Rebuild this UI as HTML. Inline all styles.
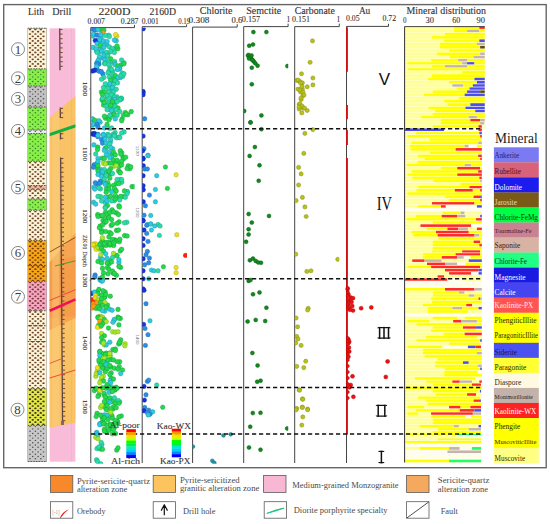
<!DOCTYPE html>
<html><head><meta charset="utf-8"><style>
html,body{margin:0;padding:0;background:#fff;width:550px;height:524px;overflow:hidden}
svg{display:block}
</style></head><body>
<svg width="550" height="524" viewBox="0 0 550 524">
<rect width="550" height="524" fill="#fff"/>
<rect x="3.7" y="4.6" width="542.5" height="463.1" fill="none" stroke="#666" stroke-width="1.4"/>
<text x="28" y="15.3" font-size="10" fill="#333" stroke="#333" stroke-width="0.12" text-anchor="start" font-family="Liberation Serif" textLength="16" lengthAdjust="spacingAndGlyphs" >Lith</text>
<text x="52.3" y="15.3" font-size="10" fill="#333" stroke="#333" stroke-width="0.12" text-anchor="start" font-family="Liberation Serif" textLength="19" lengthAdjust="spacingAndGlyphs" >Drill</text>
<text x="98.5" y="14.6" font-size="10" fill="#333" stroke="#333" stroke-width="0.12" text-anchor="start" font-family="Liberation Serif" textLength="32" lengthAdjust="spacingAndGlyphs" >2200D</text>
<text x="149.4" y="14.6" font-size="10" fill="#333" stroke="#333" stroke-width="0.12" text-anchor="start" font-family="Liberation Serif" textLength="26.6" lengthAdjust="spacingAndGlyphs" >2160D</text>
<text x="199.8" y="14.1" font-size="10" fill="#333" stroke="#333" stroke-width="0.12" text-anchor="start" font-family="Liberation Serif" textLength="32.7" lengthAdjust="spacingAndGlyphs" >Chlorite</text>
<text x="246.3" y="14.1" font-size="10" fill="#333" stroke="#333" stroke-width="0.12" text-anchor="start" font-family="Liberation Serif" textLength="35" lengthAdjust="spacingAndGlyphs" >Semctite</text>
<text x="294.7" y="14.1" font-size="10" fill="#333" stroke="#333" stroke-width="0.12" text-anchor="start" font-family="Liberation Serif" textLength="40.2" lengthAdjust="spacingAndGlyphs" >Carbonate</text>
<text x="358.9" y="14.1" font-size="10" fill="#333" stroke="#333" stroke-width="0.12" text-anchor="start" font-family="Liberation Serif" textLength="11.4" lengthAdjust="spacingAndGlyphs" >Au</text>
<text x="406.5" y="14.1" font-size="10" fill="#333" stroke="#333" stroke-width="0.12" text-anchor="start" font-family="Liberation Serif" textLength="79.5" lengthAdjust="spacingAndGlyphs" >Mineral distribution</text>
<rect x="27.8" y="28.2" width="18.999999999999996" height="40.599999999999994" fill="#fdf4d8"/>
<ellipse cx="30.0" cy="29.4" rx="1.2" ry="0.85" fill="#6e4228"/>
<ellipse cx="35.4" cy="29.4" rx="1.2" ry="0.85" fill="#6e4228"/>
<ellipse cx="40.8" cy="29.4" rx="1.2" ry="0.85" fill="#6e4228"/>
<ellipse cx="32.7" cy="31.7" rx="1.2" ry="0.85" fill="#6e4228"/>
<ellipse cx="38.1" cy="31.7" rx="1.2" ry="0.85" fill="#6e4228"/>
<ellipse cx="43.5" cy="31.7" rx="1.2" ry="0.85" fill="#6e4228"/>
<ellipse cx="30.0" cy="34.0" rx="1.2" ry="0.85" fill="#6e4228"/>
<ellipse cx="35.4" cy="34.0" rx="1.2" ry="0.85" fill="#6e4228"/>
<ellipse cx="40.8" cy="34.0" rx="1.2" ry="0.85" fill="#6e4228"/>
<ellipse cx="32.7" cy="36.3" rx="1.2" ry="0.85" fill="#6e4228"/>
<ellipse cx="38.1" cy="36.3" rx="1.2" ry="0.85" fill="#6e4228"/>
<ellipse cx="43.5" cy="36.3" rx="1.2" ry="0.85" fill="#6e4228"/>
<ellipse cx="30.0" cy="38.6" rx="1.2" ry="0.85" fill="#6e4228"/>
<ellipse cx="35.4" cy="38.6" rx="1.2" ry="0.85" fill="#6e4228"/>
<ellipse cx="40.8" cy="38.6" rx="1.2" ry="0.85" fill="#6e4228"/>
<ellipse cx="32.7" cy="40.9" rx="1.2" ry="0.85" fill="#6e4228"/>
<ellipse cx="38.1" cy="40.9" rx="1.2" ry="0.85" fill="#6e4228"/>
<ellipse cx="43.5" cy="40.9" rx="1.2" ry="0.85" fill="#6e4228"/>
<ellipse cx="30.0" cy="43.2" rx="1.2" ry="0.85" fill="#6e4228"/>
<ellipse cx="35.4" cy="43.2" rx="1.2" ry="0.85" fill="#6e4228"/>
<ellipse cx="40.8" cy="43.2" rx="1.2" ry="0.85" fill="#6e4228"/>
<ellipse cx="32.7" cy="45.5" rx="1.2" ry="0.85" fill="#6e4228"/>
<ellipse cx="38.1" cy="45.5" rx="1.2" ry="0.85" fill="#6e4228"/>
<ellipse cx="43.5" cy="45.5" rx="1.2" ry="0.85" fill="#6e4228"/>
<ellipse cx="30.0" cy="47.8" rx="1.2" ry="0.85" fill="#6e4228"/>
<ellipse cx="35.4" cy="47.8" rx="1.2" ry="0.85" fill="#6e4228"/>
<ellipse cx="40.8" cy="47.8" rx="1.2" ry="0.85" fill="#6e4228"/>
<ellipse cx="32.7" cy="50.1" rx="1.2" ry="0.85" fill="#6e4228"/>
<ellipse cx="38.1" cy="50.1" rx="1.2" ry="0.85" fill="#6e4228"/>
<ellipse cx="43.5" cy="50.1" rx="1.2" ry="0.85" fill="#6e4228"/>
<ellipse cx="30.0" cy="52.4" rx="1.2" ry="0.85" fill="#6e4228"/>
<ellipse cx="35.4" cy="52.4" rx="1.2" ry="0.85" fill="#6e4228"/>
<ellipse cx="40.8" cy="52.4" rx="1.2" ry="0.85" fill="#6e4228"/>
<ellipse cx="32.7" cy="54.7" rx="1.2" ry="0.85" fill="#6e4228"/>
<ellipse cx="38.1" cy="54.7" rx="1.2" ry="0.85" fill="#6e4228"/>
<ellipse cx="43.5" cy="54.7" rx="1.2" ry="0.85" fill="#6e4228"/>
<ellipse cx="30.0" cy="57.0" rx="1.2" ry="0.85" fill="#6e4228"/>
<ellipse cx="35.4" cy="57.0" rx="1.2" ry="0.85" fill="#6e4228"/>
<ellipse cx="40.8" cy="57.0" rx="1.2" ry="0.85" fill="#6e4228"/>
<ellipse cx="32.7" cy="59.3" rx="1.2" ry="0.85" fill="#6e4228"/>
<ellipse cx="38.1" cy="59.3" rx="1.2" ry="0.85" fill="#6e4228"/>
<ellipse cx="43.5" cy="59.3" rx="1.2" ry="0.85" fill="#6e4228"/>
<ellipse cx="30.0" cy="61.6" rx="1.2" ry="0.85" fill="#6e4228"/>
<ellipse cx="35.4" cy="61.6" rx="1.2" ry="0.85" fill="#6e4228"/>
<ellipse cx="40.8" cy="61.6" rx="1.2" ry="0.85" fill="#6e4228"/>
<ellipse cx="32.7" cy="63.9" rx="1.2" ry="0.85" fill="#6e4228"/>
<ellipse cx="38.1" cy="63.9" rx="1.2" ry="0.85" fill="#6e4228"/>
<ellipse cx="43.5" cy="63.9" rx="1.2" ry="0.85" fill="#6e4228"/>
<ellipse cx="30.0" cy="66.2" rx="1.2" ry="0.85" fill="#6e4228"/>
<ellipse cx="35.4" cy="66.2" rx="1.2" ry="0.85" fill="#6e4228"/>
<ellipse cx="40.8" cy="66.2" rx="1.2" ry="0.85" fill="#6e4228"/>
<line x1="27.8" y1="28.2" x2="46.8" y2="28.2" stroke="#4a4a3a" stroke-width="0.9" stroke-dasharray="1.6 1.1"/>
<rect x="27.8" y="68.8" width="18.999999999999996" height="17.200000000000003" fill="#88ee4a"/>
<ellipse cx="30.0" cy="70.0" rx="0.8" ry="0.7" fill="#3a7a2a"/>
<ellipse cx="35.4" cy="70.0" rx="0.8" ry="0.7" fill="#3a7a2a"/>
<ellipse cx="40.8" cy="70.0" rx="0.8" ry="0.7" fill="#3a7a2a"/>
<ellipse cx="32.7" cy="72.3" rx="0.8" ry="0.7" fill="#3a7a2a"/>
<ellipse cx="38.1" cy="72.3" rx="0.8" ry="0.7" fill="#3a7a2a"/>
<ellipse cx="43.5" cy="72.3" rx="0.8" ry="0.7" fill="#3a7a2a"/>
<ellipse cx="30.0" cy="74.6" rx="0.8" ry="0.7" fill="#3a7a2a"/>
<ellipse cx="35.4" cy="74.6" rx="0.8" ry="0.7" fill="#3a7a2a"/>
<ellipse cx="40.8" cy="74.6" rx="0.8" ry="0.7" fill="#3a7a2a"/>
<ellipse cx="32.7" cy="76.9" rx="0.8" ry="0.7" fill="#3a7a2a"/>
<ellipse cx="38.1" cy="76.9" rx="0.8" ry="0.7" fill="#3a7a2a"/>
<ellipse cx="43.5" cy="76.9" rx="0.8" ry="0.7" fill="#3a7a2a"/>
<ellipse cx="30.0" cy="79.2" rx="0.8" ry="0.7" fill="#3a7a2a"/>
<ellipse cx="35.4" cy="79.2" rx="0.8" ry="0.7" fill="#3a7a2a"/>
<ellipse cx="40.8" cy="79.2" rx="0.8" ry="0.7" fill="#3a7a2a"/>
<ellipse cx="32.7" cy="81.5" rx="0.8" ry="0.7" fill="#3a7a2a"/>
<ellipse cx="38.1" cy="81.5" rx="0.8" ry="0.7" fill="#3a7a2a"/>
<ellipse cx="43.5" cy="81.5" rx="0.8" ry="0.7" fill="#3a7a2a"/>
<ellipse cx="30.0" cy="83.8" rx="0.8" ry="0.7" fill="#3a7a2a"/>
<ellipse cx="35.4" cy="83.8" rx="0.8" ry="0.7" fill="#3a7a2a"/>
<ellipse cx="40.8" cy="83.8" rx="0.8" ry="0.7" fill="#3a7a2a"/>
<line x1="27.8" y1="68.8" x2="46.8" y2="68.8" stroke="#4a4a3a" stroke-width="0.9" stroke-dasharray="1.6 1.1"/>
<rect x="27.8" y="86" width="18.999999999999996" height="21" fill="#c2c2c2"/>
<ellipse cx="30.0" cy="87.2" rx="0.8" ry="0.7" fill="#505050"/>
<ellipse cx="35.4" cy="87.2" rx="0.8" ry="0.7" fill="#505050"/>
<ellipse cx="40.8" cy="87.2" rx="0.8" ry="0.7" fill="#505050"/>
<ellipse cx="32.7" cy="89.5" rx="0.8" ry="0.7" fill="#505050"/>
<ellipse cx="38.1" cy="89.5" rx="0.8" ry="0.7" fill="#505050"/>
<ellipse cx="43.5" cy="89.5" rx="0.8" ry="0.7" fill="#505050"/>
<ellipse cx="30.0" cy="91.8" rx="0.8" ry="0.7" fill="#505050"/>
<ellipse cx="35.4" cy="91.8" rx="0.8" ry="0.7" fill="#505050"/>
<ellipse cx="40.8" cy="91.8" rx="0.8" ry="0.7" fill="#505050"/>
<ellipse cx="32.7" cy="94.1" rx="0.8" ry="0.7" fill="#505050"/>
<ellipse cx="38.1" cy="94.1" rx="0.8" ry="0.7" fill="#505050"/>
<ellipse cx="43.5" cy="94.1" rx="0.8" ry="0.7" fill="#505050"/>
<ellipse cx="30.0" cy="96.4" rx="0.8" ry="0.7" fill="#505050"/>
<ellipse cx="35.4" cy="96.4" rx="0.8" ry="0.7" fill="#505050"/>
<ellipse cx="40.8" cy="96.4" rx="0.8" ry="0.7" fill="#505050"/>
<ellipse cx="32.7" cy="98.7" rx="0.8" ry="0.7" fill="#505050"/>
<ellipse cx="38.1" cy="98.7" rx="0.8" ry="0.7" fill="#505050"/>
<ellipse cx="43.5" cy="98.7" rx="0.8" ry="0.7" fill="#505050"/>
<ellipse cx="30.0" cy="101.0" rx="0.8" ry="0.7" fill="#505050"/>
<ellipse cx="35.4" cy="101.0" rx="0.8" ry="0.7" fill="#505050"/>
<ellipse cx="40.8" cy="101.0" rx="0.8" ry="0.7" fill="#505050"/>
<ellipse cx="32.7" cy="103.3" rx="0.8" ry="0.7" fill="#505050"/>
<ellipse cx="38.1" cy="103.3" rx="0.8" ry="0.7" fill="#505050"/>
<ellipse cx="43.5" cy="103.3" rx="0.8" ry="0.7" fill="#505050"/>
<ellipse cx="30.0" cy="105.6" rx="0.8" ry="0.7" fill="#505050"/>
<ellipse cx="35.4" cy="105.6" rx="0.8" ry="0.7" fill="#505050"/>
<ellipse cx="40.8" cy="105.6" rx="0.8" ry="0.7" fill="#505050"/>
<line x1="27.8" y1="86" x2="46.8" y2="86" stroke="#4a4a3a" stroke-width="0.9" stroke-dasharray="1.6 1.1"/>
<rect x="27.8" y="107" width="18.999999999999996" height="23" fill="#88ee4a"/>
<ellipse cx="30.0" cy="108.2" rx="0.8" ry="0.7" fill="#3a7a2a"/>
<ellipse cx="35.4" cy="108.2" rx="0.8" ry="0.7" fill="#3a7a2a"/>
<ellipse cx="40.8" cy="108.2" rx="0.8" ry="0.7" fill="#3a7a2a"/>
<ellipse cx="32.7" cy="110.5" rx="0.8" ry="0.7" fill="#3a7a2a"/>
<ellipse cx="38.1" cy="110.5" rx="0.8" ry="0.7" fill="#3a7a2a"/>
<ellipse cx="43.5" cy="110.5" rx="0.8" ry="0.7" fill="#3a7a2a"/>
<ellipse cx="30.0" cy="112.8" rx="0.8" ry="0.7" fill="#3a7a2a"/>
<ellipse cx="35.4" cy="112.8" rx="0.8" ry="0.7" fill="#3a7a2a"/>
<ellipse cx="40.8" cy="112.8" rx="0.8" ry="0.7" fill="#3a7a2a"/>
<ellipse cx="32.7" cy="115.1" rx="0.8" ry="0.7" fill="#3a7a2a"/>
<ellipse cx="38.1" cy="115.1" rx="0.8" ry="0.7" fill="#3a7a2a"/>
<ellipse cx="43.5" cy="115.1" rx="0.8" ry="0.7" fill="#3a7a2a"/>
<ellipse cx="30.0" cy="117.4" rx="0.8" ry="0.7" fill="#3a7a2a"/>
<ellipse cx="35.4" cy="117.4" rx="0.8" ry="0.7" fill="#3a7a2a"/>
<ellipse cx="40.8" cy="117.4" rx="0.8" ry="0.7" fill="#3a7a2a"/>
<ellipse cx="32.7" cy="119.7" rx="0.8" ry="0.7" fill="#3a7a2a"/>
<ellipse cx="38.1" cy="119.7" rx="0.8" ry="0.7" fill="#3a7a2a"/>
<ellipse cx="43.5" cy="119.7" rx="0.8" ry="0.7" fill="#3a7a2a"/>
<ellipse cx="30.0" cy="122.0" rx="0.8" ry="0.7" fill="#3a7a2a"/>
<ellipse cx="35.4" cy="122.0" rx="0.8" ry="0.7" fill="#3a7a2a"/>
<ellipse cx="40.8" cy="122.0" rx="0.8" ry="0.7" fill="#3a7a2a"/>
<ellipse cx="32.7" cy="124.3" rx="0.8" ry="0.7" fill="#3a7a2a"/>
<ellipse cx="38.1" cy="124.3" rx="0.8" ry="0.7" fill="#3a7a2a"/>
<ellipse cx="43.5" cy="124.3" rx="0.8" ry="0.7" fill="#3a7a2a"/>
<ellipse cx="30.0" cy="126.6" rx="0.8" ry="0.7" fill="#3a7a2a"/>
<ellipse cx="35.4" cy="126.6" rx="0.8" ry="0.7" fill="#3a7a2a"/>
<ellipse cx="40.8" cy="126.6" rx="0.8" ry="0.7" fill="#3a7a2a"/>
<ellipse cx="32.7" cy="128.9" rx="0.8" ry="0.7" fill="#3a7a2a"/>
<ellipse cx="38.1" cy="128.9" rx="0.8" ry="0.7" fill="#3a7a2a"/>
<ellipse cx="43.5" cy="128.9" rx="0.8" ry="0.7" fill="#3a7a2a"/>
<line x1="27.8" y1="107" x2="46.8" y2="107" stroke="#4a4a3a" stroke-width="0.9" stroke-dasharray="1.6 1.1"/>
<rect x="27.8" y="130" width="18.999999999999996" height="3.5" fill="#e6eef0"/>
<ellipse cx="30.0" cy="131.2" rx="0.8" ry="0.7" fill="#444"/>
<ellipse cx="35.4" cy="131.2" rx="0.8" ry="0.7" fill="#444"/>
<ellipse cx="40.8" cy="131.2" rx="0.8" ry="0.7" fill="#444"/>
<line x1="27.8" y1="130" x2="46.8" y2="130" stroke="#4a4a3a" stroke-width="0.9" stroke-dasharray="1.6 1.1"/>
<rect x="27.8" y="133.5" width="18.999999999999996" height="27.900000000000006" fill="#88ee4a"/>
<ellipse cx="30.0" cy="134.7" rx="0.8" ry="0.7" fill="#3a7a2a"/>
<ellipse cx="35.4" cy="134.7" rx="0.8" ry="0.7" fill="#3a7a2a"/>
<ellipse cx="40.8" cy="134.7" rx="0.8" ry="0.7" fill="#3a7a2a"/>
<ellipse cx="32.7" cy="137.0" rx="0.8" ry="0.7" fill="#3a7a2a"/>
<ellipse cx="38.1" cy="137.0" rx="0.8" ry="0.7" fill="#3a7a2a"/>
<ellipse cx="43.5" cy="137.0" rx="0.8" ry="0.7" fill="#3a7a2a"/>
<ellipse cx="30.0" cy="139.3" rx="0.8" ry="0.7" fill="#3a7a2a"/>
<ellipse cx="35.4" cy="139.3" rx="0.8" ry="0.7" fill="#3a7a2a"/>
<ellipse cx="40.8" cy="139.3" rx="0.8" ry="0.7" fill="#3a7a2a"/>
<ellipse cx="32.7" cy="141.6" rx="0.8" ry="0.7" fill="#3a7a2a"/>
<ellipse cx="38.1" cy="141.6" rx="0.8" ry="0.7" fill="#3a7a2a"/>
<ellipse cx="43.5" cy="141.6" rx="0.8" ry="0.7" fill="#3a7a2a"/>
<ellipse cx="30.0" cy="143.9" rx="0.8" ry="0.7" fill="#3a7a2a"/>
<ellipse cx="35.4" cy="143.9" rx="0.8" ry="0.7" fill="#3a7a2a"/>
<ellipse cx="40.8" cy="143.9" rx="0.8" ry="0.7" fill="#3a7a2a"/>
<ellipse cx="32.7" cy="146.2" rx="0.8" ry="0.7" fill="#3a7a2a"/>
<ellipse cx="38.1" cy="146.2" rx="0.8" ry="0.7" fill="#3a7a2a"/>
<ellipse cx="43.5" cy="146.2" rx="0.8" ry="0.7" fill="#3a7a2a"/>
<ellipse cx="30.0" cy="148.5" rx="0.8" ry="0.7" fill="#3a7a2a"/>
<ellipse cx="35.4" cy="148.5" rx="0.8" ry="0.7" fill="#3a7a2a"/>
<ellipse cx="40.8" cy="148.5" rx="0.8" ry="0.7" fill="#3a7a2a"/>
<ellipse cx="32.7" cy="150.8" rx="0.8" ry="0.7" fill="#3a7a2a"/>
<ellipse cx="38.1" cy="150.8" rx="0.8" ry="0.7" fill="#3a7a2a"/>
<ellipse cx="43.5" cy="150.8" rx="0.8" ry="0.7" fill="#3a7a2a"/>
<ellipse cx="30.0" cy="153.1" rx="0.8" ry="0.7" fill="#3a7a2a"/>
<ellipse cx="35.4" cy="153.1" rx="0.8" ry="0.7" fill="#3a7a2a"/>
<ellipse cx="40.8" cy="153.1" rx="0.8" ry="0.7" fill="#3a7a2a"/>
<ellipse cx="32.7" cy="155.4" rx="0.8" ry="0.7" fill="#3a7a2a"/>
<ellipse cx="38.1" cy="155.4" rx="0.8" ry="0.7" fill="#3a7a2a"/>
<ellipse cx="43.5" cy="155.4" rx="0.8" ry="0.7" fill="#3a7a2a"/>
<ellipse cx="30.0" cy="157.7" rx="0.8" ry="0.7" fill="#3a7a2a"/>
<ellipse cx="35.4" cy="157.7" rx="0.8" ry="0.7" fill="#3a7a2a"/>
<ellipse cx="40.8" cy="157.7" rx="0.8" ry="0.7" fill="#3a7a2a"/>
<ellipse cx="32.7" cy="160.0" rx="0.8" ry="0.7" fill="#3a7a2a"/>
<ellipse cx="38.1" cy="160.0" rx="0.8" ry="0.7" fill="#3a7a2a"/>
<ellipse cx="43.5" cy="160.0" rx="0.8" ry="0.7" fill="#3a7a2a"/>
<line x1="27.8" y1="133.5" x2="46.8" y2="133.5" stroke="#4a4a3a" stroke-width="0.9" stroke-dasharray="1.6 1.1"/>
<rect x="27.8" y="161.4" width="18.999999999999996" height="24.099999999999994" fill="#fdf4d8"/>
<ellipse cx="30.0" cy="162.6" rx="1.2" ry="0.85" fill="#6e4228"/>
<ellipse cx="35.4" cy="162.6" rx="1.2" ry="0.85" fill="#6e4228"/>
<ellipse cx="40.8" cy="162.6" rx="1.2" ry="0.85" fill="#6e4228"/>
<ellipse cx="32.7" cy="164.9" rx="1.2" ry="0.85" fill="#6e4228"/>
<ellipse cx="38.1" cy="164.9" rx="1.2" ry="0.85" fill="#6e4228"/>
<ellipse cx="43.5" cy="164.9" rx="1.2" ry="0.85" fill="#6e4228"/>
<ellipse cx="30.0" cy="167.2" rx="1.2" ry="0.85" fill="#6e4228"/>
<ellipse cx="35.4" cy="167.2" rx="1.2" ry="0.85" fill="#6e4228"/>
<ellipse cx="40.8" cy="167.2" rx="1.2" ry="0.85" fill="#6e4228"/>
<ellipse cx="32.7" cy="169.5" rx="1.2" ry="0.85" fill="#6e4228"/>
<ellipse cx="38.1" cy="169.5" rx="1.2" ry="0.85" fill="#6e4228"/>
<ellipse cx="43.5" cy="169.5" rx="1.2" ry="0.85" fill="#6e4228"/>
<ellipse cx="30.0" cy="171.8" rx="1.2" ry="0.85" fill="#6e4228"/>
<ellipse cx="35.4" cy="171.8" rx="1.2" ry="0.85" fill="#6e4228"/>
<ellipse cx="40.8" cy="171.8" rx="1.2" ry="0.85" fill="#6e4228"/>
<ellipse cx="32.7" cy="174.1" rx="1.2" ry="0.85" fill="#6e4228"/>
<ellipse cx="38.1" cy="174.1" rx="1.2" ry="0.85" fill="#6e4228"/>
<ellipse cx="43.5" cy="174.1" rx="1.2" ry="0.85" fill="#6e4228"/>
<ellipse cx="30.0" cy="176.4" rx="1.2" ry="0.85" fill="#6e4228"/>
<ellipse cx="35.4" cy="176.4" rx="1.2" ry="0.85" fill="#6e4228"/>
<ellipse cx="40.8" cy="176.4" rx="1.2" ry="0.85" fill="#6e4228"/>
<ellipse cx="32.7" cy="178.7" rx="1.2" ry="0.85" fill="#6e4228"/>
<ellipse cx="38.1" cy="178.7" rx="1.2" ry="0.85" fill="#6e4228"/>
<ellipse cx="43.5" cy="178.7" rx="1.2" ry="0.85" fill="#6e4228"/>
<ellipse cx="30.0" cy="181.0" rx="1.2" ry="0.85" fill="#6e4228"/>
<ellipse cx="35.4" cy="181.0" rx="1.2" ry="0.85" fill="#6e4228"/>
<ellipse cx="40.8" cy="181.0" rx="1.2" ry="0.85" fill="#6e4228"/>
<ellipse cx="32.7" cy="183.3" rx="1.2" ry="0.85" fill="#6e4228"/>
<ellipse cx="38.1" cy="183.3" rx="1.2" ry="0.85" fill="#6e4228"/>
<ellipse cx="43.5" cy="183.3" rx="1.2" ry="0.85" fill="#6e4228"/>
<line x1="27.8" y1="161.4" x2="46.8" y2="161.4" stroke="#4a4a3a" stroke-width="0.9" stroke-dasharray="1.6 1.1"/>
<rect x="27.8" y="185.5" width="18.999999999999996" height="4.199999999999989" fill="#e8b8a0"/>
<ellipse cx="30.0" cy="186.7" rx="1.2" ry="0.85" fill="#7a4a2a"/>
<ellipse cx="35.4" cy="186.7" rx="1.2" ry="0.85" fill="#7a4a2a"/>
<ellipse cx="40.8" cy="186.7" rx="1.2" ry="0.85" fill="#7a4a2a"/>
<ellipse cx="32.7" cy="189.0" rx="1.2" ry="0.85" fill="#7a4a2a"/>
<ellipse cx="38.1" cy="189.0" rx="1.2" ry="0.85" fill="#7a4a2a"/>
<ellipse cx="43.5" cy="189.0" rx="1.2" ry="0.85" fill="#7a4a2a"/>
<line x1="27.8" y1="185.5" x2="46.8" y2="185.5" stroke="#4a4a3a" stroke-width="0.9" stroke-dasharray="1.6 1.1"/>
<rect x="27.8" y="189.7" width="18.999999999999996" height="9.300000000000011" fill="#fdf4d8"/>
<ellipse cx="30.0" cy="190.9" rx="1.2" ry="0.85" fill="#6e4228"/>
<ellipse cx="35.4" cy="190.9" rx="1.2" ry="0.85" fill="#6e4228"/>
<ellipse cx="40.8" cy="190.9" rx="1.2" ry="0.85" fill="#6e4228"/>
<ellipse cx="32.7" cy="193.2" rx="1.2" ry="0.85" fill="#6e4228"/>
<ellipse cx="38.1" cy="193.2" rx="1.2" ry="0.85" fill="#6e4228"/>
<ellipse cx="43.5" cy="193.2" rx="1.2" ry="0.85" fill="#6e4228"/>
<ellipse cx="30.0" cy="195.5" rx="1.2" ry="0.85" fill="#6e4228"/>
<ellipse cx="35.4" cy="195.5" rx="1.2" ry="0.85" fill="#6e4228"/>
<ellipse cx="40.8" cy="195.5" rx="1.2" ry="0.85" fill="#6e4228"/>
<ellipse cx="32.7" cy="197.8" rx="1.2" ry="0.85" fill="#6e4228"/>
<ellipse cx="38.1" cy="197.8" rx="1.2" ry="0.85" fill="#6e4228"/>
<ellipse cx="43.5" cy="197.8" rx="1.2" ry="0.85" fill="#6e4228"/>
<line x1="27.8" y1="189.7" x2="46.8" y2="189.7" stroke="#4a4a3a" stroke-width="0.9" stroke-dasharray="1.6 1.1"/>
<rect x="27.8" y="199" width="18.999999999999996" height="11.300000000000011" fill="#88ee4a"/>
<ellipse cx="30.0" cy="200.2" rx="0.8" ry="0.7" fill="#3a7a2a"/>
<ellipse cx="35.4" cy="200.2" rx="0.8" ry="0.7" fill="#3a7a2a"/>
<ellipse cx="40.8" cy="200.2" rx="0.8" ry="0.7" fill="#3a7a2a"/>
<ellipse cx="32.7" cy="202.5" rx="0.8" ry="0.7" fill="#3a7a2a"/>
<ellipse cx="38.1" cy="202.5" rx="0.8" ry="0.7" fill="#3a7a2a"/>
<ellipse cx="43.5" cy="202.5" rx="0.8" ry="0.7" fill="#3a7a2a"/>
<ellipse cx="30.0" cy="204.8" rx="0.8" ry="0.7" fill="#3a7a2a"/>
<ellipse cx="35.4" cy="204.8" rx="0.8" ry="0.7" fill="#3a7a2a"/>
<ellipse cx="40.8" cy="204.8" rx="0.8" ry="0.7" fill="#3a7a2a"/>
<ellipse cx="32.7" cy="207.1" rx="0.8" ry="0.7" fill="#3a7a2a"/>
<ellipse cx="38.1" cy="207.1" rx="0.8" ry="0.7" fill="#3a7a2a"/>
<ellipse cx="43.5" cy="207.1" rx="0.8" ry="0.7" fill="#3a7a2a"/>
<ellipse cx="30.0" cy="209.4" rx="0.8" ry="0.7" fill="#3a7a2a"/>
<ellipse cx="35.4" cy="209.4" rx="0.8" ry="0.7" fill="#3a7a2a"/>
<ellipse cx="40.8" cy="209.4" rx="0.8" ry="0.7" fill="#3a7a2a"/>
<line x1="27.8" y1="199" x2="46.8" y2="199" stroke="#4a4a3a" stroke-width="0.9" stroke-dasharray="1.6 1.1"/>
<rect x="27.8" y="210.3" width="18.999999999999996" height="30.099999999999994" fill="#fdf4d8"/>
<ellipse cx="30.0" cy="211.5" rx="1.2" ry="0.85" fill="#6e4228"/>
<ellipse cx="35.4" cy="211.5" rx="1.2" ry="0.85" fill="#6e4228"/>
<ellipse cx="40.8" cy="211.5" rx="1.2" ry="0.85" fill="#6e4228"/>
<ellipse cx="32.7" cy="213.8" rx="1.2" ry="0.85" fill="#6e4228"/>
<ellipse cx="38.1" cy="213.8" rx="1.2" ry="0.85" fill="#6e4228"/>
<ellipse cx="43.5" cy="213.8" rx="1.2" ry="0.85" fill="#6e4228"/>
<ellipse cx="30.0" cy="216.1" rx="1.2" ry="0.85" fill="#6e4228"/>
<ellipse cx="35.4" cy="216.1" rx="1.2" ry="0.85" fill="#6e4228"/>
<ellipse cx="40.8" cy="216.1" rx="1.2" ry="0.85" fill="#6e4228"/>
<ellipse cx="32.7" cy="218.4" rx="1.2" ry="0.85" fill="#6e4228"/>
<ellipse cx="38.1" cy="218.4" rx="1.2" ry="0.85" fill="#6e4228"/>
<ellipse cx="43.5" cy="218.4" rx="1.2" ry="0.85" fill="#6e4228"/>
<ellipse cx="30.0" cy="220.7" rx="1.2" ry="0.85" fill="#6e4228"/>
<ellipse cx="35.4" cy="220.7" rx="1.2" ry="0.85" fill="#6e4228"/>
<ellipse cx="40.8" cy="220.7" rx="1.2" ry="0.85" fill="#6e4228"/>
<ellipse cx="32.7" cy="223.0" rx="1.2" ry="0.85" fill="#6e4228"/>
<ellipse cx="38.1" cy="223.0" rx="1.2" ry="0.85" fill="#6e4228"/>
<ellipse cx="43.5" cy="223.0" rx="1.2" ry="0.85" fill="#6e4228"/>
<ellipse cx="30.0" cy="225.3" rx="1.2" ry="0.85" fill="#6e4228"/>
<ellipse cx="35.4" cy="225.3" rx="1.2" ry="0.85" fill="#6e4228"/>
<ellipse cx="40.8" cy="225.3" rx="1.2" ry="0.85" fill="#6e4228"/>
<ellipse cx="32.7" cy="227.6" rx="1.2" ry="0.85" fill="#6e4228"/>
<ellipse cx="38.1" cy="227.6" rx="1.2" ry="0.85" fill="#6e4228"/>
<ellipse cx="43.5" cy="227.6" rx="1.2" ry="0.85" fill="#6e4228"/>
<ellipse cx="30.0" cy="229.9" rx="1.2" ry="0.85" fill="#6e4228"/>
<ellipse cx="35.4" cy="229.9" rx="1.2" ry="0.85" fill="#6e4228"/>
<ellipse cx="40.8" cy="229.9" rx="1.2" ry="0.85" fill="#6e4228"/>
<ellipse cx="32.7" cy="232.2" rx="1.2" ry="0.85" fill="#6e4228"/>
<ellipse cx="38.1" cy="232.2" rx="1.2" ry="0.85" fill="#6e4228"/>
<ellipse cx="43.5" cy="232.2" rx="1.2" ry="0.85" fill="#6e4228"/>
<ellipse cx="30.0" cy="234.5" rx="1.2" ry="0.85" fill="#6e4228"/>
<ellipse cx="35.4" cy="234.5" rx="1.2" ry="0.85" fill="#6e4228"/>
<ellipse cx="40.8" cy="234.5" rx="1.2" ry="0.85" fill="#6e4228"/>
<ellipse cx="32.7" cy="236.8" rx="1.2" ry="0.85" fill="#6e4228"/>
<ellipse cx="38.1" cy="236.8" rx="1.2" ry="0.85" fill="#6e4228"/>
<ellipse cx="43.5" cy="236.8" rx="1.2" ry="0.85" fill="#6e4228"/>
<ellipse cx="30.0" cy="239.1" rx="1.2" ry="0.85" fill="#6e4228"/>
<ellipse cx="35.4" cy="239.1" rx="1.2" ry="0.85" fill="#6e4228"/>
<ellipse cx="40.8" cy="239.1" rx="1.2" ry="0.85" fill="#6e4228"/>
<line x1="27.8" y1="210.3" x2="46.8" y2="210.3" stroke="#4a4a3a" stroke-width="0.9" stroke-dasharray="1.6 1.1"/>
<rect x="27.8" y="240.4" width="18.999999999999996" height="40.900000000000006" fill="#f7a818"/>
<ellipse cx="30.0" cy="241.6" rx="1.2" ry="0.85" fill="#7a3a10"/>
<ellipse cx="35.4" cy="241.6" rx="1.2" ry="0.85" fill="#7a3a10"/>
<ellipse cx="40.8" cy="241.6" rx="1.2" ry="0.85" fill="#7a3a10"/>
<ellipse cx="32.7" cy="243.9" rx="1.2" ry="0.85" fill="#7a3a10"/>
<ellipse cx="38.1" cy="243.9" rx="1.2" ry="0.85" fill="#7a3a10"/>
<ellipse cx="43.5" cy="243.9" rx="1.2" ry="0.85" fill="#7a3a10"/>
<ellipse cx="30.0" cy="246.2" rx="1.2" ry="0.85" fill="#7a3a10"/>
<ellipse cx="35.4" cy="246.2" rx="1.2" ry="0.85" fill="#7a3a10"/>
<ellipse cx="40.8" cy="246.2" rx="1.2" ry="0.85" fill="#7a3a10"/>
<ellipse cx="32.7" cy="248.5" rx="1.2" ry="0.85" fill="#7a3a10"/>
<ellipse cx="38.1" cy="248.5" rx="1.2" ry="0.85" fill="#7a3a10"/>
<ellipse cx="43.5" cy="248.5" rx="1.2" ry="0.85" fill="#7a3a10"/>
<ellipse cx="30.0" cy="250.8" rx="1.2" ry="0.85" fill="#7a3a10"/>
<ellipse cx="35.4" cy="250.8" rx="1.2" ry="0.85" fill="#7a3a10"/>
<ellipse cx="40.8" cy="250.8" rx="1.2" ry="0.85" fill="#7a3a10"/>
<ellipse cx="32.7" cy="253.1" rx="1.2" ry="0.85" fill="#7a3a10"/>
<ellipse cx="38.1" cy="253.1" rx="1.2" ry="0.85" fill="#7a3a10"/>
<ellipse cx="43.5" cy="253.1" rx="1.2" ry="0.85" fill="#7a3a10"/>
<ellipse cx="30.0" cy="255.4" rx="1.2" ry="0.85" fill="#7a3a10"/>
<ellipse cx="35.4" cy="255.4" rx="1.2" ry="0.85" fill="#7a3a10"/>
<ellipse cx="40.8" cy="255.4" rx="1.2" ry="0.85" fill="#7a3a10"/>
<ellipse cx="32.7" cy="257.7" rx="1.2" ry="0.85" fill="#7a3a10"/>
<ellipse cx="38.1" cy="257.7" rx="1.2" ry="0.85" fill="#7a3a10"/>
<ellipse cx="43.5" cy="257.7" rx="1.2" ry="0.85" fill="#7a3a10"/>
<ellipse cx="30.0" cy="260.0" rx="1.2" ry="0.85" fill="#7a3a10"/>
<ellipse cx="35.4" cy="260.0" rx="1.2" ry="0.85" fill="#7a3a10"/>
<ellipse cx="40.8" cy="260.0" rx="1.2" ry="0.85" fill="#7a3a10"/>
<ellipse cx="32.7" cy="262.3" rx="1.2" ry="0.85" fill="#7a3a10"/>
<ellipse cx="38.1" cy="262.3" rx="1.2" ry="0.85" fill="#7a3a10"/>
<ellipse cx="43.5" cy="262.3" rx="1.2" ry="0.85" fill="#7a3a10"/>
<ellipse cx="30.0" cy="264.6" rx="1.2" ry="0.85" fill="#7a3a10"/>
<ellipse cx="35.4" cy="264.6" rx="1.2" ry="0.85" fill="#7a3a10"/>
<ellipse cx="40.8" cy="264.6" rx="1.2" ry="0.85" fill="#7a3a10"/>
<ellipse cx="32.7" cy="266.9" rx="1.2" ry="0.85" fill="#7a3a10"/>
<ellipse cx="38.1" cy="266.9" rx="1.2" ry="0.85" fill="#7a3a10"/>
<ellipse cx="43.5" cy="266.9" rx="1.2" ry="0.85" fill="#7a3a10"/>
<ellipse cx="30.0" cy="269.2" rx="1.2" ry="0.85" fill="#7a3a10"/>
<ellipse cx="35.4" cy="269.2" rx="1.2" ry="0.85" fill="#7a3a10"/>
<ellipse cx="40.8" cy="269.2" rx="1.2" ry="0.85" fill="#7a3a10"/>
<ellipse cx="32.7" cy="271.5" rx="1.2" ry="0.85" fill="#7a3a10"/>
<ellipse cx="38.1" cy="271.5" rx="1.2" ry="0.85" fill="#7a3a10"/>
<ellipse cx="43.5" cy="271.5" rx="1.2" ry="0.85" fill="#7a3a10"/>
<ellipse cx="30.0" cy="273.8" rx="1.2" ry="0.85" fill="#7a3a10"/>
<ellipse cx="35.4" cy="273.8" rx="1.2" ry="0.85" fill="#7a3a10"/>
<ellipse cx="40.8" cy="273.8" rx="1.2" ry="0.85" fill="#7a3a10"/>
<ellipse cx="32.7" cy="276.1" rx="1.2" ry="0.85" fill="#7a3a10"/>
<ellipse cx="38.1" cy="276.1" rx="1.2" ry="0.85" fill="#7a3a10"/>
<ellipse cx="43.5" cy="276.1" rx="1.2" ry="0.85" fill="#7a3a10"/>
<ellipse cx="30.0" cy="278.4" rx="1.2" ry="0.85" fill="#7a3a10"/>
<ellipse cx="35.4" cy="278.4" rx="1.2" ry="0.85" fill="#7a3a10"/>
<ellipse cx="40.8" cy="278.4" rx="1.2" ry="0.85" fill="#7a3a10"/>
<ellipse cx="32.7" cy="280.7" rx="1.2" ry="0.85" fill="#7a3a10"/>
<ellipse cx="38.1" cy="280.7" rx="1.2" ry="0.85" fill="#7a3a10"/>
<ellipse cx="43.5" cy="280.7" rx="1.2" ry="0.85" fill="#7a3a10"/>
<line x1="27.8" y1="240.4" x2="46.8" y2="240.4" stroke="#4a4a3a" stroke-width="0.9" stroke-dasharray="1.6 1.1"/>
<rect x="27.8" y="281.3" width="18.999999999999996" height="29.399999999999977" fill="#f6a6c0"/>
<ellipse cx="30.0" cy="282.5" rx="1.2" ry="0.85" fill="#7a3a3a"/>
<ellipse cx="35.4" cy="282.5" rx="1.2" ry="0.85" fill="#7a3a3a"/>
<ellipse cx="40.8" cy="282.5" rx="1.2" ry="0.85" fill="#7a3a3a"/>
<ellipse cx="32.7" cy="284.8" rx="1.2" ry="0.85" fill="#7a3a3a"/>
<ellipse cx="38.1" cy="284.8" rx="1.2" ry="0.85" fill="#7a3a3a"/>
<ellipse cx="43.5" cy="284.8" rx="1.2" ry="0.85" fill="#7a3a3a"/>
<ellipse cx="30.0" cy="287.1" rx="1.2" ry="0.85" fill="#7a3a3a"/>
<ellipse cx="35.4" cy="287.1" rx="1.2" ry="0.85" fill="#7a3a3a"/>
<ellipse cx="40.8" cy="287.1" rx="1.2" ry="0.85" fill="#7a3a3a"/>
<ellipse cx="32.7" cy="289.4" rx="1.2" ry="0.85" fill="#7a3a3a"/>
<ellipse cx="38.1" cy="289.4" rx="1.2" ry="0.85" fill="#7a3a3a"/>
<ellipse cx="43.5" cy="289.4" rx="1.2" ry="0.85" fill="#7a3a3a"/>
<ellipse cx="30.0" cy="291.7" rx="1.2" ry="0.85" fill="#7a3a3a"/>
<ellipse cx="35.4" cy="291.7" rx="1.2" ry="0.85" fill="#7a3a3a"/>
<ellipse cx="40.8" cy="291.7" rx="1.2" ry="0.85" fill="#7a3a3a"/>
<ellipse cx="32.7" cy="294.0" rx="1.2" ry="0.85" fill="#7a3a3a"/>
<ellipse cx="38.1" cy="294.0" rx="1.2" ry="0.85" fill="#7a3a3a"/>
<ellipse cx="43.5" cy="294.0" rx="1.2" ry="0.85" fill="#7a3a3a"/>
<ellipse cx="30.0" cy="296.3" rx="1.2" ry="0.85" fill="#7a3a3a"/>
<ellipse cx="35.4" cy="296.3" rx="1.2" ry="0.85" fill="#7a3a3a"/>
<ellipse cx="40.8" cy="296.3" rx="1.2" ry="0.85" fill="#7a3a3a"/>
<ellipse cx="32.7" cy="298.6" rx="1.2" ry="0.85" fill="#7a3a3a"/>
<ellipse cx="38.1" cy="298.6" rx="1.2" ry="0.85" fill="#7a3a3a"/>
<ellipse cx="43.5" cy="298.6" rx="1.2" ry="0.85" fill="#7a3a3a"/>
<ellipse cx="30.0" cy="300.9" rx="1.2" ry="0.85" fill="#7a3a3a"/>
<ellipse cx="35.4" cy="300.9" rx="1.2" ry="0.85" fill="#7a3a3a"/>
<ellipse cx="40.8" cy="300.9" rx="1.2" ry="0.85" fill="#7a3a3a"/>
<ellipse cx="32.7" cy="303.2" rx="1.2" ry="0.85" fill="#7a3a3a"/>
<ellipse cx="38.1" cy="303.2" rx="1.2" ry="0.85" fill="#7a3a3a"/>
<ellipse cx="43.5" cy="303.2" rx="1.2" ry="0.85" fill="#7a3a3a"/>
<ellipse cx="30.0" cy="305.5" rx="1.2" ry="0.85" fill="#7a3a3a"/>
<ellipse cx="35.4" cy="305.5" rx="1.2" ry="0.85" fill="#7a3a3a"/>
<ellipse cx="40.8" cy="305.5" rx="1.2" ry="0.85" fill="#7a3a3a"/>
<ellipse cx="32.7" cy="307.8" rx="1.2" ry="0.85" fill="#7a3a3a"/>
<ellipse cx="38.1" cy="307.8" rx="1.2" ry="0.85" fill="#7a3a3a"/>
<ellipse cx="43.5" cy="307.8" rx="1.2" ry="0.85" fill="#7a3a3a"/>
<ellipse cx="30.0" cy="310.1" rx="1.2" ry="0.85" fill="#7a3a3a"/>
<ellipse cx="35.4" cy="310.1" rx="1.2" ry="0.85" fill="#7a3a3a"/>
<ellipse cx="40.8" cy="310.1" rx="1.2" ry="0.85" fill="#7a3a3a"/>
<line x1="27.8" y1="281.3" x2="46.8" y2="281.3" stroke="#4a4a3a" stroke-width="0.9" stroke-dasharray="1.6 1.1"/>
<rect x="27.8" y="310.7" width="18.999999999999996" height="78.0" fill="#fdf4d8"/>
<ellipse cx="30.0" cy="311.9" rx="1.2" ry="0.85" fill="#6e4228"/>
<ellipse cx="35.4" cy="311.9" rx="1.2" ry="0.85" fill="#6e4228"/>
<ellipse cx="40.8" cy="311.9" rx="1.2" ry="0.85" fill="#6e4228"/>
<ellipse cx="32.7" cy="314.2" rx="1.2" ry="0.85" fill="#6e4228"/>
<ellipse cx="38.1" cy="314.2" rx="1.2" ry="0.85" fill="#6e4228"/>
<ellipse cx="43.5" cy="314.2" rx="1.2" ry="0.85" fill="#6e4228"/>
<ellipse cx="30.0" cy="316.5" rx="1.2" ry="0.85" fill="#6e4228"/>
<ellipse cx="35.4" cy="316.5" rx="1.2" ry="0.85" fill="#6e4228"/>
<ellipse cx="40.8" cy="316.5" rx="1.2" ry="0.85" fill="#6e4228"/>
<ellipse cx="32.7" cy="318.8" rx="1.2" ry="0.85" fill="#6e4228"/>
<ellipse cx="38.1" cy="318.8" rx="1.2" ry="0.85" fill="#6e4228"/>
<ellipse cx="43.5" cy="318.8" rx="1.2" ry="0.85" fill="#6e4228"/>
<ellipse cx="30.0" cy="321.1" rx="1.2" ry="0.85" fill="#6e4228"/>
<ellipse cx="35.4" cy="321.1" rx="1.2" ry="0.85" fill="#6e4228"/>
<ellipse cx="40.8" cy="321.1" rx="1.2" ry="0.85" fill="#6e4228"/>
<ellipse cx="32.7" cy="323.4" rx="1.2" ry="0.85" fill="#6e4228"/>
<ellipse cx="38.1" cy="323.4" rx="1.2" ry="0.85" fill="#6e4228"/>
<ellipse cx="43.5" cy="323.4" rx="1.2" ry="0.85" fill="#6e4228"/>
<ellipse cx="30.0" cy="325.7" rx="1.2" ry="0.85" fill="#6e4228"/>
<ellipse cx="35.4" cy="325.7" rx="1.2" ry="0.85" fill="#6e4228"/>
<ellipse cx="40.8" cy="325.7" rx="1.2" ry="0.85" fill="#6e4228"/>
<ellipse cx="32.7" cy="328.0" rx="1.2" ry="0.85" fill="#6e4228"/>
<ellipse cx="38.1" cy="328.0" rx="1.2" ry="0.85" fill="#6e4228"/>
<ellipse cx="43.5" cy="328.0" rx="1.2" ry="0.85" fill="#6e4228"/>
<ellipse cx="30.0" cy="330.3" rx="1.2" ry="0.85" fill="#6e4228"/>
<ellipse cx="35.4" cy="330.3" rx="1.2" ry="0.85" fill="#6e4228"/>
<ellipse cx="40.8" cy="330.3" rx="1.2" ry="0.85" fill="#6e4228"/>
<ellipse cx="32.7" cy="332.6" rx="1.2" ry="0.85" fill="#6e4228"/>
<ellipse cx="38.1" cy="332.6" rx="1.2" ry="0.85" fill="#6e4228"/>
<ellipse cx="43.5" cy="332.6" rx="1.2" ry="0.85" fill="#6e4228"/>
<ellipse cx="30.0" cy="334.9" rx="1.2" ry="0.85" fill="#6e4228"/>
<ellipse cx="35.4" cy="334.9" rx="1.2" ry="0.85" fill="#6e4228"/>
<ellipse cx="40.8" cy="334.9" rx="1.2" ry="0.85" fill="#6e4228"/>
<ellipse cx="32.7" cy="337.2" rx="1.2" ry="0.85" fill="#6e4228"/>
<ellipse cx="38.1" cy="337.2" rx="1.2" ry="0.85" fill="#6e4228"/>
<ellipse cx="43.5" cy="337.2" rx="1.2" ry="0.85" fill="#6e4228"/>
<ellipse cx="30.0" cy="339.5" rx="1.2" ry="0.85" fill="#6e4228"/>
<ellipse cx="35.4" cy="339.5" rx="1.2" ry="0.85" fill="#6e4228"/>
<ellipse cx="40.8" cy="339.5" rx="1.2" ry="0.85" fill="#6e4228"/>
<ellipse cx="32.7" cy="341.8" rx="1.2" ry="0.85" fill="#6e4228"/>
<ellipse cx="38.1" cy="341.8" rx="1.2" ry="0.85" fill="#6e4228"/>
<ellipse cx="43.5" cy="341.8" rx="1.2" ry="0.85" fill="#6e4228"/>
<ellipse cx="30.0" cy="344.1" rx="1.2" ry="0.85" fill="#6e4228"/>
<ellipse cx="35.4" cy="344.1" rx="1.2" ry="0.85" fill="#6e4228"/>
<ellipse cx="40.8" cy="344.1" rx="1.2" ry="0.85" fill="#6e4228"/>
<ellipse cx="32.7" cy="346.4" rx="1.2" ry="0.85" fill="#6e4228"/>
<ellipse cx="38.1" cy="346.4" rx="1.2" ry="0.85" fill="#6e4228"/>
<ellipse cx="43.5" cy="346.4" rx="1.2" ry="0.85" fill="#6e4228"/>
<ellipse cx="30.0" cy="348.7" rx="1.2" ry="0.85" fill="#6e4228"/>
<ellipse cx="35.4" cy="348.7" rx="1.2" ry="0.85" fill="#6e4228"/>
<ellipse cx="40.8" cy="348.7" rx="1.2" ry="0.85" fill="#6e4228"/>
<ellipse cx="32.7" cy="351.0" rx="1.2" ry="0.85" fill="#6e4228"/>
<ellipse cx="38.1" cy="351.0" rx="1.2" ry="0.85" fill="#6e4228"/>
<ellipse cx="43.5" cy="351.0" rx="1.2" ry="0.85" fill="#6e4228"/>
<ellipse cx="30.0" cy="353.3" rx="1.2" ry="0.85" fill="#6e4228"/>
<ellipse cx="35.4" cy="353.3" rx="1.2" ry="0.85" fill="#6e4228"/>
<ellipse cx="40.8" cy="353.3" rx="1.2" ry="0.85" fill="#6e4228"/>
<ellipse cx="32.7" cy="355.6" rx="1.2" ry="0.85" fill="#6e4228"/>
<ellipse cx="38.1" cy="355.6" rx="1.2" ry="0.85" fill="#6e4228"/>
<ellipse cx="43.5" cy="355.6" rx="1.2" ry="0.85" fill="#6e4228"/>
<ellipse cx="30.0" cy="357.9" rx="1.2" ry="0.85" fill="#6e4228"/>
<ellipse cx="35.4" cy="357.9" rx="1.2" ry="0.85" fill="#6e4228"/>
<ellipse cx="40.8" cy="357.9" rx="1.2" ry="0.85" fill="#6e4228"/>
<ellipse cx="32.7" cy="360.2" rx="1.2" ry="0.85" fill="#6e4228"/>
<ellipse cx="38.1" cy="360.2" rx="1.2" ry="0.85" fill="#6e4228"/>
<ellipse cx="43.5" cy="360.2" rx="1.2" ry="0.85" fill="#6e4228"/>
<ellipse cx="30.0" cy="362.5" rx="1.2" ry="0.85" fill="#6e4228"/>
<ellipse cx="35.4" cy="362.5" rx="1.2" ry="0.85" fill="#6e4228"/>
<ellipse cx="40.8" cy="362.5" rx="1.2" ry="0.85" fill="#6e4228"/>
<ellipse cx="32.7" cy="364.8" rx="1.2" ry="0.85" fill="#6e4228"/>
<ellipse cx="38.1" cy="364.8" rx="1.2" ry="0.85" fill="#6e4228"/>
<ellipse cx="43.5" cy="364.8" rx="1.2" ry="0.85" fill="#6e4228"/>
<ellipse cx="30.0" cy="367.1" rx="1.2" ry="0.85" fill="#6e4228"/>
<ellipse cx="35.4" cy="367.1" rx="1.2" ry="0.85" fill="#6e4228"/>
<ellipse cx="40.8" cy="367.1" rx="1.2" ry="0.85" fill="#6e4228"/>
<ellipse cx="32.7" cy="369.4" rx="1.2" ry="0.85" fill="#6e4228"/>
<ellipse cx="38.1" cy="369.4" rx="1.2" ry="0.85" fill="#6e4228"/>
<ellipse cx="43.5" cy="369.4" rx="1.2" ry="0.85" fill="#6e4228"/>
<ellipse cx="30.0" cy="371.7" rx="1.2" ry="0.85" fill="#6e4228"/>
<ellipse cx="35.4" cy="371.7" rx="1.2" ry="0.85" fill="#6e4228"/>
<ellipse cx="40.8" cy="371.7" rx="1.2" ry="0.85" fill="#6e4228"/>
<ellipse cx="32.7" cy="374.0" rx="1.2" ry="0.85" fill="#6e4228"/>
<ellipse cx="38.1" cy="374.0" rx="1.2" ry="0.85" fill="#6e4228"/>
<ellipse cx="43.5" cy="374.0" rx="1.2" ry="0.85" fill="#6e4228"/>
<ellipse cx="30.0" cy="376.3" rx="1.2" ry="0.85" fill="#6e4228"/>
<ellipse cx="35.4" cy="376.3" rx="1.2" ry="0.85" fill="#6e4228"/>
<ellipse cx="40.8" cy="376.3" rx="1.2" ry="0.85" fill="#6e4228"/>
<ellipse cx="32.7" cy="378.6" rx="1.2" ry="0.85" fill="#6e4228"/>
<ellipse cx="38.1" cy="378.6" rx="1.2" ry="0.85" fill="#6e4228"/>
<ellipse cx="43.5" cy="378.6" rx="1.2" ry="0.85" fill="#6e4228"/>
<ellipse cx="30.0" cy="380.9" rx="1.2" ry="0.85" fill="#6e4228"/>
<ellipse cx="35.4" cy="380.9" rx="1.2" ry="0.85" fill="#6e4228"/>
<ellipse cx="40.8" cy="380.9" rx="1.2" ry="0.85" fill="#6e4228"/>
<ellipse cx="32.7" cy="383.2" rx="1.2" ry="0.85" fill="#6e4228"/>
<ellipse cx="38.1" cy="383.2" rx="1.2" ry="0.85" fill="#6e4228"/>
<ellipse cx="43.5" cy="383.2" rx="1.2" ry="0.85" fill="#6e4228"/>
<ellipse cx="30.0" cy="385.5" rx="1.2" ry="0.85" fill="#6e4228"/>
<ellipse cx="35.4" cy="385.5" rx="1.2" ry="0.85" fill="#6e4228"/>
<ellipse cx="40.8" cy="385.5" rx="1.2" ry="0.85" fill="#6e4228"/>
<ellipse cx="32.7" cy="387.8" rx="1.2" ry="0.85" fill="#6e4228"/>
<ellipse cx="38.1" cy="387.8" rx="1.2" ry="0.85" fill="#6e4228"/>
<ellipse cx="43.5" cy="387.8" rx="1.2" ry="0.85" fill="#6e4228"/>
<line x1="27.8" y1="310.7" x2="46.8" y2="310.7" stroke="#4a4a3a" stroke-width="0.9" stroke-dasharray="1.6 1.1"/>
<rect x="27.8" y="388.7" width="18.999999999999996" height="36.69999999999999" fill="#e2e84a"/>
<ellipse cx="30.0" cy="389.9" rx="1.2" ry="0.85" fill="#3a3010"/>
<ellipse cx="35.4" cy="389.9" rx="1.2" ry="0.85" fill="#3a3010"/>
<ellipse cx="40.8" cy="389.9" rx="1.2" ry="0.85" fill="#3a3010"/>
<ellipse cx="32.7" cy="392.2" rx="1.2" ry="0.85" fill="#3a3010"/>
<ellipse cx="38.1" cy="392.2" rx="1.2" ry="0.85" fill="#3a3010"/>
<ellipse cx="43.5" cy="392.2" rx="1.2" ry="0.85" fill="#3a3010"/>
<ellipse cx="30.0" cy="394.5" rx="1.2" ry="0.85" fill="#3a3010"/>
<ellipse cx="35.4" cy="394.5" rx="1.2" ry="0.85" fill="#3a3010"/>
<ellipse cx="40.8" cy="394.5" rx="1.2" ry="0.85" fill="#3a3010"/>
<ellipse cx="32.7" cy="396.8" rx="1.2" ry="0.85" fill="#3a3010"/>
<ellipse cx="38.1" cy="396.8" rx="1.2" ry="0.85" fill="#3a3010"/>
<ellipse cx="43.5" cy="396.8" rx="1.2" ry="0.85" fill="#3a3010"/>
<ellipse cx="30.0" cy="399.1" rx="1.2" ry="0.85" fill="#3a3010"/>
<ellipse cx="35.4" cy="399.1" rx="1.2" ry="0.85" fill="#3a3010"/>
<ellipse cx="40.8" cy="399.1" rx="1.2" ry="0.85" fill="#3a3010"/>
<ellipse cx="32.7" cy="401.4" rx="1.2" ry="0.85" fill="#3a3010"/>
<ellipse cx="38.1" cy="401.4" rx="1.2" ry="0.85" fill="#3a3010"/>
<ellipse cx="43.5" cy="401.4" rx="1.2" ry="0.85" fill="#3a3010"/>
<ellipse cx="30.0" cy="403.7" rx="1.2" ry="0.85" fill="#3a3010"/>
<ellipse cx="35.4" cy="403.7" rx="1.2" ry="0.85" fill="#3a3010"/>
<ellipse cx="40.8" cy="403.7" rx="1.2" ry="0.85" fill="#3a3010"/>
<ellipse cx="32.7" cy="406.0" rx="1.2" ry="0.85" fill="#3a3010"/>
<ellipse cx="38.1" cy="406.0" rx="1.2" ry="0.85" fill="#3a3010"/>
<ellipse cx="43.5" cy="406.0" rx="1.2" ry="0.85" fill="#3a3010"/>
<ellipse cx="30.0" cy="408.3" rx="1.2" ry="0.85" fill="#3a3010"/>
<ellipse cx="35.4" cy="408.3" rx="1.2" ry="0.85" fill="#3a3010"/>
<ellipse cx="40.8" cy="408.3" rx="1.2" ry="0.85" fill="#3a3010"/>
<ellipse cx="32.7" cy="410.6" rx="1.2" ry="0.85" fill="#3a3010"/>
<ellipse cx="38.1" cy="410.6" rx="1.2" ry="0.85" fill="#3a3010"/>
<ellipse cx="43.5" cy="410.6" rx="1.2" ry="0.85" fill="#3a3010"/>
<ellipse cx="30.0" cy="412.9" rx="1.2" ry="0.85" fill="#3a3010"/>
<ellipse cx="35.4" cy="412.9" rx="1.2" ry="0.85" fill="#3a3010"/>
<ellipse cx="40.8" cy="412.9" rx="1.2" ry="0.85" fill="#3a3010"/>
<ellipse cx="32.7" cy="415.2" rx="1.2" ry="0.85" fill="#3a3010"/>
<ellipse cx="38.1" cy="415.2" rx="1.2" ry="0.85" fill="#3a3010"/>
<ellipse cx="43.5" cy="415.2" rx="1.2" ry="0.85" fill="#3a3010"/>
<ellipse cx="30.0" cy="417.5" rx="1.2" ry="0.85" fill="#3a3010"/>
<ellipse cx="35.4" cy="417.5" rx="1.2" ry="0.85" fill="#3a3010"/>
<ellipse cx="40.8" cy="417.5" rx="1.2" ry="0.85" fill="#3a3010"/>
<ellipse cx="32.7" cy="419.8" rx="1.2" ry="0.85" fill="#3a3010"/>
<ellipse cx="38.1" cy="419.8" rx="1.2" ry="0.85" fill="#3a3010"/>
<ellipse cx="43.5" cy="419.8" rx="1.2" ry="0.85" fill="#3a3010"/>
<ellipse cx="30.0" cy="422.1" rx="1.2" ry="0.85" fill="#3a3010"/>
<ellipse cx="35.4" cy="422.1" rx="1.2" ry="0.85" fill="#3a3010"/>
<ellipse cx="40.8" cy="422.1" rx="1.2" ry="0.85" fill="#3a3010"/>
<ellipse cx="32.7" cy="424.4" rx="1.2" ry="0.85" fill="#3a3010"/>
<ellipse cx="38.1" cy="424.4" rx="1.2" ry="0.85" fill="#3a3010"/>
<ellipse cx="43.5" cy="424.4" rx="1.2" ry="0.85" fill="#3a3010"/>
<line x1="27.8" y1="388.7" x2="46.8" y2="388.7" stroke="#4a4a3a" stroke-width="0.9" stroke-dasharray="1.6 1.1"/>
<rect x="27.8" y="425.4" width="18.999999999999996" height="36.10000000000002" fill="#c8c8c8"/>
<ellipse cx="30.0" cy="426.6" rx="0.8" ry="0.7" fill="#505050"/>
<ellipse cx="35.4" cy="426.6" rx="0.8" ry="0.7" fill="#505050"/>
<ellipse cx="40.8" cy="426.6" rx="0.8" ry="0.7" fill="#505050"/>
<ellipse cx="32.7" cy="428.9" rx="0.8" ry="0.7" fill="#505050"/>
<ellipse cx="38.1" cy="428.9" rx="0.8" ry="0.7" fill="#505050"/>
<ellipse cx="43.5" cy="428.9" rx="0.8" ry="0.7" fill="#505050"/>
<ellipse cx="30.0" cy="431.2" rx="0.8" ry="0.7" fill="#505050"/>
<ellipse cx="35.4" cy="431.2" rx="0.8" ry="0.7" fill="#505050"/>
<ellipse cx="40.8" cy="431.2" rx="0.8" ry="0.7" fill="#505050"/>
<ellipse cx="32.7" cy="433.5" rx="0.8" ry="0.7" fill="#505050"/>
<ellipse cx="38.1" cy="433.5" rx="0.8" ry="0.7" fill="#505050"/>
<ellipse cx="43.5" cy="433.5" rx="0.8" ry="0.7" fill="#505050"/>
<ellipse cx="30.0" cy="435.8" rx="0.8" ry="0.7" fill="#505050"/>
<ellipse cx="35.4" cy="435.8" rx="0.8" ry="0.7" fill="#505050"/>
<ellipse cx="40.8" cy="435.8" rx="0.8" ry="0.7" fill="#505050"/>
<ellipse cx="32.7" cy="438.1" rx="0.8" ry="0.7" fill="#505050"/>
<ellipse cx="38.1" cy="438.1" rx="0.8" ry="0.7" fill="#505050"/>
<ellipse cx="43.5" cy="438.1" rx="0.8" ry="0.7" fill="#505050"/>
<ellipse cx="30.0" cy="440.4" rx="0.8" ry="0.7" fill="#505050"/>
<ellipse cx="35.4" cy="440.4" rx="0.8" ry="0.7" fill="#505050"/>
<ellipse cx="40.8" cy="440.4" rx="0.8" ry="0.7" fill="#505050"/>
<ellipse cx="32.7" cy="442.7" rx="0.8" ry="0.7" fill="#505050"/>
<ellipse cx="38.1" cy="442.7" rx="0.8" ry="0.7" fill="#505050"/>
<ellipse cx="43.5" cy="442.7" rx="0.8" ry="0.7" fill="#505050"/>
<ellipse cx="30.0" cy="445.0" rx="0.8" ry="0.7" fill="#505050"/>
<ellipse cx="35.4" cy="445.0" rx="0.8" ry="0.7" fill="#505050"/>
<ellipse cx="40.8" cy="445.0" rx="0.8" ry="0.7" fill="#505050"/>
<ellipse cx="32.7" cy="447.3" rx="0.8" ry="0.7" fill="#505050"/>
<ellipse cx="38.1" cy="447.3" rx="0.8" ry="0.7" fill="#505050"/>
<ellipse cx="43.5" cy="447.3" rx="0.8" ry="0.7" fill="#505050"/>
<ellipse cx="30.0" cy="449.6" rx="0.8" ry="0.7" fill="#505050"/>
<ellipse cx="35.4" cy="449.6" rx="0.8" ry="0.7" fill="#505050"/>
<ellipse cx="40.8" cy="449.6" rx="0.8" ry="0.7" fill="#505050"/>
<ellipse cx="32.7" cy="451.9" rx="0.8" ry="0.7" fill="#505050"/>
<ellipse cx="38.1" cy="451.9" rx="0.8" ry="0.7" fill="#505050"/>
<ellipse cx="43.5" cy="451.9" rx="0.8" ry="0.7" fill="#505050"/>
<ellipse cx="30.0" cy="454.2" rx="0.8" ry="0.7" fill="#505050"/>
<ellipse cx="35.4" cy="454.2" rx="0.8" ry="0.7" fill="#505050"/>
<ellipse cx="40.8" cy="454.2" rx="0.8" ry="0.7" fill="#505050"/>
<ellipse cx="32.7" cy="456.5" rx="0.8" ry="0.7" fill="#505050"/>
<ellipse cx="38.1" cy="456.5" rx="0.8" ry="0.7" fill="#505050"/>
<ellipse cx="43.5" cy="456.5" rx="0.8" ry="0.7" fill="#505050"/>
<ellipse cx="30.0" cy="458.8" rx="0.8" ry="0.7" fill="#505050"/>
<ellipse cx="35.4" cy="458.8" rx="0.8" ry="0.7" fill="#505050"/>
<ellipse cx="40.8" cy="458.8" rx="0.8" ry="0.7" fill="#505050"/>
<line x1="27.8" y1="425.4" x2="46.8" y2="425.4" stroke="#4a4a3a" stroke-width="0.9" stroke-dasharray="1.6 1.1"/>
<line x1="27.8" y1="265.6" x2="46.8" y2="265.6" stroke="#4a3a2a" stroke-width="0.9" stroke-dasharray="1.6 1.1"/>
<line x1="27.8" y1="325.7" x2="46.8" y2="325.7" stroke="#4a3a2a" stroke-width="0.9" stroke-dasharray="1.6 1.1"/>
<line x1="27.8" y1="341.5" x2="46.8" y2="341.5" stroke="#4a3a2a" stroke-width="0.9" stroke-dasharray="1.6 1.1"/>
<line x1="27.8" y1="461.5" x2="46.8" y2="461.5" stroke="#333" stroke-width="0.9" stroke-dasharray="1.6 1.1"/>
<rect x="27.8" y="28.2" width="18.999999999999996" height="433.3" fill="none" stroke="#777" stroke-width="0.4"/>
<rect x="49.7" y="28.3" width="25.700000000000003" height="433.4" fill="#f9bcd8"/>
<polygon points="49.7,117.4 75.4,96 75.4,422.7 49.7,427.4" fill="#f9c264"/>
<polygon points="49.7,262 75.4,233 75.4,318 49.7,330" fill="#f6a652"/>
<polygon points="49.7,262 75.4,256 75.4,316 49.7,318" fill="#f59a46" opacity="0.7"/>
<polygon points="52.3,115.2 59.3,109.4 59.3,425.8 52.3,426.5" fill="#fbd080" opacity="0.45"/>
<line x1="71.5" y1="28.3" x2="71.5" y2="461.7" stroke="#e89aa0" stroke-width="0.5" opacity="0.45"/>
<polygon points="49.7,133.0 75.4,124.2 75.4,127.4 49.7,136.3" fill="#14b040"/>
<line x1="59.70" y1="28.5" x2="60.00" y2="70.3" stroke="#5e4446" stroke-width="1.3"/>
<line x1="59.71" y1="29.5" x2="62.51" y2="29.5" stroke="#7a5038" stroke-width="1.1"/>
<line x1="59.74" y1="34.1" x2="62.54" y2="34.1" stroke="#7a5038" stroke-width="1.1"/>
<line x1="59.78" y1="38.7" x2="62.58" y2="38.7" stroke="#7a5038" stroke-width="1.1"/>
<line x1="59.81" y1="43.3" x2="62.61" y2="43.3" stroke="#7a5038" stroke-width="1.1"/>
<line x1="59.84" y1="47.9" x2="62.64" y2="47.9" stroke="#7a5038" stroke-width="1.1"/>
<line x1="59.88" y1="52.5" x2="62.68" y2="52.5" stroke="#7a5038" stroke-width="1.1"/>
<line x1="59.91" y1="57.1" x2="62.71" y2="57.1" stroke="#7a5038" stroke-width="1.1"/>
<line x1="59.94" y1="61.7" x2="62.74" y2="61.7" stroke="#7a5038" stroke-width="1.1"/>
<line x1="59.98" y1="66.3" x2="62.78" y2="66.3" stroke="#7a5038" stroke-width="1.1"/>
<line x1="60.27" y1="107.4" x2="60.35" y2="118" stroke="#5e4446" stroke-width="1.3"/>
<line x1="60.28" y1="108.4" x2="63.08" y2="108.4" stroke="#7a5038" stroke-width="1.1"/>
<line x1="60.31" y1="113.0" x2="63.11" y2="113.0" stroke="#7a5038" stroke-width="1.1"/>
<line x1="60.35" y1="117.6" x2="63.15" y2="117.6" stroke="#7a5038" stroke-width="1.1"/>
<line x1="60.45" y1="132.7" x2="60.50" y2="139.4" stroke="#5e4446" stroke-width="1.3"/>
<line x1="60.46" y1="133.7" x2="63.26" y2="133.7" stroke="#7a5038" stroke-width="1.1"/>
<line x1="60.49" y1="138.3" x2="63.29" y2="138.3" stroke="#7a5038" stroke-width="1.1"/>
<line x1="60.63" y1="157.5" x2="62.53" y2="421" stroke="#5e4446" stroke-width="1.3"/>
<line x1="60.64" y1="158.5" x2="63.44" y2="158.5" stroke="#7a5038" stroke-width="1.1"/>
<line x1="60.67" y1="163.1" x2="63.47" y2="163.1" stroke="#7a5038" stroke-width="1.1"/>
<line x1="60.71" y1="167.7" x2="63.51" y2="167.7" stroke="#7a5038" stroke-width="1.1"/>
<line x1="60.74" y1="172.3" x2="63.54" y2="172.3" stroke="#7a5038" stroke-width="1.1"/>
<line x1="60.77" y1="176.9" x2="63.57" y2="176.9" stroke="#7a5038" stroke-width="1.1"/>
<line x1="60.81" y1="181.5" x2="63.61" y2="181.5" stroke="#7a5038" stroke-width="1.1"/>
<line x1="60.84" y1="186.1" x2="63.64" y2="186.1" stroke="#7a5038" stroke-width="1.1"/>
<line x1="60.87" y1="190.7" x2="63.67" y2="190.7" stroke="#7a5038" stroke-width="1.1"/>
<line x1="60.90" y1="195.3" x2="63.70" y2="195.3" stroke="#7a5038" stroke-width="1.1"/>
<line x1="60.94" y1="199.9" x2="63.74" y2="199.9" stroke="#7a5038" stroke-width="1.1"/>
<line x1="60.97" y1="204.5" x2="63.77" y2="204.5" stroke="#7a5038" stroke-width="1.1"/>
<line x1="61.00" y1="209.1" x2="63.80" y2="209.1" stroke="#7a5038" stroke-width="1.1"/>
<line x1="61.04" y1="213.7" x2="63.84" y2="213.7" stroke="#7a5038" stroke-width="1.1"/>
<line x1="61.07" y1="218.3" x2="63.87" y2="218.3" stroke="#7a5038" stroke-width="1.1"/>
<line x1="61.10" y1="222.9" x2="63.90" y2="222.9" stroke="#7a5038" stroke-width="1.1"/>
<line x1="61.14" y1="227.5" x2="63.94" y2="227.5" stroke="#7a5038" stroke-width="1.1"/>
<line x1="61.17" y1="232.1" x2="63.97" y2="232.1" stroke="#7a5038" stroke-width="1.1"/>
<line x1="61.20" y1="236.7" x2="64.00" y2="236.7" stroke="#7a5038" stroke-width="1.1"/>
<line x1="61.24" y1="241.3" x2="64.04" y2="241.3" stroke="#7a5038" stroke-width="1.1"/>
<line x1="61.27" y1="245.9" x2="64.07" y2="245.9" stroke="#7a5038" stroke-width="1.1"/>
<line x1="61.30" y1="250.5" x2="64.10" y2="250.5" stroke="#7a5038" stroke-width="1.1"/>
<line x1="61.34" y1="255.1" x2="64.14" y2="255.1" stroke="#7a5038" stroke-width="1.1"/>
<line x1="61.37" y1="259.7" x2="64.17" y2="259.7" stroke="#7a5038" stroke-width="1.1"/>
<line x1="61.40" y1="264.3" x2="64.20" y2="264.3" stroke="#7a5038" stroke-width="1.1"/>
<line x1="61.43" y1="268.9" x2="64.23" y2="268.9" stroke="#7a5038" stroke-width="1.1"/>
<line x1="61.47" y1="273.5" x2="64.27" y2="273.5" stroke="#7a5038" stroke-width="1.1"/>
<line x1="61.50" y1="278.1" x2="64.30" y2="278.1" stroke="#7a5038" stroke-width="1.1"/>
<line x1="61.53" y1="282.7" x2="64.33" y2="282.7" stroke="#7a5038" stroke-width="1.1"/>
<line x1="61.57" y1="287.3" x2="64.37" y2="287.3" stroke="#7a5038" stroke-width="1.1"/>
<line x1="61.60" y1="291.9" x2="64.40" y2="291.9" stroke="#7a5038" stroke-width="1.1"/>
<line x1="61.63" y1="296.5" x2="64.43" y2="296.5" stroke="#7a5038" stroke-width="1.1"/>
<line x1="61.67" y1="301.1" x2="64.47" y2="301.1" stroke="#7a5038" stroke-width="1.1"/>
<line x1="61.70" y1="305.7" x2="64.50" y2="305.7" stroke="#7a5038" stroke-width="1.1"/>
<line x1="61.73" y1="310.3" x2="64.53" y2="310.3" stroke="#7a5038" stroke-width="1.1"/>
<line x1="61.77" y1="314.9" x2="64.57" y2="314.9" stroke="#7a5038" stroke-width="1.1"/>
<line x1="61.80" y1="319.5" x2="64.60" y2="319.5" stroke="#7a5038" stroke-width="1.1"/>
<line x1="61.83" y1="324.1" x2="64.63" y2="324.1" stroke="#7a5038" stroke-width="1.1"/>
<line x1="61.87" y1="328.7" x2="64.67" y2="328.7" stroke="#7a5038" stroke-width="1.1"/>
<line x1="61.90" y1="333.3" x2="64.70" y2="333.3" stroke="#7a5038" stroke-width="1.1"/>
<line x1="61.93" y1="337.9" x2="64.73" y2="337.9" stroke="#7a5038" stroke-width="1.1"/>
<line x1="61.96" y1="342.5" x2="64.76" y2="342.5" stroke="#7a5038" stroke-width="1.1"/>
<line x1="62.00" y1="347.1" x2="64.80" y2="347.1" stroke="#7a5038" stroke-width="1.1"/>
<line x1="62.03" y1="351.7" x2="64.83" y2="351.7" stroke="#7a5038" stroke-width="1.1"/>
<line x1="62.06" y1="356.3" x2="64.86" y2="356.3" stroke="#7a5038" stroke-width="1.1"/>
<line x1="62.10" y1="360.9" x2="64.90" y2="360.9" stroke="#7a5038" stroke-width="1.1"/>
<line x1="62.13" y1="365.5" x2="64.93" y2="365.5" stroke="#7a5038" stroke-width="1.1"/>
<line x1="62.16" y1="370.1" x2="64.96" y2="370.1" stroke="#7a5038" stroke-width="1.1"/>
<line x1="62.20" y1="374.7" x2="65.00" y2="374.7" stroke="#7a5038" stroke-width="1.1"/>
<line x1="62.23" y1="379.3" x2="65.03" y2="379.3" stroke="#7a5038" stroke-width="1.1"/>
<line x1="62.26" y1="383.9" x2="65.06" y2="383.9" stroke="#7a5038" stroke-width="1.1"/>
<line x1="62.30" y1="388.5" x2="65.10" y2="388.5" stroke="#7a5038" stroke-width="1.1"/>
<line x1="62.33" y1="393.1" x2="65.13" y2="393.1" stroke="#7a5038" stroke-width="1.1"/>
<line x1="62.36" y1="397.7" x2="65.16" y2="397.7" stroke="#7a5038" stroke-width="1.1"/>
<line x1="62.39" y1="402.3" x2="65.19" y2="402.3" stroke="#7a5038" stroke-width="1.1"/>
<line x1="62.43" y1="406.9" x2="65.23" y2="406.9" stroke="#7a5038" stroke-width="1.1"/>
<line x1="62.46" y1="411.5" x2="65.26" y2="411.5" stroke="#7a5038" stroke-width="1.1"/>
<line x1="62.49" y1="416.1" x2="65.29" y2="416.1" stroke="#7a5038" stroke-width="1.1"/>
<line x1="62.53" y1="420.7" x2="65.33" y2="420.7" stroke="#7a5038" stroke-width="1.1"/>
<rect x="61" y="421" width="3" height="4" fill="#6a5070" opacity="0.8"/>
<line x1="49.7" y1="252" x2="75.4" y2="237.4" stroke="#8a4020" stroke-width="0.9"/>
<line x1="55" y1="266" x2="75.4" y2="260.8" stroke="#3a9a30" stroke-width="0.9"/>
<line x1="49.7" y1="300.4" x2="75.4" y2="289.7" stroke="#e83040" stroke-width="0.8"/>
<line x1="49.7" y1="310.8" x2="75.4" y2="299.4" stroke="#f0105a" stroke-width="2.6"/>
<line x1="49.7" y1="363.4" x2="61" y2="359" stroke="#e84030" stroke-width="0.8"/>
<line x1="49.7" y1="378" x2="75.4" y2="370" stroke="#e84030" stroke-width="0.9"/>
<circle cx="18" cy="49.2" r="6.5" fill="none" stroke="#555" stroke-width="0.7"/>
<text x="18" y="53.5" font-size="12.8" fill="#3a3a3a" text-anchor="middle" font-family="Liberation Serif">1</text>
<circle cx="18" cy="78.3" r="6.5" fill="none" stroke="#555" stroke-width="0.7"/>
<text x="18" y="82.6" font-size="12.8" fill="#3a3a3a" text-anchor="middle" font-family="Liberation Serif">2</text>
<circle cx="18" cy="98.9" r="6.5" fill="none" stroke="#555" stroke-width="0.7"/>
<text x="18" y="103.2" font-size="12.8" fill="#3a3a3a" text-anchor="middle" font-family="Liberation Serif">3</text>
<circle cx="18" cy="130.9" r="6.5" fill="none" stroke="#555" stroke-width="0.7"/>
<text x="18" y="135.20000000000002" font-size="12.8" fill="#3a3a3a" text-anchor="middle" font-family="Liberation Serif">4</text>
<circle cx="18" cy="187.4" r="6.5" fill="none" stroke="#555" stroke-width="0.7"/>
<text x="18" y="191.70000000000002" font-size="12.8" fill="#3a3a3a" text-anchor="middle" font-family="Liberation Serif">5</text>
<circle cx="18" cy="252.9" r="6.5" fill="none" stroke="#555" stroke-width="0.7"/>
<text x="18" y="257.2" font-size="12.8" fill="#3a3a3a" text-anchor="middle" font-family="Liberation Serif">6</text>
<circle cx="18" cy="296.7" r="6.5" fill="none" stroke="#555" stroke-width="0.7"/>
<text x="18" y="301.0" font-size="12.8" fill="#3a3a3a" text-anchor="middle" font-family="Liberation Serif">7</text>
<circle cx="17.5" cy="409.7" r="6.5" fill="none" stroke="#555" stroke-width="0.7"/>
<text x="17.5" y="414.0" font-size="12.8" fill="#3a3a3a" text-anchor="middle" font-family="Liberation Serif">8</text>
<text x="78.7" y="88.9" font-size="6.9" fill="#333" font-family="Liberation Serif" transform="rotate(90 85.8 88.9)" dominant-baseline="central" textLength="14.2" lengthAdjust="spacingAndGlyphs" stroke="#333" stroke-width="0.1">1000</text>
<text x="78.7" y="154" font-size="6.9" fill="#333" font-family="Liberation Serif" transform="rotate(90 85.8 154)" dominant-baseline="central" textLength="14.2" lengthAdjust="spacingAndGlyphs" stroke="#333" stroke-width="0.1">1100</text>
<text x="78.7" y="216.3" font-size="6.9" fill="#333" font-family="Liberation Serif" transform="rotate(90 85.8 216.3)" dominant-baseline="central" textLength="14.2" lengthAdjust="spacingAndGlyphs" stroke="#333" stroke-width="0.1">1200</text>
<text x="69.85" y="250.9" font-size="6.5" fill="#333" font-family="Liberation Serif" transform="rotate(90 85.8 250.9)" dominant-baseline="central" textLength="31.9" lengthAdjust="spacingAndGlyphs" stroke="#333" stroke-width="0.1">ZK01 Depth</text>
<text x="78.7" y="280.2" font-size="6.9" fill="#333" font-family="Liberation Serif" transform="rotate(90 85.8 280.2)" dominant-baseline="central" textLength="14.2" lengthAdjust="spacingAndGlyphs" stroke="#333" stroke-width="0.1">1300</text>
<text x="78.7" y="342.9" font-size="6.9" fill="#333" font-family="Liberation Serif" transform="rotate(90 85.8 342.9)" dominant-baseline="central" textLength="14.2" lengthAdjust="spacingAndGlyphs" stroke="#333" stroke-width="0.1">1400</text>
<text x="78.7" y="406.8" font-size="6.9" fill="#333" font-family="Liberation Serif" transform="rotate(90 85.8 406.8)" dominant-baseline="central" textLength="14.2" lengthAdjust="spacingAndGlyphs" stroke="#333" stroke-width="0.1">1500</text>
<text x="137.4" y="150.8" font-size="4.3" fill="#666" text-anchor="middle" font-family="Liberation Sans" transform="rotate(90 137.4 150.8)" dominant-baseline="central" textLength="10" lengthAdjust="spacingAndGlyphs">1100</text>
<text x="137.4" y="212.5" font-size="4.3" fill="#666" text-anchor="middle" font-family="Liberation Sans" transform="rotate(90 137.4 212.5)" dominant-baseline="central" textLength="10" lengthAdjust="spacingAndGlyphs">1200</text>
<text x="137.4" y="339.5" font-size="4.3" fill="#666" text-anchor="middle" font-family="Liberation Sans" transform="rotate(90 137.4 339.5)" dominant-baseline="central" textLength="10" lengthAdjust="spacingAndGlyphs">1400</text>
<line x1="89.2" y1="88.9" x2="90.8" y2="88.9" stroke="#555" stroke-width="0.6"/>
<line x1="89.2" y1="154" x2="90.8" y2="154" stroke="#555" stroke-width="0.6"/>
<line x1="89.2" y1="216.3" x2="90.8" y2="216.3" stroke="#555" stroke-width="0.6"/>
<line x1="89.2" y1="280.2" x2="90.8" y2="280.2" stroke="#555" stroke-width="0.6"/>
<line x1="89.2" y1="342.9" x2="90.8" y2="342.9" stroke="#555" stroke-width="0.6"/>
<line x1="89.2" y1="406.8" x2="90.8" y2="406.8" stroke="#555" stroke-width="0.6"/>
<polyline points="90.8,463 90.8,27.6 134.5,27.6 134.5,24.9" fill="none" stroke="#444" stroke-width="1"/>
<polyline points="142.2,463 142.2,26.7 186.6,26.7 186.6,24.4" fill="none" stroke="#444" stroke-width="1"/>
<polyline points="192.6,463 192.6,27.1 237.2,27.1 237.2,24.2" fill="none" stroke="#444" stroke-width="1"/>
<polyline points="243.7,463 243.7,26.6 288.1,26.6 288.1,23.6" fill="none" stroke="#444" stroke-width="1"/>
<polyline points="294.7,463 294.7,26.6 339.3,26.6 339.3,23.6" fill="none" stroke="#444" stroke-width="1"/>
<polyline points="346.5,463 346.5,26.4 388.5,26.4 388.5,23.8" fill="none" stroke="#444" stroke-width="1"/>
<text x="87.6" y="24.2" font-size="7.3" fill="#333" stroke="#333" stroke-width="0.09" text-anchor="start" font-family="Liberation Serif" textLength="17.4" lengthAdjust="spacingAndGlyphs" >0.007</text>
<text x="120.8" y="24.2" font-size="7.3" fill="#333" stroke="#333" stroke-width="0.09" text-anchor="start" font-family="Liberation Serif" textLength="17.7" lengthAdjust="spacingAndGlyphs" >0.287</text>
<text x="141.8" y="23.8" font-size="7.3" fill="#333" stroke="#333" stroke-width="0.09" text-anchor="start" font-family="Liberation Serif" textLength="16.9" lengthAdjust="spacingAndGlyphs" >0.001</text>
<text x="178.3" y="23.8" font-size="7.3" fill="#333" stroke="#333" stroke-width="0.09" text-anchor="start" font-family="Liberation Serif" textLength="11.8" lengthAdjust="spacingAndGlyphs" >0.19</text>
<text x="188.6" y="22.9" font-size="7.3" fill="#333" stroke="#333" stroke-width="0.09" text-anchor="start" font-family="Liberation Serif" textLength="20.8" lengthAdjust="spacingAndGlyphs" >0.308</text>
<text x="231.6" y="22.9" font-size="7.3" fill="#333" stroke="#333" stroke-width="0.09" text-anchor="start" font-family="Liberation Serif" textLength="10.8" lengthAdjust="spacingAndGlyphs" >0.6</text>
<text x="241.8" y="21.5" font-size="7.3" fill="#333" stroke="#333" stroke-width="0.09" text-anchor="start" font-family="Liberation Serif" textLength="18.4" lengthAdjust="spacingAndGlyphs" >0.157</text>
<text x="286.4" y="21.8" font-size="7.6" fill="#333" stroke="#333" stroke-width="0.09" text-anchor="start" font-family="Liberation Serif" >1</text>
<text x="292" y="21.7" font-size="7.3" fill="#333" stroke="#333" stroke-width="0.09" text-anchor="start" font-family="Liberation Serif" textLength="18" lengthAdjust="spacingAndGlyphs" >0.151</text>
<text x="336.4" y="21.8" font-size="7.6" fill="#333" stroke="#333" stroke-width="0.09" text-anchor="start" font-family="Liberation Serif" >1</text>
<text x="346" y="21.3" font-size="7.3" fill="#333" stroke="#333" stroke-width="0.09" text-anchor="start" font-family="Liberation Serif" textLength="13.6" lengthAdjust="spacingAndGlyphs" >0.05</text>
<text x="382.5" y="21.3" font-size="7.3" fill="#333" stroke="#333" stroke-width="0.09" text-anchor="start" font-family="Liberation Serif" textLength="13.7" lengthAdjust="spacingAndGlyphs" >0.72</text>
<text x="403" y="22.8" font-size="7.3" fill="#333" stroke="#333" stroke-width="0.09" text-anchor="start" font-family="Liberation Serif" textLength="3.5" lengthAdjust="spacingAndGlyphs" >0</text>
<text x="425.6" y="22.8" font-size="7.3" fill="#333" stroke="#333" stroke-width="0.09" text-anchor="start" font-family="Liberation Serif" textLength="8.4" lengthAdjust="spacingAndGlyphs" >30</text>
<text x="452.3" y="22.8" font-size="7.3" fill="#333" stroke="#333" stroke-width="0.09" text-anchor="start" font-family="Liberation Serif" textLength="8" lengthAdjust="spacingAndGlyphs" >60</text>
<text x="476.6" y="22.8" font-size="7.3" fill="#333" stroke="#333" stroke-width="0.09" text-anchor="start" font-family="Liberation Serif" textLength="8.4" lengthAdjust="spacingAndGlyphs" >90</text>
<rect x="404.8" y="26.6" width="80" height="103" fill="#ffffd0"/>
<rect x="404.8" y="129.6" width="77.1" height="333" fill="#ffffd8"/>
<rect x="404.90" y="26.60" width="49.10" height="2.29" fill="#ffff99"/>
<rect x="454.00" y="26.60" width="25.36" height="2.29" fill="#ffff00"/>
<rect x="479.37" y="26.60" width="5.40" height="2.29" fill="#ff2a2a"/>
<rect x="404.90" y="29.59" width="49.10" height="2.57" fill="#ffff99"/>
<rect x="454.00" y="29.59" width="13.09" height="2.57" fill="#ffff00"/>
<rect x="467.09" y="29.59" width="12.27" height="2.57" fill="#c4b4b0"/>
<rect x="479.37" y="29.59" width="5.40" height="2.57" fill="#ffff00"/>
<rect x="404.90" y="32.86" width="40.10" height="2.57" fill="#ffff99"/>
<rect x="445.00" y="32.86" width="39.76" height="2.57" fill="#ffff00"/>
<rect x="404.90" y="36.13" width="27.01" height="2.57" fill="#ffff99"/>
<rect x="431.91" y="36.13" width="52.86" height="2.57" fill="#ffff00"/>
<rect x="404.90" y="39.40" width="39.28" height="2.57" fill="#ffff99"/>
<rect x="444.18" y="39.40" width="35.18" height="2.57" fill="#ffff00"/>
<rect x="479.37" y="39.40" width="5.40" height="2.57" fill="#4e4ef0"/>
<rect x="404.90" y="42.68" width="35.19" height="2.57" fill="#ffff99"/>
<rect x="440.09" y="42.68" width="36.82" height="2.57" fill="#ffff00"/>
<rect x="476.91" y="42.68" width="7.85" height="2.57" fill="#c4b4b0"/>
<rect x="404.90" y="45.95" width="35.19" height="2.57" fill="#ffff99"/>
<rect x="440.09" y="45.95" width="40.09" height="2.57" fill="#ffff00"/>
<rect x="480.18" y="45.95" width="4.58" height="2.57" fill="#5a4a12"/>
<rect x="404.90" y="49.22" width="44.19" height="2.57" fill="#ffff99"/>
<rect x="449.09" y="49.22" width="35.67" height="2.57" fill="#ffff00"/>
<rect x="404.90" y="52.50" width="31.92" height="2.57" fill="#ffff99"/>
<rect x="436.82" y="52.50" width="43.36" height="2.57" fill="#ffff00"/>
<rect x="480.18" y="52.50" width="4.58" height="2.57" fill="#c4b4b0"/>
<rect x="404.90" y="55.77" width="45.01" height="2.57" fill="#ffff99"/>
<rect x="449.91" y="55.77" width="23.73" height="2.57" fill="#ffff00"/>
<rect x="473.64" y="55.77" width="11.13" height="2.57" fill="#c4b4b0"/>
<rect x="404.90" y="59.04" width="26.19" height="2.41" fill="#ffff99"/>
<rect x="431.09" y="59.04" width="27.00" height="2.41" fill="#ffff00"/>
<rect x="458.09" y="59.04" width="9.00" height="2.41" fill="#c4b4b0"/>
<rect x="467.09" y="59.04" width="17.67" height="2.41" fill="#ffff00"/>
<rect x="404.90" y="62.15" width="2.46" height="2.25" fill="#ffff99"/>
<rect x="407.36" y="62.15" width="54.82" height="2.25" fill="#ffff00"/>
<rect x="462.18" y="62.15" width="4.91" height="2.25" fill="#c4b4b0"/>
<rect x="467.09" y="62.15" width="7.36" height="2.25" fill="#4e4ef0"/>
<rect x="474.46" y="62.15" width="10.31" height="2.25" fill="#ffff00"/>
<rect x="404.90" y="65.10" width="27.01" height="2.41" fill="#ffff99"/>
<rect x="431.91" y="65.10" width="13.09" height="2.41" fill="#ffff00"/>
<rect x="445.00" y="65.10" width="22.09" height="2.41" fill="#c4b4b0"/>
<rect x="467.09" y="65.10" width="17.67" height="2.41" fill="#ffff00"/>
<rect x="404.90" y="68.21" width="2.46" height="2.17" fill="#ffff99"/>
<rect x="407.36" y="68.21" width="77.40" height="2.17" fill="#ffff00"/>
<rect x="404.90" y="71.08" width="57.28" height="2.42" fill="#ffff99"/>
<rect x="462.18" y="71.08" width="22.58" height="2.42" fill="#ffff00"/>
<rect x="404.90" y="74.20" width="27.01" height="2.82" fill="#ffff99"/>
<rect x="431.91" y="74.20" width="52.86" height="2.82" fill="#ffff00"/>
<rect x="404.90" y="77.71" width="22.92" height="2.57" fill="#ffff99"/>
<rect x="427.82" y="77.71" width="46.64" height="2.57" fill="#ffff00"/>
<rect x="474.46" y="77.71" width="10.31" height="2.57" fill="#4e4ef0"/>
<rect x="404.90" y="80.99" width="44.19" height="2.57" fill="#ffff99"/>
<rect x="449.09" y="80.99" width="27.82" height="2.57" fill="#ffff00"/>
<rect x="476.91" y="80.99" width="7.85" height="2.57" fill="#4e4ef0"/>
<rect x="404.90" y="84.26" width="47.46" height="2.41" fill="#ffff99"/>
<rect x="452.36" y="84.26" width="10.64" height="2.41" fill="#c4b4b0"/>
<rect x="463.00" y="84.26" width="9.82" height="2.41" fill="#ffff00"/>
<rect x="472.82" y="84.26" width="11.95" height="2.41" fill="#4e4ef0"/>
<rect x="404.90" y="87.37" width="51.56" height="2.33" fill="#ffff99"/>
<rect x="456.46" y="87.37" width="13.09" height="2.33" fill="#ffff00"/>
<rect x="469.55" y="87.37" width="15.22" height="2.33" fill="#4e4ef0"/>
<rect x="404.90" y="90.40" width="27.83" height="2.49" fill="#ffff99"/>
<rect x="432.73" y="90.40" width="34.36" height="2.49" fill="#ffff00"/>
<rect x="467.09" y="90.40" width="13.09" height="2.49" fill="#4e4ef0"/>
<rect x="480.18" y="90.40" width="4.58" height="2.49" fill="#5a4a12"/>
<rect x="404.90" y="93.59" width="18.83" height="2.57" fill="#ffff99"/>
<rect x="423.73" y="93.59" width="40.91" height="2.57" fill="#ffff00"/>
<rect x="464.64" y="93.59" width="20.13" height="2.57" fill="#4e4ef0"/>
<rect x="404.90" y="96.86" width="54.01" height="2.41" fill="#ffff99"/>
<rect x="458.91" y="96.86" width="25.86" height="2.41" fill="#ffff00"/>
<rect x="404.90" y="99.97" width="39.28" height="2.57" fill="#ffff99"/>
<rect x="444.18" y="99.97" width="40.58" height="2.57" fill="#ffff00"/>
<rect x="404.90" y="103.24" width="42.56" height="2.74" fill="#ffff99"/>
<rect x="447.46" y="103.24" width="22.91" height="2.74" fill="#ffff00"/>
<rect x="470.36" y="103.24" width="14.40" height="2.74" fill="#4e4ef0"/>
<rect x="404.90" y="106.68" width="23.74" height="2.41" fill="#ffff99"/>
<rect x="428.64" y="106.68" width="36.82" height="2.41" fill="#ffff00"/>
<rect x="465.46" y="106.68" width="19.31" height="2.41" fill="#4e4ef0"/>
<rect x="404.90" y="109.79" width="30.28" height="2.41" fill="#ffff99"/>
<rect x="435.18" y="109.79" width="40.09" height="2.41" fill="#ffff00"/>
<rect x="475.27" y="109.79" width="9.49" height="2.41" fill="#4e4ef0"/>
<rect x="404.90" y="112.90" width="27.83" height="2.33" fill="#ffff99"/>
<rect x="432.73" y="112.90" width="52.04" height="2.33" fill="#ffff00"/>
<rect x="404.90" y="115.92" width="16.37" height="2.33" fill="#ffff99"/>
<rect x="421.27" y="115.92" width="47.46" height="2.33" fill="#ffff00"/>
<rect x="468.73" y="115.92" width="8.18" height="2.33" fill="#c4b4b0"/>
<rect x="476.91" y="115.92" width="7.85" height="2.33" fill="#ffff00"/>
<rect x="404.90" y="118.95" width="36.01" height="2.41" fill="#ffff99"/>
<rect x="440.91" y="118.95" width="29.46" height="2.41" fill="#ffff00"/>
<rect x="470.36" y="118.95" width="9.82" height="2.41" fill="#ff2a2a"/>
<rect x="480.18" y="118.95" width="4.58" height="2.41" fill="#c4b4b0"/>
<rect x="404.90" y="122.06" width="36.01" height="2.41" fill="#ffff99"/>
<rect x="440.91" y="122.06" width="39.27" height="2.41" fill="#ffff00"/>
<rect x="480.18" y="122.06" width="4.09" height="2.41" fill="#c4b4b0"/>
<rect x="404.90" y="125.17" width="27.83" height="2.57" fill="#ffff99"/>
<rect x="432.73" y="125.17" width="45.82" height="2.57" fill="#ffff00"/>
<rect x="478.55" y="125.17" width="3.27" height="2.57" fill="#ff2a2a"/>
<rect x="404.90" y="128.44" width="39.28" height="2.57" fill="#4e4ef0"/>
<rect x="444.18" y="128.44" width="34.36" height="2.57" fill="#fffdf2"/>
<rect x="478.55" y="128.44" width="3.27" height="2.57" fill="#ff2a2a"/>
<rect x="404.90" y="131.71" width="10.65" height="2.57" fill="#ffff99"/>
<rect x="415.55" y="131.71" width="63.82" height="2.57" fill="#ffff00"/>
<rect x="479.37" y="131.71" width="2.45" height="2.57" fill="#4e4ef0"/>
<rect x="404.90" y="134.99" width="2.46" height="2.57" fill="#ffff99"/>
<rect x="407.36" y="134.99" width="72.82" height="2.57" fill="#ffff00"/>
<rect x="480.18" y="134.99" width="1.64" height="2.57" fill="#ff2a2a"/>
<rect x="404.90" y="138.26" width="24.56" height="2.57" fill="#ffff99"/>
<rect x="429.46" y="138.26" width="52.36" height="2.57" fill="#ffff00"/>
<rect x="404.90" y="141.53" width="6.55" height="2.57" fill="#ffff99"/>
<rect x="411.45" y="141.53" width="66.76" height="2.57" fill="#ffff00"/>
<rect x="478.22" y="141.53" width="3.60" height="2.57" fill="#c4b4b0"/>
<rect x="404.90" y="144.81" width="4.92" height="2.57" fill="#ffff99"/>
<rect x="409.82" y="144.81" width="54.82" height="2.57" fill="#ffff00"/>
<rect x="464.64" y="144.81" width="4.09" height="2.57" fill="#c4b4b0"/>
<rect x="468.73" y="144.81" width="8.18" height="2.57" fill="#fffdf2"/>
<rect x="476.91" y="144.81" width="4.91" height="2.57" fill="#ffff00"/>
<rect x="404.90" y="148.08" width="5.74" height="2.57" fill="#ffff99"/>
<rect x="410.64" y="148.08" width="45.00" height="2.57" fill="#ffff00"/>
<rect x="455.64" y="148.08" width="26.18" height="2.57" fill="#ff2a2a"/>
<rect x="404.90" y="151.35" width="25.37" height="2.57" fill="#ffff99"/>
<rect x="430.27" y="151.35" width="51.55" height="2.57" fill="#ffff00"/>
<rect x="404.90" y="154.62" width="13.10" height="2.41" fill="#ffff99"/>
<rect x="418.00" y="154.62" width="60.22" height="2.41" fill="#ffff00"/>
<rect x="478.22" y="154.62" width="3.60" height="2.41" fill="#ff2a2a"/>
<rect x="404.90" y="157.73" width="19.65" height="2.33" fill="#ffff99"/>
<rect x="424.55" y="157.73" width="55.64" height="2.33" fill="#ffff00"/>
<rect x="480.18" y="157.73" width="1.64" height="2.33" fill="#ff2a2a"/>
<rect x="404.90" y="160.76" width="13.10" height="2.33" fill="#ffff99"/>
<rect x="418.00" y="160.76" width="63.82" height="2.33" fill="#ffff00"/>
<rect x="404.90" y="163.79" width="1.65" height="2.41" fill="#ffff99"/>
<rect x="406.55" y="163.79" width="58.09" height="2.41" fill="#ffff00"/>
<rect x="464.64" y="163.79" width="6.55" height="2.41" fill="#c4b4b0"/>
<rect x="471.18" y="163.79" width="10.64" height="2.41" fill="#ffff00"/>
<rect x="404.90" y="166.90" width="36.01" height="2.57" fill="#ffff99"/>
<rect x="440.91" y="166.90" width="16.36" height="2.57" fill="#ffff00"/>
<rect x="457.27" y="166.90" width="22.91" height="2.57" fill="#ff2a2a"/>
<rect x="480.18" y="166.90" width="1.64" height="2.57" fill="#ffff00"/>
<rect x="404.90" y="170.17" width="6.55" height="2.57" fill="#ffff99"/>
<rect x="411.45" y="170.17" width="66.76" height="2.57" fill="#ffff00"/>
<rect x="478.22" y="170.17" width="3.60" height="2.57" fill="#ff2a2a"/>
<rect x="404.90" y="173.44" width="2.46" height="2.41" fill="#ffff99"/>
<rect x="407.36" y="173.44" width="49.91" height="2.41" fill="#ffff00"/>
<rect x="457.27" y="173.44" width="24.55" height="2.41" fill="#ff2a2a"/>
<rect x="404.90" y="176.55" width="7.37" height="2.41" fill="#ffff99"/>
<rect x="412.27" y="176.55" width="67.09" height="2.41" fill="#ffff00"/>
<rect x="479.37" y="176.55" width="2.45" height="2.41" fill="#ff2a2a"/>
<rect x="404.90" y="179.66" width="28.65" height="2.57" fill="#ffff99"/>
<rect x="433.55" y="179.66" width="46.64" height="2.57" fill="#ffff00"/>
<rect x="480.18" y="179.66" width="1.64" height="2.57" fill="#c4b4b0"/>
<rect x="404.90" y="182.93" width="55.65" height="2.33" fill="#ffff99"/>
<rect x="460.55" y="182.93" width="21.27" height="2.33" fill="#ffff00"/>
<rect x="404.90" y="185.96" width="13.10" height="2.33" fill="#ffff99"/>
<rect x="418.00" y="185.96" width="51.55" height="2.33" fill="#ffff00"/>
<rect x="469.55" y="185.96" width="12.27" height="2.33" fill="#ff2a2a"/>
<rect x="404.90" y="188.99" width="11.46" height="2.57" fill="#ffff99"/>
<rect x="416.36" y="188.99" width="38.46" height="2.57" fill="#ffff00"/>
<rect x="454.82" y="188.99" width="18.00" height="2.57" fill="#ff2a2a"/>
<rect x="472.82" y="188.99" width="7.36" height="2.57" fill="#ffff00"/>
<rect x="480.18" y="188.99" width="1.64" height="2.57" fill="#ff2a2a"/>
<rect x="404.90" y="192.26" width="2.46" height="2.57" fill="#ffff99"/>
<rect x="407.36" y="192.26" width="74.46" height="2.57" fill="#ffff00"/>
<rect x="404.90" y="195.53" width="40.92" height="2.57" fill="#ffff99"/>
<rect x="445.82" y="195.53" width="27.82" height="2.57" fill="#ffff00"/>
<rect x="473.64" y="195.53" width="6.55" height="2.57" fill="#ff2a2a"/>
<rect x="480.18" y="195.53" width="1.64" height="2.57" fill="#4e4ef0"/>
<rect x="404.90" y="198.81" width="44.19" height="2.57" fill="#ffff99"/>
<rect x="449.09" y="198.81" width="31.09" height="2.57" fill="#ffff00"/>
<rect x="480.18" y="198.81" width="1.64" height="2.57" fill="#ff2a2a"/>
<rect x="404.90" y="202.08" width="27.01" height="2.41" fill="#ffff99"/>
<rect x="431.91" y="202.08" width="42.55" height="2.41" fill="#ff2a2a"/>
<rect x="474.46" y="202.08" width="7.36" height="2.41" fill="#ffff00"/>
<rect x="404.90" y="205.19" width="13.10" height="2.41" fill="#ffff99"/>
<rect x="418.00" y="205.19" width="22.91" height="2.41" fill="#ffff00"/>
<rect x="440.91" y="205.19" width="4.91" height="2.41" fill="#ff2a2a"/>
<rect x="445.82" y="205.19" width="31.09" height="2.41" fill="#fffdf2"/>
<rect x="476.91" y="205.19" width="4.91" height="2.41" fill="#4e4ef0"/>
<rect x="404.90" y="208.30" width="76.92" height="2.57" fill="#fffdf2"/>
<rect x="404.90" y="211.57" width="37.65" height="2.57" fill="#ffff99"/>
<rect x="442.55" y="211.57" width="18.00" height="2.57" fill="#ffff00"/>
<rect x="460.55" y="211.57" width="4.09" height="2.57" fill="#c4b4b0"/>
<rect x="464.64" y="211.57" width="17.18" height="2.57" fill="#ffff99"/>
<rect x="404.90" y="214.84" width="10.65" height="2.57" fill="#ffff99"/>
<rect x="415.55" y="214.84" width="26.18" height="2.57" fill="#ffff00"/>
<rect x="441.73" y="214.84" width="15.55" height="2.57" fill="#ff2a2a"/>
<rect x="457.27" y="214.84" width="8.18" height="2.57" fill="#c4b4b0"/>
<rect x="465.46" y="214.84" width="14.73" height="2.57" fill="#ffff99"/>
<rect x="480.18" y="214.84" width="1.64" height="2.57" fill="#4e4ef0"/>
<rect x="404.90" y="218.11" width="1.65" height="2.41" fill="#ffff99"/>
<rect x="406.55" y="218.11" width="69.55" height="2.41" fill="#ffff00"/>
<rect x="476.09" y="218.11" width="5.73" height="2.41" fill="#ff2a2a"/>
<rect x="404.90" y="221.22" width="27.83" height="2.41" fill="#ffff99"/>
<rect x="432.73" y="221.22" width="49.09" height="2.41" fill="#ffff00"/>
<rect x="404.90" y="224.33" width="15.55" height="2.57" fill="#ffff99"/>
<rect x="420.45" y="224.33" width="50.73" height="2.57" fill="#ff2a2a"/>
<rect x="471.18" y="224.33" width="10.64" height="2.57" fill="#fffdf2"/>
<rect x="404.90" y="227.60" width="22.10" height="2.49" fill="#ffff99"/>
<rect x="427.00" y="227.60" width="20.45" height="2.49" fill="#ffff00"/>
<rect x="447.46" y="227.60" width="10.64" height="2.49" fill="#ff2a2a"/>
<rect x="458.09" y="227.60" width="9.82" height="2.49" fill="#c4b4b0"/>
<rect x="467.91" y="227.60" width="9.00" height="2.49" fill="#ffff99"/>
<rect x="476.91" y="227.60" width="4.91" height="2.49" fill="#ff2a2a"/>
<rect x="404.90" y="230.80" width="6.55" height="2.49" fill="#ffff99"/>
<rect x="411.45" y="230.80" width="24.55" height="2.49" fill="#ffff00"/>
<rect x="436.00" y="230.80" width="32.73" height="2.49" fill="#ff2a2a"/>
<rect x="468.73" y="230.80" width="13.09" height="2.49" fill="#ffff00"/>
<rect x="404.90" y="233.99" width="8.19" height="2.57" fill="#ffff99"/>
<rect x="413.09" y="233.99" width="24.55" height="2.57" fill="#ffff00"/>
<rect x="437.64" y="233.99" width="36.82" height="2.57" fill="#ff2a2a"/>
<rect x="474.46" y="233.99" width="4.91" height="2.57" fill="#c4b4b0"/>
<rect x="479.37" y="233.99" width="2.45" height="2.57" fill="#ffff00"/>
<rect x="404.90" y="237.26" width="33.56" height="2.57" fill="#ffff99"/>
<rect x="438.46" y="237.26" width="43.36" height="2.57" fill="#ffff00"/>
<rect x="404.90" y="240.53" width="27.83" height="2.57" fill="#ffff99"/>
<rect x="432.73" y="240.53" width="40.91" height="2.57" fill="#ffff00"/>
<rect x="473.64" y="240.53" width="6.55" height="2.57" fill="#ff2a2a"/>
<rect x="480.18" y="240.53" width="1.64" height="2.57" fill="#ffff00"/>
<rect x="404.90" y="243.81" width="27.83" height="2.57" fill="#ffff99"/>
<rect x="432.73" y="243.81" width="46.64" height="2.57" fill="#ffff00"/>
<rect x="479.37" y="243.81" width="2.45" height="2.57" fill="#ff2a2a"/>
<rect x="404.90" y="247.08" width="27.83" height="2.57" fill="#ffff99"/>
<rect x="432.73" y="247.08" width="49.09" height="2.57" fill="#ffff00"/>
<rect x="404.90" y="250.35" width="27.01" height="2.16" fill="#ffff99"/>
<rect x="431.91" y="250.35" width="30.27" height="2.16" fill="#ffff00"/>
<rect x="462.18" y="250.35" width="18.00" height="2.16" fill="#ff2a2a"/>
<rect x="480.18" y="250.35" width="1.64" height="2.16" fill="#ffff00"/>
<rect x="404.90" y="253.21" width="18.01" height="2.16" fill="#ffff99"/>
<rect x="422.91" y="253.21" width="32.73" height="2.16" fill="#ffff00"/>
<rect x="455.64" y="253.21" width="24.55" height="2.16" fill="#ff2a2a"/>
<rect x="480.18" y="253.21" width="1.64" height="2.16" fill="#ffff00"/>
<rect x="404.90" y="256.08" width="18.01" height="2.57" fill="#ffff99"/>
<rect x="422.91" y="256.08" width="18.82" height="2.57" fill="#ffff00"/>
<rect x="441.73" y="256.08" width="15.55" height="2.57" fill="#ff2a2a"/>
<rect x="457.27" y="256.08" width="6.55" height="2.57" fill="#c4b4b0"/>
<rect x="463.82" y="256.08" width="6.55" height="2.57" fill="#fffdf2"/>
<rect x="470.36" y="256.08" width="11.45" height="2.57" fill="#ffff00"/>
<rect x="404.90" y="259.35" width="7.37" height="2.57" fill="#ffff99"/>
<rect x="412.27" y="259.35" width="12.27" height="2.57" fill="#ff2a2a"/>
<rect x="424.55" y="259.35" width="17.18" height="2.57" fill="#c4b4b0"/>
<rect x="441.73" y="259.35" width="27.00" height="2.57" fill="#ffff99"/>
<rect x="468.73" y="259.35" width="13.09" height="2.57" fill="#4e4ef0"/>
<rect x="404.90" y="262.62" width="22.10" height="2.41" fill="#ffff99"/>
<rect x="427.00" y="262.62" width="18.00" height="2.41" fill="#ff2a2a"/>
<rect x="445.00" y="262.62" width="12.27" height="2.41" fill="#c4b4b0"/>
<rect x="457.27" y="262.62" width="8.18" height="2.41" fill="#fffdf2"/>
<rect x="465.46" y="262.62" width="16.36" height="2.41" fill="#ffff00"/>
<rect x="404.90" y="265.73" width="2.46" height="2.41" fill="#ffff99"/>
<rect x="407.36" y="265.73" width="23.73" height="2.41" fill="#ffff00"/>
<rect x="431.09" y="265.73" width="49.09" height="2.41" fill="#ff2a2a"/>
<rect x="480.18" y="265.73" width="1.64" height="2.41" fill="#ffff00"/>
<rect x="404.90" y="268.84" width="40.10" height="2.57" fill="#ffff99"/>
<rect x="445.00" y="268.84" width="33.55" height="2.57" fill="#ff2a2a"/>
<rect x="478.55" y="268.84" width="3.27" height="2.57" fill="#4e4ef0"/>
<rect x="404.90" y="272.11" width="44.19" height="2.49" fill="#ffff99"/>
<rect x="449.09" y="272.11" width="22.09" height="2.49" fill="#ff2a2a"/>
<rect x="471.18" y="272.11" width="7.36" height="2.49" fill="#fffdf2"/>
<rect x="478.55" y="272.11" width="3.27" height="2.49" fill="#4e4ef0"/>
<rect x="404.90" y="275.30" width="32.74" height="2.33" fill="#ffff99"/>
<rect x="437.64" y="275.30" width="6.55" height="2.33" fill="#ff2a2a"/>
<rect x="444.18" y="275.30" width="37.64" height="2.33" fill="#ffff99"/>
<rect x="404.90" y="278.33" width="42.56" height="2.41" fill="#ff2a2a"/>
<rect x="447.46" y="278.33" width="14.73" height="2.41" fill="#fffdf2"/>
<rect x="462.18" y="278.33" width="19.64" height="2.41" fill="#ffff99"/>
<rect x="404.90" y="281.44" width="76.92" height="2.57" fill="#fffdf2"/>
<rect x="404.90" y="284.71" width="76.92" height="2.57" fill="#fffdf2"/>
<rect x="404.90" y="287.99" width="40.10" height="2.57" fill="#ffff00"/>
<rect x="445.00" y="287.99" width="29.46" height="2.57" fill="#ff2a2a"/>
<rect x="474.46" y="287.99" width="7.36" height="2.57" fill="#c4b4b0"/>
<rect x="404.90" y="291.26" width="27.83" height="2.41" fill="#ffff99"/>
<rect x="432.73" y="291.26" width="26.18" height="2.41" fill="#ffff00"/>
<rect x="458.91" y="291.26" width="5.73" height="2.41" fill="#c4b4b0"/>
<rect x="464.64" y="291.26" width="17.18" height="2.41" fill="#ffff99"/>
<rect x="404.90" y="294.37" width="27.83" height="2.33" fill="#ffff99"/>
<rect x="432.73" y="294.37" width="36.00" height="2.33" fill="#ffff00"/>
<rect x="468.73" y="294.37" width="5.73" height="2.33" fill="#c4b4b0"/>
<rect x="474.46" y="294.37" width="7.36" height="2.33" fill="#ffff00"/>
<rect x="404.90" y="297.40" width="26.19" height="2.49" fill="#ffff99"/>
<rect x="431.09" y="297.40" width="47.46" height="2.49" fill="#ffff00"/>
<rect x="478.55" y="297.40" width="1.64" height="2.49" fill="#ff2a2a"/>
<rect x="480.18" y="297.40" width="1.64" height="2.49" fill="#c4b4b0"/>
<rect x="404.90" y="300.59" width="27.01" height="2.57" fill="#ffff99"/>
<rect x="431.91" y="300.59" width="49.91" height="2.57" fill="#ffff00"/>
<rect x="404.90" y="303.86" width="18.01" height="2.41" fill="#ffff99"/>
<rect x="422.91" y="303.86" width="43.36" height="2.41" fill="#ffff00"/>
<rect x="466.27" y="303.86" width="5.73" height="2.41" fill="#ff2a2a"/>
<rect x="472.00" y="303.86" width="9.82" height="2.41" fill="#ffff99"/>
<rect x="404.90" y="306.97" width="22.92" height="2.41" fill="#ffff99"/>
<rect x="427.82" y="306.97" width="24.55" height="2.41" fill="#ffff00"/>
<rect x="452.36" y="306.97" width="9.82" height="2.41" fill="#c4b4b0"/>
<rect x="462.18" y="306.97" width="16.36" height="2.41" fill="#ffff00"/>
<rect x="478.55" y="306.97" width="3.27" height="2.41" fill="#4e4ef0"/>
<rect x="404.90" y="310.08" width="22.92" height="2.74" fill="#ffff99"/>
<rect x="427.82" y="310.08" width="40.09" height="2.74" fill="#ffff00"/>
<rect x="467.91" y="310.08" width="13.91" height="2.74" fill="#ffff99"/>
<rect x="404.90" y="313.51" width="76.92" height="2.57" fill="#fffdf2"/>
<rect x="404.90" y="316.79" width="27.83" height="2.41" fill="#ffff99"/>
<rect x="432.73" y="316.79" width="24.55" height="2.41" fill="#ffff00"/>
<rect x="457.27" y="316.79" width="7.36" height="2.41" fill="#ffff99"/>
<rect x="464.64" y="316.79" width="17.18" height="2.41" fill="#ffff00"/>
<rect x="404.90" y="319.90" width="2.46" height="2.57" fill="#ffff99"/>
<rect x="407.36" y="319.90" width="22.09" height="2.57" fill="#ffff00"/>
<rect x="429.46" y="319.90" width="23.73" height="2.57" fill="#ffff99"/>
<rect x="453.18" y="319.90" width="8.18" height="2.57" fill="#ff2a2a"/>
<rect x="461.36" y="319.90" width="15.55" height="2.57" fill="#c4b4b0"/>
<rect x="476.91" y="319.90" width="4.91" height="2.57" fill="#ffff00"/>
<rect x="404.90" y="323.17" width="11.46" height="2.41" fill="#ffff99"/>
<rect x="416.36" y="323.17" width="65.46" height="2.41" fill="#ffff00"/>
<rect x="404.90" y="326.28" width="27.83" height="2.41" fill="#ffff99"/>
<rect x="432.73" y="326.28" width="30.27" height="2.41" fill="#ffff00"/>
<rect x="463.00" y="326.28" width="13.09" height="2.41" fill="#ff2a2a"/>
<rect x="476.09" y="326.28" width="5.73" height="2.41" fill="#4e4ef0"/>
<rect x="404.90" y="329.39" width="26.19" height="2.57" fill="#ffff99"/>
<rect x="431.09" y="329.39" width="50.73" height="2.57" fill="#ffff00"/>
<rect x="404.90" y="332.66" width="38.46" height="2.57" fill="#ffff99"/>
<rect x="443.36" y="332.66" width="21.27" height="2.57" fill="#ffff00"/>
<rect x="464.64" y="332.66" width="17.18" height="2.57" fill="#ff2a2a"/>
<rect x="404.90" y="335.93" width="21.28" height="2.57" fill="#ffff99"/>
<rect x="426.18" y="335.93" width="50.73" height="2.57" fill="#ffff00"/>
<rect x="476.91" y="335.93" width="4.91" height="2.57" fill="#ffff99"/>
<rect x="404.90" y="339.21" width="11.46" height="2.49" fill="#ffff99"/>
<rect x="416.36" y="339.21" width="63.82" height="2.49" fill="#ffff00"/>
<rect x="480.18" y="339.21" width="1.64" height="2.49" fill="#4e4ef0"/>
<rect x="404.90" y="342.40" width="44.19" height="2.49" fill="#ffff99"/>
<rect x="449.09" y="342.40" width="31.09" height="2.49" fill="#ffff00"/>
<rect x="480.18" y="342.40" width="1.64" height="2.49" fill="#ffff99"/>
<rect x="404.90" y="345.59" width="2.46" height="2.57" fill="#ffff99"/>
<rect x="407.36" y="345.59" width="35.18" height="2.57" fill="#ffff00"/>
<rect x="442.55" y="345.59" width="25.36" height="2.57" fill="#fffdf2"/>
<rect x="467.91" y="345.59" width="7.36" height="2.57" fill="#4e4ef0"/>
<rect x="475.27" y="345.59" width="5.73" height="2.57" fill="#ff2a2a"/>
<rect x="481.00" y="345.59" width="0.82" height="2.57" fill="#ffff99"/>
<rect x="404.90" y="348.86" width="18.01" height="2.41" fill="#ffff99"/>
<rect x="422.91" y="348.86" width="58.91" height="2.41" fill="#ffff00"/>
<rect x="404.90" y="351.97" width="18.01" height="2.41" fill="#ffff99"/>
<rect x="422.91" y="351.97" width="54.00" height="2.41" fill="#ffff00"/>
<rect x="476.91" y="351.97" width="4.91" height="2.41" fill="#c4b4b0"/>
<rect x="404.90" y="355.08" width="19.65" height="2.41" fill="#ffff99"/>
<rect x="424.55" y="355.08" width="57.27" height="2.41" fill="#ffff00"/>
<rect x="404.90" y="358.19" width="32.74" height="2.41" fill="#ffff99"/>
<rect x="437.64" y="358.19" width="44.18" height="2.41" fill="#ffff00"/>
<rect x="404.90" y="361.30" width="30.28" height="2.57" fill="#ffff99"/>
<rect x="435.18" y="361.30" width="27.82" height="2.57" fill="#ffff00"/>
<rect x="463.00" y="361.30" width="5.73" height="2.57" fill="#4e4ef0"/>
<rect x="468.73" y="361.30" width="13.09" height="2.57" fill="#ffff00"/>
<rect x="404.90" y="364.57" width="30.28" height="2.33" fill="#ffff99"/>
<rect x="435.18" y="364.57" width="42.55" height="2.33" fill="#ffff00"/>
<rect x="477.73" y="364.57" width="4.09" height="2.33" fill="#c4b4b0"/>
<rect x="404.90" y="367.60" width="40.10" height="2.33" fill="#ffff99"/>
<rect x="445.00" y="367.60" width="35.18" height="2.33" fill="#ffff00"/>
<rect x="480.18" y="367.60" width="1.64" height="2.33" fill="#4e4ef0"/>
<rect x="404.90" y="370.62" width="39.28" height="2.57" fill="#ffff99"/>
<rect x="444.18" y="370.62" width="33.55" height="2.57" fill="#ffff00"/>
<rect x="477.73" y="370.62" width="4.09" height="2.57" fill="#fffdf2"/>
<rect x="404.90" y="373.90" width="39.28" height="2.57" fill="#ffff99"/>
<rect x="444.18" y="373.90" width="37.64" height="2.57" fill="#ffff00"/>
<rect x="404.90" y="377.17" width="9.83" height="2.57" fill="#ffff99"/>
<rect x="414.73" y="377.17" width="60.55" height="2.57" fill="#ffff00"/>
<rect x="475.27" y="377.17" width="6.55" height="2.57" fill="#fffdf2"/>
<rect x="404.90" y="380.44" width="21.28" height="2.33" fill="#ffff99"/>
<rect x="426.18" y="380.44" width="26.18" height="2.33" fill="#ffff00"/>
<rect x="452.36" y="380.44" width="7.36" height="2.33" fill="#ff2a2a"/>
<rect x="459.73" y="380.44" width="12.27" height="2.33" fill="#c4b4b0"/>
<rect x="472.00" y="380.44" width="7.36" height="2.33" fill="#ffff99"/>
<rect x="479.37" y="380.44" width="2.45" height="2.33" fill="#ff2a2a"/>
<rect x="404.90" y="383.47" width="27.83" height="2.33" fill="#ffff99"/>
<rect x="432.73" y="383.47" width="39.27" height="2.33" fill="#ffff00"/>
<rect x="472.00" y="383.47" width="9.00" height="2.33" fill="#ff2a2a"/>
<rect x="404.90" y="386.50" width="76.92" height="2.65" fill="#ffff00"/>
<rect x="404.90" y="389.85" width="27.83" height="2.65" fill="#ffff99"/>
<rect x="432.73" y="389.85" width="45.82" height="2.65" fill="#ffff00"/>
<rect x="478.55" y="389.85" width="1.31" height="2.65" fill="#ffff99"/>
<rect x="479.86" y="389.85" width="1.15" height="2.65" fill="#4e4ef0"/>
<rect x="404.90" y="393.20" width="31.10" height="2.57" fill="#ffff99"/>
<rect x="436.00" y="393.20" width="31.09" height="2.57" fill="#ffff00"/>
<rect x="467.09" y="393.20" width="9.00" height="2.57" fill="#ff2a2a"/>
<rect x="476.09" y="393.20" width="5.73" height="2.57" fill="#ffff99"/>
<rect x="404.90" y="396.48" width="13.10" height="2.33" fill="#ffff99"/>
<rect x="418.00" y="396.48" width="62.18" height="2.33" fill="#ffff00"/>
<rect x="404.90" y="399.50" width="21.28" height="2.33" fill="#ffff99"/>
<rect x="426.18" y="399.50" width="47.46" height="2.33" fill="#ffff00"/>
<rect x="473.64" y="399.50" width="6.55" height="2.33" fill="#ff2a2a"/>
<rect x="480.18" y="399.50" width="0.82" height="2.33" fill="#4e4ef0"/>
<rect x="404.90" y="402.53" width="22.92" height="2.57" fill="#ffff99"/>
<rect x="427.82" y="402.53" width="54.00" height="2.57" fill="#ffff00"/>
<rect x="404.90" y="405.80" width="2.46" height="2.57" fill="#ffff99"/>
<rect x="407.36" y="405.80" width="17.18" height="2.57" fill="#ffff00"/>
<rect x="424.55" y="405.80" width="24.55" height="2.57" fill="#ffff99"/>
<rect x="449.09" y="405.80" width="11.45" height="2.57" fill="#ff2a2a"/>
<rect x="460.55" y="405.80" width="9.82" height="2.57" fill="#ffff00"/>
<rect x="470.36" y="405.80" width="10.64" height="2.57" fill="#ff2a2a"/>
<rect x="404.90" y="409.08" width="10.65" height="2.57" fill="#ffff99"/>
<rect x="415.55" y="409.08" width="44.18" height="2.57" fill="#ffff00"/>
<rect x="459.73" y="409.08" width="14.73" height="2.57" fill="#ff2a2a"/>
<rect x="474.46" y="409.08" width="6.55" height="2.57" fill="#4e4ef0"/>
<rect x="404.90" y="412.35" width="2.46" height="2.41" fill="#ffff99"/>
<rect x="407.36" y="412.35" width="10.64" height="2.41" fill="#ffff00"/>
<rect x="418.00" y="412.35" width="13.09" height="2.41" fill="#ffff99"/>
<rect x="431.09" y="412.35" width="41.73" height="2.41" fill="#ff2a2a"/>
<rect x="472.82" y="412.35" width="8.18" height="2.41" fill="#c4b4b0"/>
<rect x="404.90" y="415.46" width="26.19" height="2.41" fill="#ffff99"/>
<rect x="431.09" y="415.46" width="34.36" height="2.41" fill="#ffff00"/>
<rect x="465.46" y="415.46" width="5.73" height="2.41" fill="#fffdf2"/>
<rect x="471.18" y="415.46" width="9.82" height="2.41" fill="#ffff00"/>
<rect x="404.90" y="418.57" width="27.83" height="2.49" fill="#ffff99"/>
<rect x="432.73" y="418.57" width="48.27" height="2.49" fill="#ffff00"/>
<rect x="404.90" y="421.76" width="27.83" height="2.49" fill="#ffff99"/>
<rect x="432.73" y="421.76" width="48.27" height="2.49" fill="#ffff00"/>
<rect x="404.90" y="424.95" width="14.74" height="2.41" fill="#ffff99"/>
<rect x="419.64" y="424.95" width="34.36" height="2.41" fill="#ffff00"/>
<rect x="454.00" y="424.95" width="4.91" height="2.41" fill="#c4b4b0"/>
<rect x="458.91" y="424.95" width="19.64" height="2.41" fill="#ffff99"/>
<rect x="478.55" y="424.95" width="2.45" height="2.41" fill="#4e4ef0"/>
<rect x="404.90" y="428.06" width="32.74" height="2.41" fill="#ffff99"/>
<rect x="437.64" y="428.06" width="31.09" height="2.41" fill="#ffff00"/>
<rect x="468.73" y="428.06" width="12.27" height="2.41" fill="#c4b4b0"/>
<rect x="404.90" y="431.17" width="27.83" height="1.95" fill="#ffff99"/>
<rect x="432.73" y="431.17" width="48.27" height="1.95" fill="#ffff00"/>
<rect x="404.90" y="433.82" width="52.37" height="1.46" fill="#ffff00"/>
<rect x="457.27" y="433.82" width="23.73" height="1.46" fill="#22ff66"/>
<rect x="404.90" y="435.99" width="52.37" height="1.75" fill="#ffff99"/>
<rect x="457.27" y="435.99" width="23.73" height="1.75" fill="#e6fff0"/>
<rect x="404.90" y="438.44" width="32.74" height="1.84" fill="#ffff99"/>
<rect x="437.64" y="438.44" width="43.36" height="1.84" fill="#ffff00"/>
<rect x="404.90" y="440.98" width="76.10" height="1.92" fill="#ffff00"/>
<rect x="404.90" y="443.60" width="76.10" height="2.74" fill="#fffdf2"/>
<rect x="404.90" y="447.03" width="14.74" height="2.74" fill="#ffff99"/>
<rect x="419.64" y="447.03" width="29.46" height="2.74" fill="#ffff00"/>
<rect x="449.09" y="447.03" width="10.64" height="2.74" fill="#c4b4b0"/>
<rect x="459.73" y="447.03" width="12.27" height="2.74" fill="#fffdf2"/>
<rect x="472.00" y="447.03" width="9.00" height="2.74" fill="#22ff66"/>
<rect x="404.90" y="450.47" width="42.56" height="2.57" fill="#fffdf2"/>
<rect x="447.46" y="450.47" width="33.55" height="2.57" fill="#c4b4b0"/>
<rect x="404.90" y="453.74" width="76.10" height="2.41" fill="#fffdf2"/>
<rect x="404.90" y="456.85" width="76.10" height="2.16" fill="#fffdf2"/>
<rect x="404.90" y="459.71" width="44.19" height="2.54" fill="#ffff00"/>
<rect x="449.09" y="459.71" width="31.91" height="2.54" fill="#22ff66"/>
<line x1="404.6" y1="26.6" x2="404.6" y2="462.5" stroke="#333" stroke-width="1"/>
<line x1="404.6" y1="26.6" x2="484.8" y2="26.6" stroke="#333" stroke-width="0.9"/>
<line x1="347" y1="27.2" x2="347" y2="71.7" stroke="#dd0a0a" stroke-width="1.8"/>
<line x1="347" y1="105" x2="347" y2="119.3" stroke="#dd0a0a" stroke-width="1.8"/>
<line x1="347" y1="130" x2="347" y2="145" stroke="#dd0a0a" stroke-width="1.8"/>
<line x1="347" y1="158" x2="347" y2="434.4" stroke="#dd0a0a" stroke-width="1.8"/>
<clipPath id="cp1"><rect x="90.8" y="27.7" width="43.7" height="436"/></clipPath><g clip-path="url(#cp1)">
<circle cx="92.5" cy="29.0" r="2.3" fill="#2a8ee8" stroke="#1e66a7" stroke-width="0.45"/>
<circle cx="95.5" cy="29.5" r="2.3" fill="#2ccce0" stroke="#1f92a1" stroke-width="0.45"/>
<circle cx="101.4" cy="29.9" r="2.3" fill="#22da4c" stroke="#189c36" stroke-width="0.45"/>
<circle cx="92.8" cy="36.0" r="2.3" fill="#2ccce0" stroke="#1f92a1" stroke-width="0.45"/>
<circle cx="108.7" cy="35.2" r="2.3" fill="#2adcaa" stroke="#1e9e7a" stroke-width="0.45"/>
<circle cx="116.7" cy="36.2" r="2.3" fill="#ece020" stroke="#a9a117" stroke-width="0.45"/>
<circle cx="116.3" cy="40.8" r="2.3" fill="#2ccce0" stroke="#1f92a1" stroke-width="0.45"/>
<circle cx="97.6" cy="41.0" r="2.3" fill="#1434dc" stroke="#0e259e" stroke-width="0.45"/>
<circle cx="101.1" cy="37.6" r="2.3" fill="#2ccce0" stroke="#1f92a1" stroke-width="0.45"/>
<circle cx="100.9" cy="41.0" r="2.3" fill="#2ccce0" stroke="#1f92a1" stroke-width="0.45"/>
<circle cx="106.6" cy="44.4" r="2.3" fill="#2ccce0" stroke="#1f92a1" stroke-width="0.45"/>
<circle cx="96.5" cy="50.9" r="2.3" fill="#2ccce0" stroke="#1f92a1" stroke-width="0.45"/>
<circle cx="104.1" cy="45.1" r="2.3" fill="#2ccce0" stroke="#1f92a1" stroke-width="0.45"/>
<circle cx="115.3" cy="48.0" r="2.3" fill="#2adcaa" stroke="#1e9e7a" stroke-width="0.45"/>
<circle cx="117.8" cy="48.8" r="2.3" fill="#22da4c" stroke="#189c36" stroke-width="0.45"/>
<circle cx="99.4" cy="52.1" r="2.3" fill="#2adcaa" stroke="#1e9e7a" stroke-width="0.45"/>
<circle cx="99.8" cy="49.0" r="2.3" fill="#2ccce0" stroke="#1f92a1" stroke-width="0.45"/>
<circle cx="108.1" cy="53.5" r="2.3" fill="#2adcaa" stroke="#1e9e7a" stroke-width="0.45"/>
<circle cx="99.4" cy="58.8" r="2.3" fill="#2ccce0" stroke="#1f92a1" stroke-width="0.45"/>
<circle cx="104.5" cy="53.2" r="2.3" fill="#2ccce0" stroke="#1f92a1" stroke-width="0.45"/>
<circle cx="105.6" cy="56.7" r="2.3" fill="#2adcaa" stroke="#1e9e7a" stroke-width="0.45"/>
<circle cx="103.6" cy="58.1" r="2.3" fill="#2ccce0" stroke="#1f92a1" stroke-width="0.45"/>
<circle cx="98.5" cy="62.6" r="2.3" fill="#2ccce0" stroke="#1f92a1" stroke-width="0.45"/>
<circle cx="98.2" cy="61.9" r="2.3" fill="#2ccce0" stroke="#1f92a1" stroke-width="0.45"/>
<circle cx="105.9" cy="61.2" r="2.3" fill="#2adcaa" stroke="#1e9e7a" stroke-width="0.45"/>
<circle cx="110.5" cy="62.2" r="2.3" fill="#2adcaa" stroke="#1e9e7a" stroke-width="0.45"/>
<circle cx="114.7" cy="61.6" r="2.3" fill="#2adcaa" stroke="#1e9e7a" stroke-width="0.45"/>
<circle cx="98.8" cy="64.2" r="2.3" fill="#2a8ee8" stroke="#1e66a7" stroke-width="0.45"/>
<circle cx="96.7" cy="69.1" r="2.3" fill="#2ccce0" stroke="#1f92a1" stroke-width="0.45"/>
<circle cx="92.5" cy="71.0" r="2.3" fill="#1434dc" stroke="#0e259e" stroke-width="0.45"/>
<circle cx="96.4" cy="69.8" r="2.3" fill="#2a8ee8" stroke="#1e66a7" stroke-width="0.45"/>
<circle cx="102.8" cy="73.9" r="2.3" fill="#2a8ee8" stroke="#1e66a7" stroke-width="0.45"/>
<circle cx="109.9" cy="67.2" r="2.3" fill="#2adcaa" stroke="#1e9e7a" stroke-width="0.45"/>
<circle cx="120.7" cy="65.2" r="2.3" fill="#22da4c" stroke="#189c36" stroke-width="0.45"/>
<circle cx="117.7" cy="69.3" r="2.3" fill="#2ccce0" stroke="#1f92a1" stroke-width="0.45"/>
<circle cx="119.6" cy="68.8" r="2.3" fill="#2ccce0" stroke="#1f92a1" stroke-width="0.45"/>
<circle cx="109.1" cy="70.7" r="2.3" fill="#2adcaa" stroke="#1e9e7a" stroke-width="0.45"/>
<circle cx="112.8" cy="71.6" r="2.3" fill="#2adcaa" stroke="#1e9e7a" stroke-width="0.45"/>
<circle cx="112.9" cy="77.2" r="2.3" fill="#2adcaa" stroke="#1e9e7a" stroke-width="0.45"/>
<circle cx="114.7" cy="78.5" r="2.3" fill="#22da4c" stroke="#189c36" stroke-width="0.45"/>
<circle cx="120.1" cy="77.7" r="2.3" fill="#2ccce0" stroke="#1f92a1" stroke-width="0.45"/>
<circle cx="122.6" cy="76.4" r="2.3" fill="#2adcaa" stroke="#1e9e7a" stroke-width="0.45"/>
<circle cx="122.1" cy="73.0" r="2.3" fill="#2adcaa" stroke="#1e9e7a" stroke-width="0.45"/>
<circle cx="103.9" cy="77.4" r="2.3" fill="#2adcaa" stroke="#1e9e7a" stroke-width="0.45"/>
<circle cx="106.4" cy="85.2" r="2.3" fill="#2adcaa" stroke="#1e9e7a" stroke-width="0.45"/>
<circle cx="112.0" cy="82.4" r="2.3" fill="#2ccce0" stroke="#1f92a1" stroke-width="0.45"/>
<circle cx="116.0" cy="81.1" r="2.3" fill="#2adcaa" stroke="#1e9e7a" stroke-width="0.45"/>
<circle cx="109.9" cy="88.4" r="2.3" fill="#2adcaa" stroke="#1e9e7a" stroke-width="0.45"/>
<circle cx="112.3" cy="84.6" r="2.3" fill="#2ccce0" stroke="#1f92a1" stroke-width="0.45"/>
<circle cx="101.4" cy="92.1" r="2.3" fill="#22da4c" stroke="#189c36" stroke-width="0.45"/>
<circle cx="112.4" cy="92.0" r="2.3" fill="#2adcaa" stroke="#1e9e7a" stroke-width="0.45"/>
<circle cx="112.8" cy="95.4" r="2.3" fill="#2adcaa" stroke="#1e9e7a" stroke-width="0.45"/>
<circle cx="102.0" cy="99.9" r="2.3" fill="#22da4c" stroke="#189c36" stroke-width="0.45"/>
<circle cx="111.8" cy="101.0" r="2.3" fill="#2adcaa" stroke="#1e9e7a" stroke-width="0.45"/>
<circle cx="116.9" cy="96.8" r="2.3" fill="#2adcaa" stroke="#1e9e7a" stroke-width="0.45"/>
<circle cx="121.3" cy="98.1" r="2.3" fill="#2adcaa" stroke="#1e9e7a" stroke-width="0.45"/>
<circle cx="107.0" cy="97.5" r="2.3" fill="#2adcaa" stroke="#1e9e7a" stroke-width="0.45"/>
<circle cx="113.6" cy="97.1" r="2.3" fill="#2ccce0" stroke="#1f92a1" stroke-width="0.45"/>
<circle cx="121.7" cy="98.8" r="2.3" fill="#2adcaa" stroke="#1e9e7a" stroke-width="0.45"/>
<circle cx="103.5" cy="105.0" r="2.3" fill="#22da4c" stroke="#189c36" stroke-width="0.45"/>
<circle cx="113.9" cy="104.2" r="2.3" fill="#22da4c" stroke="#189c36" stroke-width="0.45"/>
<circle cx="107.9" cy="104.8" r="2.3" fill="#2adcaa" stroke="#1e9e7a" stroke-width="0.45"/>
<circle cx="112.8" cy="107.3" r="2.3" fill="#2adcaa" stroke="#1e9e7a" stroke-width="0.45"/>
<circle cx="109.7" cy="109.6" r="2.3" fill="#2ccce0" stroke="#1f92a1" stroke-width="0.45"/>
<circle cx="113.4" cy="109.9" r="2.3" fill="#2adcaa" stroke="#1e9e7a" stroke-width="0.45"/>
<circle cx="105.5" cy="118.2" r="2.3" fill="#22da4c" stroke="#189c36" stroke-width="0.45"/>
<circle cx="110.3" cy="117.5" r="2.3" fill="#2adcaa" stroke="#1e9e7a" stroke-width="0.45"/>
<circle cx="112.2" cy="114.4" r="2.3" fill="#22da4c" stroke="#189c36" stroke-width="0.45"/>
<circle cx="127.8" cy="114.7" r="2.3" fill="#22da4c" stroke="#189c36" stroke-width="0.45"/>
<circle cx="108.3" cy="117.4" r="2.3" fill="#22da4c" stroke="#189c36" stroke-width="0.45"/>
<circle cx="122.1" cy="119.0" r="2.3" fill="#22da4c" stroke="#189c36" stroke-width="0.45"/>
<circle cx="92.5" cy="119.4" r="2.3" fill="#2ccce0" stroke="#1f92a1" stroke-width="0.45"/>
<circle cx="100.1" cy="122.2" r="2.3" fill="#2ccce0" stroke="#1f92a1" stroke-width="0.45"/>
<circle cx="92.5" cy="125.2" r="2.3" fill="#2ccce0" stroke="#1f92a1" stroke-width="0.45"/>
<circle cx="109.6" cy="128.3" r="2.3" fill="#2adcaa" stroke="#1e9e7a" stroke-width="0.45"/>
<circle cx="92.5" cy="133.9" r="2.3" fill="#1434dc" stroke="#0e259e" stroke-width="0.45"/>
<circle cx="97.7" cy="136.6" r="2.3" fill="#2a8ee8" stroke="#1e66a7" stroke-width="0.45"/>
<circle cx="107.8" cy="134.4" r="2.3" fill="#2adcaa" stroke="#1e9e7a" stroke-width="0.45"/>
<circle cx="115.1" cy="132.5" r="2.3" fill="#2adcaa" stroke="#1e9e7a" stroke-width="0.45"/>
<circle cx="124.1" cy="131.9" r="2.3" fill="#2adcaa" stroke="#1e9e7a" stroke-width="0.45"/>
<circle cx="116.5" cy="137.8" r="2.3" fill="#2adcaa" stroke="#1e9e7a" stroke-width="0.45"/>
<circle cx="95.4" cy="134.2" r="2.3" fill="#2ccce0" stroke="#1f92a1" stroke-width="0.45"/>
<circle cx="113.2" cy="134.2" r="2.3" fill="#2adcaa" stroke="#1e9e7a" stroke-width="0.45"/>
<circle cx="104.9" cy="137.0" r="2.3" fill="#2ccce0" stroke="#1f92a1" stroke-width="0.45"/>
<circle cx="110.4" cy="141.9" r="2.3" fill="#2adcaa" stroke="#1e9e7a" stroke-width="0.45"/>
<circle cx="112.7" cy="148.8" r="2.3" fill="#2ccce0" stroke="#1f92a1" stroke-width="0.45"/>
<circle cx="97.8" cy="147.1" r="2.3" fill="#22da4c" stroke="#189c36" stroke-width="0.45"/>
<circle cx="105.0" cy="148.6" r="2.3" fill="#2ccce0" stroke="#1f92a1" stroke-width="0.45"/>
<circle cx="112.1" cy="154.5" r="2.3" fill="#22da4c" stroke="#189c36" stroke-width="0.45"/>
<circle cx="121.7" cy="152.8" r="2.3" fill="#22da4c" stroke="#189c36" stroke-width="0.45"/>
<circle cx="111.6" cy="157.0" r="2.3" fill="#2ccce0" stroke="#1f92a1" stroke-width="0.45"/>
<circle cx="102.2" cy="158.2" r="2.3" fill="#22da4c" stroke="#189c36" stroke-width="0.45"/>
<circle cx="122.9" cy="156.8" r="2.3" fill="#22da4c" stroke="#189c36" stroke-width="0.45"/>
<circle cx="97.1" cy="163.4" r="2.3" fill="#2ccce0" stroke="#1f92a1" stroke-width="0.45"/>
<circle cx="123.4" cy="158.9" r="2.3" fill="#22da4c" stroke="#189c36" stroke-width="0.45"/>
<circle cx="103.4" cy="163.1" r="2.3" fill="#a8e828" stroke="#78a71c" stroke-width="0.45"/>
<circle cx="108.2" cy="163.0" r="2.3" fill="#22da4c" stroke="#189c36" stroke-width="0.45"/>
<circle cx="117.6" cy="163.5" r="2.3" fill="#22da4c" stroke="#189c36" stroke-width="0.45"/>
<circle cx="94.2" cy="164.8" r="2.3" fill="#2a8ee8" stroke="#1e66a7" stroke-width="0.45"/>
<circle cx="97.3" cy="164.1" r="2.3" fill="#22da4c" stroke="#189c36" stroke-width="0.45"/>
<circle cx="119.1" cy="166.4" r="2.3" fill="#22da4c" stroke="#189c36" stroke-width="0.45"/>
<circle cx="114.3" cy="166.1" r="2.3" fill="#a8e828" stroke="#78a71c" stroke-width="0.45"/>
<circle cx="128.2" cy="165.9" r="2.3" fill="#22da4c" stroke="#189c36" stroke-width="0.45"/>
<circle cx="129.9" cy="168.6" r="2.3" fill="#22da4c" stroke="#189c36" stroke-width="0.45"/>
<circle cx="100.7" cy="169.5" r="2.3" fill="#2ccce0" stroke="#1f92a1" stroke-width="0.45"/>
<circle cx="109.6" cy="174.1" r="2.3" fill="#22da4c" stroke="#189c36" stroke-width="0.45"/>
<circle cx="101.0" cy="175.1" r="2.3" fill="#2adcaa" stroke="#1e9e7a" stroke-width="0.45"/>
<circle cx="97.8" cy="169.0" r="2.3" fill="#22da4c" stroke="#189c36" stroke-width="0.45"/>
<circle cx="102.5" cy="173.9" r="2.3" fill="#2ccce0" stroke="#1f92a1" stroke-width="0.45"/>
<circle cx="106.8" cy="171.8" r="2.3" fill="#22da4c" stroke="#189c36" stroke-width="0.45"/>
<circle cx="110.6" cy="173.3" r="2.3" fill="#2adcaa" stroke="#1e9e7a" stroke-width="0.45"/>
<circle cx="118.5" cy="170.8" r="2.3" fill="#22da4c" stroke="#189c36" stroke-width="0.45"/>
<circle cx="99.5" cy="172.5" r="2.3" fill="#2ccce0" stroke="#1f92a1" stroke-width="0.45"/>
<circle cx="106.0" cy="172.7" r="2.3" fill="#2adcaa" stroke="#1e9e7a" stroke-width="0.45"/>
<circle cx="103.2" cy="181.8" r="2.3" fill="#2adcaa" stroke="#1e9e7a" stroke-width="0.45"/>
<circle cx="120.0" cy="179.5" r="2.3" fill="#2adcaa" stroke="#1e9e7a" stroke-width="0.45"/>
<circle cx="121.8" cy="182.2" r="2.3" fill="#2adcaa" stroke="#1e9e7a" stroke-width="0.45"/>
<circle cx="97.6" cy="184.3" r="2.3" fill="#2a8ee8" stroke="#1e66a7" stroke-width="0.45"/>
<circle cx="100.3" cy="181.3" r="2.3" fill="#2a8ee8" stroke="#1e66a7" stroke-width="0.45"/>
<circle cx="104.6" cy="182.9" r="2.3" fill="#2ccce0" stroke="#1f92a1" stroke-width="0.45"/>
<circle cx="107.7" cy="182.8" r="2.3" fill="#22da4c" stroke="#189c36" stroke-width="0.45"/>
<circle cx="116.2" cy="183.5" r="2.3" fill="#22da4c" stroke="#189c36" stroke-width="0.45"/>
<circle cx="94.0" cy="187.2" r="2.3" fill="#2ccce0" stroke="#1f92a1" stroke-width="0.45"/>
<circle cx="100.4" cy="188.9" r="2.3" fill="#2adcaa" stroke="#1e9e7a" stroke-width="0.45"/>
<circle cx="106.4" cy="188.9" r="2.3" fill="#22da4c" stroke="#189c36" stroke-width="0.45"/>
<circle cx="115.2" cy="190.1" r="2.3" fill="#22da4c" stroke="#189c36" stroke-width="0.45"/>
<circle cx="127.1" cy="192.0" r="2.3" fill="#22da4c" stroke="#189c36" stroke-width="0.45"/>
<circle cx="127.3" cy="191.5" r="2.3" fill="#2adcaa" stroke="#1e9e7a" stroke-width="0.45"/>
<circle cx="132.1" cy="186.6" r="2.3" fill="#22da4c" stroke="#189c36" stroke-width="0.45"/>
<circle cx="100.6" cy="196.6" r="2.3" fill="#2adcaa" stroke="#1e9e7a" stroke-width="0.45"/>
<circle cx="108.2" cy="197.1" r="2.3" fill="#22da4c" stroke="#189c36" stroke-width="0.45"/>
<circle cx="115.9" cy="197.3" r="2.3" fill="#22da4c" stroke="#189c36" stroke-width="0.45"/>
<circle cx="123.6" cy="196.6" r="2.3" fill="#22da4c" stroke="#189c36" stroke-width="0.45"/>
<circle cx="105.0" cy="202.3" r="2.3" fill="#2ccce0" stroke="#1f92a1" stroke-width="0.45"/>
<circle cx="114.4" cy="200.6" r="2.3" fill="#2adcaa" stroke="#1e9e7a" stroke-width="0.45"/>
<circle cx="117.6" cy="197.7" r="2.3" fill="#22da4c" stroke="#189c36" stroke-width="0.45"/>
<circle cx="107.5" cy="205.5" r="2.3" fill="#22da4c" stroke="#189c36" stroke-width="0.45"/>
<circle cx="97.7" cy="214.6" r="2.3" fill="#22da4c" stroke="#189c36" stroke-width="0.45"/>
<circle cx="100.8" cy="215.9" r="2.3" fill="#22da4c" stroke="#189c36" stroke-width="0.45"/>
<circle cx="105.5" cy="212.2" r="2.3" fill="#22da4c" stroke="#189c36" stroke-width="0.45"/>
<circle cx="112.3" cy="211.5" r="2.3" fill="#22da4c" stroke="#189c36" stroke-width="0.45"/>
<circle cx="112.1" cy="209.8" r="2.3" fill="#22da4c" stroke="#189c36" stroke-width="0.45"/>
<circle cx="103.0" cy="220.6" r="2.3" fill="#22da4c" stroke="#189c36" stroke-width="0.45"/>
<circle cx="108.1" cy="215.2" r="2.3" fill="#22da4c" stroke="#189c36" stroke-width="0.45"/>
<circle cx="116.4" cy="212.9" r="2.3" fill="#22da4c" stroke="#189c36" stroke-width="0.45"/>
<circle cx="104.7" cy="222.5" r="2.3" fill="#22da4c" stroke="#189c36" stroke-width="0.45"/>
<circle cx="111.2" cy="225.5" r="2.3" fill="#22da4c" stroke="#189c36" stroke-width="0.45"/>
<circle cx="119.1" cy="221.9" r="2.3" fill="#22da4c" stroke="#189c36" stroke-width="0.45"/>
<circle cx="126.8" cy="222.3" r="2.3" fill="#2adcaa" stroke="#1e9e7a" stroke-width="0.45"/>
<circle cx="100.1" cy="226.1" r="2.3" fill="#22da4c" stroke="#189c36" stroke-width="0.45"/>
<circle cx="101.7" cy="230.5" r="2.3" fill="#22da4c" stroke="#189c36" stroke-width="0.45"/>
<circle cx="116.5" cy="230.4" r="2.3" fill="#22da4c" stroke="#189c36" stroke-width="0.45"/>
<circle cx="109.7" cy="232.5" r="2.3" fill="#22da4c" stroke="#189c36" stroke-width="0.45"/>
<circle cx="124.6" cy="235.6" r="2.3" fill="#22da4c" stroke="#189c36" stroke-width="0.45"/>
<circle cx="102.0" cy="240.3" r="2.3" fill="#a8e828" stroke="#78a71c" stroke-width="0.45"/>
<circle cx="119.3" cy="241.8" r="2.3" fill="#22da4c" stroke="#189c36" stroke-width="0.45"/>
<circle cx="114.6" cy="239.8" r="2.3" fill="#22da4c" stroke="#189c36" stroke-width="0.45"/>
<circle cx="95.0" cy="246.4" r="2.3" fill="#ece020" stroke="#a9a117" stroke-width="0.45"/>
<circle cx="102.9" cy="241.7" r="2.3" fill="#22da4c" stroke="#189c36" stroke-width="0.45"/>
<circle cx="109.1" cy="242.2" r="2.3" fill="#22da4c" stroke="#189c36" stroke-width="0.45"/>
<circle cx="116.3" cy="240.6" r="2.3" fill="#22da4c" stroke="#189c36" stroke-width="0.45"/>
<circle cx="111.9" cy="244.7" r="2.3" fill="#22da4c" stroke="#189c36" stroke-width="0.45"/>
<circle cx="95.5" cy="243.7" r="2.3" fill="#ece020" stroke="#a9a117" stroke-width="0.45"/>
<circle cx="98.9" cy="248.9" r="2.3" fill="#ece020" stroke="#a9a117" stroke-width="0.45"/>
<circle cx="99.9" cy="249.1" r="2.3" fill="#a8e828" stroke="#78a71c" stroke-width="0.45"/>
<circle cx="100.4" cy="246.5" r="2.3" fill="#22da4c" stroke="#189c36" stroke-width="0.45"/>
<circle cx="106.0" cy="245.5" r="2.3" fill="#22da4c" stroke="#189c36" stroke-width="0.45"/>
<circle cx="113.7" cy="245.4" r="2.3" fill="#22da4c" stroke="#189c36" stroke-width="0.45"/>
<circle cx="102.1" cy="246.0" r="2.3" fill="#22da4c" stroke="#189c36" stroke-width="0.45"/>
<circle cx="115.6" cy="255.2" r="2.3" fill="#a8e828" stroke="#78a71c" stroke-width="0.45"/>
<circle cx="120.3" cy="250.9" r="2.3" fill="#22da4c" stroke="#189c36" stroke-width="0.45"/>
<circle cx="100.4" cy="257.9" r="2.3" fill="#2ccce0" stroke="#1f92a1" stroke-width="0.45"/>
<circle cx="118.9" cy="262.7" r="2.3" fill="#2ccce0" stroke="#1f92a1" stroke-width="0.45"/>
<circle cx="109.1" cy="263.7" r="2.3" fill="#22da4c" stroke="#189c36" stroke-width="0.45"/>
<circle cx="110.3" cy="260.7" r="2.3" fill="#22da4c" stroke="#189c36" stroke-width="0.45"/>
<circle cx="120.6" cy="267.4" r="2.3" fill="#22da4c" stroke="#189c36" stroke-width="0.45"/>
<circle cx="107.4" cy="267.6" r="2.3" fill="#22da4c" stroke="#189c36" stroke-width="0.45"/>
<circle cx="113.1" cy="273.2" r="2.3" fill="#22da4c" stroke="#189c36" stroke-width="0.45"/>
<circle cx="116.4" cy="275.3" r="2.3" fill="#22da4c" stroke="#189c36" stroke-width="0.45"/>
<circle cx="95.1" cy="275.0" r="2.3" fill="#2a8ee8" stroke="#1e66a7" stroke-width="0.45"/>
<circle cx="102.4" cy="279.8" r="2.3" fill="#22da4c" stroke="#189c36" stroke-width="0.45"/>
<circle cx="99.9" cy="278.6" r="2.3" fill="#2ccce0" stroke="#1f92a1" stroke-width="0.45"/>
<circle cx="100.0" cy="279.9" r="2.3" fill="#2ccce0" stroke="#1f92a1" stroke-width="0.45"/>
<circle cx="93.1" cy="293.5" r="2.3" fill="#2ccce0" stroke="#1f92a1" stroke-width="0.45"/>
<circle cx="105.1" cy="292.0" r="2.3" fill="#22da4c" stroke="#189c36" stroke-width="0.45"/>
<circle cx="97.1" cy="291.9" r="2.3" fill="#22da4c" stroke="#189c36" stroke-width="0.45"/>
<circle cx="102.2" cy="297.8" r="2.3" fill="#22da4c" stroke="#189c36" stroke-width="0.45"/>
<circle cx="104.8" cy="296.9" r="2.3" fill="#22da4c" stroke="#189c36" stroke-width="0.45"/>
<circle cx="93.5" cy="301.6" r="2.3" fill="#ff2010" stroke="#b7170b" stroke-width="0.45"/>
<circle cx="100.0" cy="301.6" r="2.3" fill="#a8e828" stroke="#78a71c" stroke-width="0.45"/>
<circle cx="104.2" cy="297.5" r="2.3" fill="#22da4c" stroke="#189c36" stroke-width="0.45"/>
<circle cx="97.8" cy="300.5" r="2.3" fill="#ff9a10" stroke="#b76e0b" stroke-width="0.45"/>
<circle cx="98.4" cy="304.3" r="2.3" fill="#22da4c" stroke="#189c36" stroke-width="0.45"/>
<circle cx="92.5" cy="307.9" r="2.3" fill="#ff9a10" stroke="#b76e0b" stroke-width="0.45"/>
<circle cx="96.2" cy="308.5" r="2.3" fill="#22da4c" stroke="#189c36" stroke-width="0.45"/>
<circle cx="100.0" cy="304.2" r="2.3" fill="#22da4c" stroke="#189c36" stroke-width="0.45"/>
<circle cx="107.5" cy="305.0" r="2.3" fill="#22da4c" stroke="#189c36" stroke-width="0.45"/>
<circle cx="100.0" cy="306.1" r="2.3" fill="#22da4c" stroke="#189c36" stroke-width="0.45"/>
<circle cx="104.9" cy="311.1" r="2.3" fill="#2ccce0" stroke="#1f92a1" stroke-width="0.45"/>
<circle cx="109.4" cy="309.1" r="2.3" fill="#2ccce0" stroke="#1f92a1" stroke-width="0.45"/>
<circle cx="99.9" cy="316.3" r="2.3" fill="#a8e828" stroke="#78a71c" stroke-width="0.45"/>
<circle cx="120.3" cy="318.4" r="2.3" fill="#22da4c" stroke="#189c36" stroke-width="0.45"/>
<circle cx="99.9" cy="317.1" r="2.3" fill="#a8e828" stroke="#78a71c" stroke-width="0.45"/>
<circle cx="104.4" cy="321.5" r="2.3" fill="#22da4c" stroke="#189c36" stroke-width="0.45"/>
<circle cx="102.8" cy="321.7" r="2.3" fill="#22da4c" stroke="#189c36" stroke-width="0.45"/>
<circle cx="100.1" cy="326.7" r="2.3" fill="#ece020" stroke="#a9a117" stroke-width="0.45"/>
<circle cx="98.6" cy="325.2" r="2.3" fill="#22da4c" stroke="#189c36" stroke-width="0.45"/>
<circle cx="114.2" cy="319.9" r="2.3" fill="#2ccce0" stroke="#1f92a1" stroke-width="0.45"/>
<circle cx="112.7" cy="331.8" r="2.3" fill="#a8e828" stroke="#78a71c" stroke-width="0.45"/>
<circle cx="101.7" cy="342.2" r="2.3" fill="#22da4c" stroke="#189c36" stroke-width="0.45"/>
<circle cx="104.5" cy="344.9" r="2.3" fill="#a8e828" stroke="#78a71c" stroke-width="0.45"/>
<circle cx="120.0" cy="342.8" r="2.3" fill="#22da4c" stroke="#189c36" stroke-width="0.45"/>
<circle cx="118.7" cy="344.0" r="2.3" fill="#22da4c" stroke="#189c36" stroke-width="0.45"/>
<circle cx="125.1" cy="343.8" r="2.3" fill="#a8e828" stroke="#78a71c" stroke-width="0.45"/>
<circle cx="112.9" cy="349.6" r="2.3" fill="#22da4c" stroke="#189c36" stroke-width="0.45"/>
<circle cx="107.8" cy="354.4" r="2.3" fill="#22da4c" stroke="#189c36" stroke-width="0.45"/>
<circle cx="110.1" cy="355.7" r="2.3" fill="#22da4c" stroke="#189c36" stroke-width="0.45"/>
<circle cx="100.1" cy="353.8" r="2.3" fill="#22da4c" stroke="#189c36" stroke-width="0.45"/>
<circle cx="101.1" cy="357.8" r="2.3" fill="#2ccce0" stroke="#1f92a1" stroke-width="0.45"/>
<circle cx="102.6" cy="353.7" r="2.3" fill="#22da4c" stroke="#189c36" stroke-width="0.45"/>
<circle cx="109.6" cy="356.5" r="2.3" fill="#a8e828" stroke="#78a71c" stroke-width="0.45"/>
<circle cx="101.5" cy="357.3" r="2.3" fill="#a8e828" stroke="#78a71c" stroke-width="0.45"/>
<circle cx="99.2" cy="361.8" r="2.3" fill="#22da4c" stroke="#189c36" stroke-width="0.45"/>
<circle cx="111.1" cy="359.6" r="2.3" fill="#22da4c" stroke="#189c36" stroke-width="0.45"/>
<circle cx="119.7" cy="361.7" r="2.3" fill="#22da4c" stroke="#189c36" stroke-width="0.45"/>
<circle cx="103.1" cy="365.6" r="2.3" fill="#22da4c" stroke="#189c36" stroke-width="0.45"/>
<circle cx="107.0" cy="362.0" r="2.3" fill="#2ccce0" stroke="#1f92a1" stroke-width="0.45"/>
<circle cx="110.9" cy="367.1" r="2.3" fill="#22da4c" stroke="#189c36" stroke-width="0.45"/>
<circle cx="97.4" cy="370.6" r="2.3" fill="#ece020" stroke="#a9a117" stroke-width="0.45"/>
<circle cx="100.6" cy="365.9" r="2.3" fill="#22da4c" stroke="#189c36" stroke-width="0.45"/>
<circle cx="105.2" cy="368.7" r="2.3" fill="#22da4c" stroke="#189c36" stroke-width="0.45"/>
<circle cx="119.2" cy="366.6" r="2.3" fill="#22da4c" stroke="#189c36" stroke-width="0.45"/>
<circle cx="95.8" cy="376.3" r="2.3" fill="#a8e828" stroke="#78a71c" stroke-width="0.45"/>
<circle cx="97.5" cy="373.0" r="2.3" fill="#2ccce0" stroke="#1f92a1" stroke-width="0.45"/>
<circle cx="111.2" cy="372.9" r="2.3" fill="#22da4c" stroke="#189c36" stroke-width="0.45"/>
<circle cx="103.3" cy="376.3" r="2.3" fill="#a8e828" stroke="#78a71c" stroke-width="0.45"/>
<circle cx="111.1" cy="378.4" r="2.3" fill="#22da4c" stroke="#189c36" stroke-width="0.45"/>
<circle cx="100.9" cy="380.8" r="2.3" fill="#a8e828" stroke="#78a71c" stroke-width="0.45"/>
<circle cx="109.0" cy="385.5" r="2.3" fill="#22da4c" stroke="#189c36" stroke-width="0.45"/>
<circle cx="110.2" cy="380.5" r="2.3" fill="#2ccce0" stroke="#1f92a1" stroke-width="0.45"/>
<circle cx="98.9" cy="390.5" r="2.3" fill="#ece020" stroke="#a9a117" stroke-width="0.45"/>
<circle cx="94.3" cy="390.6" r="2.3" fill="#22da4c" stroke="#189c36" stroke-width="0.45"/>
<circle cx="97.7" cy="389.2" r="2.3" fill="#ece020" stroke="#a9a117" stroke-width="0.45"/>
<circle cx="105.3" cy="387.7" r="2.3" fill="#22da4c" stroke="#189c36" stroke-width="0.45"/>
<circle cx="107.3" cy="386.4" r="2.3" fill="#22da4c" stroke="#189c36" stroke-width="0.45"/>
<circle cx="112.3" cy="389.1" r="2.3" fill="#22da4c" stroke="#189c36" stroke-width="0.45"/>
<circle cx="115.1" cy="389.9" r="2.3" fill="#22da4c" stroke="#189c36" stroke-width="0.45"/>
<circle cx="104.7" cy="395.8" r="2.3" fill="#22da4c" stroke="#189c36" stroke-width="0.45"/>
<circle cx="111.2" cy="391.5" r="2.3" fill="#2ccce0" stroke="#1f92a1" stroke-width="0.45"/>
<circle cx="98.9" cy="394.8" r="2.3" fill="#22da4c" stroke="#189c36" stroke-width="0.45"/>
<circle cx="107.4" cy="398.4" r="2.3" fill="#22da4c" stroke="#189c36" stroke-width="0.45"/>
<circle cx="112.1" cy="399.4" r="2.3" fill="#2adcaa" stroke="#1e9e7a" stroke-width="0.45"/>
<circle cx="119.7" cy="401.7" r="2.3" fill="#2adcaa" stroke="#1e9e7a" stroke-width="0.45"/>
<circle cx="106.0" cy="403.1" r="2.3" fill="#22da4c" stroke="#189c36" stroke-width="0.45"/>
<circle cx="111.8" cy="401.3" r="2.3" fill="#2ccce0" stroke="#1f92a1" stroke-width="0.45"/>
<circle cx="113.6" cy="401.1" r="2.3" fill="#22da4c" stroke="#189c36" stroke-width="0.45"/>
<circle cx="100.5" cy="407.5" r="2.3" fill="#a8e828" stroke="#78a71c" stroke-width="0.45"/>
<circle cx="104.9" cy="407.1" r="2.3" fill="#22da4c" stroke="#189c36" stroke-width="0.45"/>
<circle cx="112.9" cy="409.0" r="2.3" fill="#22da4c" stroke="#189c36" stroke-width="0.45"/>
<circle cx="109.6" cy="410.8" r="2.3" fill="#a8e828" stroke="#78a71c" stroke-width="0.45"/>
<circle cx="104.3" cy="414.9" r="2.3" fill="#2ccce0" stroke="#1f92a1" stroke-width="0.45"/>
<circle cx="102.2" cy="417.4" r="2.3" fill="#22da4c" stroke="#189c36" stroke-width="0.45"/>
<circle cx="102.9" cy="419.7" r="2.3" fill="#22da4c" stroke="#189c36" stroke-width="0.45"/>
<circle cx="107.3" cy="416.7" r="2.3" fill="#22da4c" stroke="#189c36" stroke-width="0.45"/>
<circle cx="111.9" cy="415.5" r="2.3" fill="#22da4c" stroke="#189c36" stroke-width="0.45"/>
<circle cx="121.3" cy="416.0" r="2.3" fill="#22da4c" stroke="#189c36" stroke-width="0.45"/>
<circle cx="117.1" cy="421.6" r="2.3" fill="#22da4c" stroke="#189c36" stroke-width="0.45"/>
<circle cx="117.3" cy="421.2" r="2.3" fill="#22da4c" stroke="#189c36" stroke-width="0.45"/>
<circle cx="102.5" cy="423.7" r="2.3" fill="#22da4c" stroke="#189c36" stroke-width="0.45"/>
<circle cx="101.8" cy="423.3" r="2.3" fill="#2ccce0" stroke="#1f92a1" stroke-width="0.45"/>
<circle cx="101.5" cy="423.0" r="2.3" fill="#22da4c" stroke="#189c36" stroke-width="0.45"/>
<circle cx="106.4" cy="431.2" r="2.3" fill="#22da4c" stroke="#189c36" stroke-width="0.45"/>
<circle cx="110.6" cy="428.9" r="2.3" fill="#22da4c" stroke="#189c36" stroke-width="0.45"/>
<circle cx="114.4" cy="427.5" r="2.3" fill="#22da4c" stroke="#189c36" stroke-width="0.45"/>
<circle cx="106.0" cy="431.9" r="2.3" fill="#22da4c" stroke="#189c36" stroke-width="0.45"/>
<circle cx="115.5" cy="433.6" r="2.3" fill="#22da4c" stroke="#189c36" stroke-width="0.45"/>
<circle cx="96.7" cy="432.4" r="2.3" fill="#2ccce0" stroke="#1f92a1" stroke-width="0.45"/>
<circle cx="95.7" cy="437.3" r="2.3" fill="#a8e828" stroke="#78a71c" stroke-width="0.45"/>
<circle cx="101.9" cy="444.7" r="2.3" fill="#2adcaa" stroke="#1e9e7a" stroke-width="0.45"/>
<circle cx="97.0" cy="448.6" r="2.3" fill="#2adcaa" stroke="#1e9e7a" stroke-width="0.45"/>
<circle cx="100.4" cy="449.0" r="2.3" fill="#22da4c" stroke="#189c36" stroke-width="0.45"/>
<circle cx="116.7" cy="450.1" r="2.3" fill="#22da4c" stroke="#189c36" stroke-width="0.45"/>
<circle cx="96.6" cy="459.8" r="2.3" fill="#2adcaa" stroke="#1e9e7a" stroke-width="0.45"/>
<circle cx="94.8" cy="30.1" r="2.3" fill="#2a8ee8" stroke="#1e66a7" stroke-width="0.45"/>
<circle cx="98.0" cy="29.6" r="2.3" fill="#2ccce0" stroke="#1f92a1" stroke-width="0.45"/>
<circle cx="103.9" cy="30.1" r="2.3" fill="#22da4c" stroke="#189c36" stroke-width="0.45"/>
<circle cx="103.0" cy="32.8" r="2.3" fill="#ff9a10" stroke="#b76e0b" stroke-width="0.45"/>
<circle cx="93.5" cy="34.2" r="2.3" fill="#2ccce0" stroke="#1f92a1" stroke-width="0.45"/>
<circle cx="97.1" cy="35.1" r="2.3" fill="#2a8ee8" stroke="#1e66a7" stroke-width="0.45"/>
<circle cx="100.7" cy="34.6" r="2.3" fill="#2ccce0" stroke="#1f92a1" stroke-width="0.45"/>
<circle cx="105.7" cy="35.5" r="2.3" fill="#2adcaa" stroke="#1e9e7a" stroke-width="0.45"/>
<circle cx="109.4" cy="36.5" r="2.3" fill="#2adcaa" stroke="#1e9e7a" stroke-width="0.45"/>
<circle cx="115.7" cy="34.6" r="2.3" fill="#ece020" stroke="#a9a117" stroke-width="0.45"/>
<circle cx="114.4" cy="40.1" r="2.3" fill="#2ccce0" stroke="#1f92a1" stroke-width="0.45"/>
<circle cx="95.3" cy="40.5" r="2.3" fill="#1434dc" stroke="#0e259e" stroke-width="0.45"/>
<circle cx="99.8" cy="39.6" r="2.3" fill="#2ccce0" stroke="#1f92a1" stroke-width="0.45"/>
<circle cx="103.5" cy="41.0" r="2.3" fill="#2ccce0" stroke="#1f92a1" stroke-width="0.45"/>
<circle cx="107.1" cy="41.5" r="2.3" fill="#2ccce0" stroke="#1f92a1" stroke-width="0.45"/>
<circle cx="97.1" cy="43.7" r="2.3" fill="#2ccce0" stroke="#1f92a1" stroke-width="0.45"/>
<circle cx="100.3" cy="45.5" r="2.3" fill="#22da4c" stroke="#189c36" stroke-width="0.45"/>
<circle cx="93.0" cy="47.4" r="2.3" fill="#2ccce0" stroke="#1f92a1" stroke-width="0.45"/>
<circle cx="96.2" cy="48.7" r="2.3" fill="#2ccce0" stroke="#1f92a1" stroke-width="0.45"/>
<circle cx="103.9" cy="47.4" r="2.3" fill="#2ccce0" stroke="#1f92a1" stroke-width="0.45"/>
<circle cx="109.4" cy="46.9" r="2.3" fill="#2adcaa" stroke="#1e9e7a" stroke-width="0.45"/>
<circle cx="112.5" cy="48.7" r="2.3" fill="#2adcaa" stroke="#1e9e7a" stroke-width="0.45"/>
<circle cx="117.1" cy="46.0" r="2.3" fill="#22da4c" stroke="#189c36" stroke-width="0.45"/>
<circle cx="97.1" cy="52.4" r="2.3" fill="#2adcaa" stroke="#1e9e7a" stroke-width="0.45"/>
<circle cx="101.6" cy="51.0" r="2.3" fill="#2ccce0" stroke="#1f92a1" stroke-width="0.45"/>
<circle cx="106.2" cy="52.4" r="2.3" fill="#2adcaa" stroke="#1e9e7a" stroke-width="0.45"/>
<circle cx="110.7" cy="51.5" r="2.3" fill="#2adcaa" stroke="#1e9e7a" stroke-width="0.45"/>
<circle cx="114.4" cy="52.4" r="2.3" fill="#2adcaa" stroke="#1e9e7a" stroke-width="0.45"/>
<circle cx="99.4" cy="56.9" r="2.3" fill="#2ccce0" stroke="#1f92a1" stroke-width="0.45"/>
<circle cx="103.9" cy="55.1" r="2.3" fill="#2ccce0" stroke="#1f92a1" stroke-width="0.45"/>
<circle cx="107.5" cy="56.0" r="2.3" fill="#2adcaa" stroke="#1e9e7a" stroke-width="0.45"/>
<circle cx="110.7" cy="58.7" r="2.3" fill="#22da4c" stroke="#189c36" stroke-width="0.45"/>
<circle cx="104.8" cy="59.6" r="2.3" fill="#2ccce0" stroke="#1f92a1" stroke-width="0.45"/>
<circle cx="98.0" cy="60.5" r="2.3" fill="#2ccce0" stroke="#1f92a1" stroke-width="0.45"/>
<circle cx="121.6" cy="60.1" r="2.3" fill="#2adcaa" stroke="#1e9e7a" stroke-width="0.45"/>
<circle cx="123.9" cy="62.8" r="2.3" fill="#2adcaa" stroke="#1e9e7a" stroke-width="0.45"/>
<circle cx="96.6" cy="63.3" r="2.3" fill="#2ccce0" stroke="#1f92a1" stroke-width="0.45"/>
<circle cx="104.4" cy="63.3" r="2.3" fill="#2adcaa" stroke="#1e9e7a" stroke-width="0.45"/>
<circle cx="108.5" cy="62.4" r="2.3" fill="#2adcaa" stroke="#1e9e7a" stroke-width="0.45"/>
<circle cx="114.4" cy="63.7" r="2.3" fill="#2adcaa" stroke="#1e9e7a" stroke-width="0.45"/>
<circle cx="97.1" cy="63.4" r="2.3" fill="#2a8ee8" stroke="#1e66a7" stroke-width="0.45"/>
<circle cx="96.6" cy="66.5" r="2.3" fill="#2ccce0" stroke="#1f92a1" stroke-width="0.45"/>
<circle cx="94.8" cy="70.2" r="2.3" fill="#1434dc" stroke="#0e259e" stroke-width="0.45"/>
<circle cx="98.9" cy="71.1" r="2.3" fill="#2a8ee8" stroke="#1e66a7" stroke-width="0.45"/>
<circle cx="101.2" cy="71.5" r="2.3" fill="#2a8ee8" stroke="#1e66a7" stroke-width="0.45"/>
<circle cx="105.3" cy="63.8" r="2.3" fill="#2adcaa" stroke="#1e9e7a" stroke-width="0.45"/>
<circle cx="108.9" cy="64.7" r="2.3" fill="#2adcaa" stroke="#1e9e7a" stroke-width="0.45"/>
<circle cx="115.3" cy="64.7" r="2.3" fill="#2ccce0" stroke="#1f92a1" stroke-width="0.45"/>
<circle cx="118.0" cy="66.1" r="2.3" fill="#22da4c" stroke="#189c36" stroke-width="0.45"/>
<circle cx="119.4" cy="68.4" r="2.3" fill="#2ccce0" stroke="#1f92a1" stroke-width="0.45"/>
<circle cx="117.5" cy="69.3" r="2.3" fill="#2ccce0" stroke="#1f92a1" stroke-width="0.45"/>
<circle cx="123.9" cy="63.8" r="2.3" fill="#22da4c" stroke="#189c36" stroke-width="0.45"/>
<circle cx="108.0" cy="72.9" r="2.3" fill="#2adcaa" stroke="#1e9e7a" stroke-width="0.45"/>
<circle cx="111.6" cy="69.3" r="2.3" fill="#2adcaa" stroke="#1e9e7a" stroke-width="0.45"/>
<circle cx="112.5" cy="74.7" r="2.3" fill="#2adcaa" stroke="#1e9e7a" stroke-width="0.45"/>
<circle cx="109.4" cy="77.0" r="2.3" fill="#2adcaa" stroke="#1e9e7a" stroke-width="0.45"/>
<circle cx="115.3" cy="75.6" r="2.3" fill="#22da4c" stroke="#189c36" stroke-width="0.45"/>
<circle cx="118.0" cy="77.5" r="2.3" fill="#2ccce0" stroke="#1f92a1" stroke-width="0.45"/>
<circle cx="120.7" cy="75.6" r="2.3" fill="#2adcaa" stroke="#1e9e7a" stroke-width="0.45"/>
<circle cx="123.9" cy="73.8" r="2.3" fill="#2adcaa" stroke="#1e9e7a" stroke-width="0.45"/>
<circle cx="101.6" cy="79.3" r="2.3" fill="#2adcaa" stroke="#1e9e7a" stroke-width="0.45"/>
<circle cx="110.7" cy="80.2" r="2.3" fill="#22da4c" stroke="#189c36" stroke-width="0.45"/>
<circle cx="115.3" cy="81.1" r="2.3" fill="#2adcaa" stroke="#1e9e7a" stroke-width="0.45"/>
<circle cx="105.3" cy="83.8" r="2.3" fill="#2adcaa" stroke="#1e9e7a" stroke-width="0.45"/>
<circle cx="109.8" cy="83.8" r="2.3" fill="#2ccce0" stroke="#1f92a1" stroke-width="0.45"/>
<circle cx="113.5" cy="84.7" r="2.3" fill="#2adcaa" stroke="#1e9e7a" stroke-width="0.45"/>
<circle cx="117.5" cy="82.9" r="2.3" fill="#2adcaa" stroke="#1e9e7a" stroke-width="0.45"/>
<circle cx="103.5" cy="87.5" r="2.3" fill="#2adcaa" stroke="#1e9e7a" stroke-width="0.45"/>
<circle cx="108.0" cy="88.4" r="2.3" fill="#2adcaa" stroke="#1e9e7a" stroke-width="0.45"/>
<circle cx="112.5" cy="87.5" r="2.3" fill="#2ccce0" stroke="#1f92a1" stroke-width="0.45"/>
<circle cx="116.2" cy="89.3" r="2.3" fill="#2adcaa" stroke="#1e9e7a" stroke-width="0.45"/>
<circle cx="104.4" cy="92.0" r="2.3" fill="#22da4c" stroke="#189c36" stroke-width="0.45"/>
<circle cx="108.9" cy="92.0" r="2.3" fill="#2adcaa" stroke="#1e9e7a" stroke-width="0.45"/>
<circle cx="113.5" cy="92.0" r="2.3" fill="#2adcaa" stroke="#1e9e7a" stroke-width="0.45"/>
<circle cx="102.5" cy="94.7" r="2.3" fill="#22da4c" stroke="#189c36" stroke-width="0.45"/>
<circle cx="107.1" cy="95.6" r="2.3" fill="#2adcaa" stroke="#1e9e7a" stroke-width="0.45"/>
<circle cx="111.6" cy="94.7" r="2.3" fill="#2adcaa" stroke="#1e9e7a" stroke-width="0.45"/>
<circle cx="114.4" cy="97.0" r="2.3" fill="#2adcaa" stroke="#1e9e7a" stroke-width="0.45"/>
<circle cx="103.5" cy="101.1" r="2.3" fill="#22da4c" stroke="#189c36" stroke-width="0.45"/>
<circle cx="108.9" cy="101.1" r="2.3" fill="#2adcaa" stroke="#1e9e7a" stroke-width="0.45"/>
<circle cx="112.5" cy="100.6" r="2.3" fill="#22da4c" stroke="#189c36" stroke-width="0.45"/>
<circle cx="117.1" cy="99.3" r="2.3" fill="#2adcaa" stroke="#1e9e7a" stroke-width="0.45"/>
<circle cx="120.3" cy="99.7" r="2.3" fill="#2adcaa" stroke="#1e9e7a" stroke-width="0.45"/>
<circle cx="102.5" cy="98.5" r="2.3" fill="#2adcaa" stroke="#1e9e7a" stroke-width="0.45"/>
<circle cx="108.9" cy="98.9" r="2.3" fill="#2adcaa" stroke="#1e9e7a" stroke-width="0.45"/>
<circle cx="114.4" cy="99.4" r="2.3" fill="#2ccce0" stroke="#1f92a1" stroke-width="0.45"/>
<circle cx="119.8" cy="99.8" r="2.3" fill="#2adcaa" stroke="#1e9e7a" stroke-width="0.45"/>
<circle cx="104.4" cy="102.5" r="2.3" fill="#22da4c" stroke="#189c36" stroke-width="0.45"/>
<circle cx="112.5" cy="101.6" r="2.3" fill="#22da4c" stroke="#189c36" stroke-width="0.45"/>
<circle cx="117.1" cy="101.6" r="2.3" fill="#2adcaa" stroke="#1e9e7a" stroke-width="0.45"/>
<circle cx="106.2" cy="106.2" r="2.3" fill="#2adcaa" stroke="#1e9e7a" stroke-width="0.45"/>
<circle cx="110.7" cy="105.3" r="2.3" fill="#22da4c" stroke="#189c36" stroke-width="0.45"/>
<circle cx="115.3" cy="106.2" r="2.3" fill="#2adcaa" stroke="#1e9e7a" stroke-width="0.45"/>
<circle cx="118.0" cy="108.0" r="2.3" fill="#22da4c" stroke="#189c36" stroke-width="0.45"/>
<circle cx="107.1" cy="109.8" r="2.3" fill="#2adcaa" stroke="#1e9e7a" stroke-width="0.45"/>
<circle cx="111.6" cy="110.7" r="2.3" fill="#2ccce0" stroke="#1f92a1" stroke-width="0.45"/>
<circle cx="116.2" cy="109.8" r="2.3" fill="#2adcaa" stroke="#1e9e7a" stroke-width="0.45"/>
<circle cx="119.8" cy="111.6" r="2.3" fill="#2adcaa" stroke="#1e9e7a" stroke-width="0.45"/>
<circle cx="125.3" cy="112.5" r="2.3" fill="#22da4c" stroke="#189c36" stroke-width="0.45"/>
<circle cx="131.2" cy="111.6" r="2.3" fill="#22da4c" stroke="#189c36" stroke-width="0.45"/>
<circle cx="104.4" cy="116.2" r="2.3" fill="#22da4c" stroke="#189c36" stroke-width="0.45"/>
<circle cx="109.8" cy="115.3" r="2.3" fill="#2adcaa" stroke="#1e9e7a" stroke-width="0.45"/>
<circle cx="114.4" cy="114.4" r="2.3" fill="#22da4c" stroke="#189c36" stroke-width="0.45"/>
<circle cx="117.1" cy="115.3" r="2.3" fill="#2adcaa" stroke="#1e9e7a" stroke-width="0.45"/>
<circle cx="123.5" cy="115.3" r="2.3" fill="#22da4c" stroke="#189c36" stroke-width="0.45"/>
<circle cx="126.2" cy="113.9" r="2.3" fill="#22da4c" stroke="#189c36" stroke-width="0.45"/>
<circle cx="115.3" cy="118.9" r="2.3" fill="#2ccce0" stroke="#1f92a1" stroke-width="0.45"/>
<circle cx="108.9" cy="119.8" r="2.3" fill="#22da4c" stroke="#189c36" stroke-width="0.45"/>
<circle cx="121.6" cy="120.7" r="2.3" fill="#22da4c" stroke="#189c36" stroke-width="0.45"/>
<circle cx="92.5" cy="118.9" r="2.3" fill="#2ccce0" stroke="#1f92a1" stroke-width="0.45"/>
<circle cx="94.8" cy="120.3" r="2.3" fill="#22da4c" stroke="#189c36" stroke-width="0.45"/>
<circle cx="98.9" cy="120.7" r="2.3" fill="#2ccce0" stroke="#1f92a1" stroke-width="0.45"/>
<circle cx="93.5" cy="124.4" r="2.3" fill="#2ccce0" stroke="#1f92a1" stroke-width="0.45"/>
<circle cx="97.1" cy="124.4" r="2.3" fill="#2a8ee8" stroke="#1e66a7" stroke-width="0.45"/>
<circle cx="107.1" cy="124.4" r="2.3" fill="#22da4c" stroke="#189c36" stroke-width="0.45"/>
<circle cx="98.0" cy="127.1" r="2.3" fill="#2a8ee8" stroke="#1e66a7" stroke-width="0.45"/>
<circle cx="104.4" cy="128.0" r="2.3" fill="#2ccce0" stroke="#1f92a1" stroke-width="0.45"/>
<circle cx="111.6" cy="128.0" r="2.3" fill="#2adcaa" stroke="#1e9e7a" stroke-width="0.45"/>
<circle cx="94.4" cy="133.5" r="2.3" fill="#1434dc" stroke="#0e259e" stroke-width="0.45"/>
<circle cx="98.0" cy="134.4" r="2.3" fill="#2a8ee8" stroke="#1e66a7" stroke-width="0.45"/>
<circle cx="103.5" cy="134.4" r="2.3" fill="#2ccce0" stroke="#1f92a1" stroke-width="0.45"/>
<circle cx="109.8" cy="136.2" r="2.3" fill="#2adcaa" stroke="#1e9e7a" stroke-width="0.45"/>
<circle cx="114.4" cy="135.3" r="2.3" fill="#2adcaa" stroke="#1e9e7a" stroke-width="0.45"/>
<circle cx="121.6" cy="133.0" r="2.3" fill="#2adcaa" stroke="#1e9e7a" stroke-width="0.45"/>
<circle cx="118.9" cy="137.1" r="2.3" fill="#2adcaa" stroke="#1e9e7a" stroke-width="0.45"/>
<circle cx="94.4" cy="134.5" r="2.3" fill="#1434dc" stroke="#0e259e" stroke-width="0.45"/>
<circle cx="98.0" cy="135.4" r="2.3" fill="#2ccce0" stroke="#1f92a1" stroke-width="0.45"/>
<circle cx="103.5" cy="134.9" r="2.3" fill="#2ccce0" stroke="#1f92a1" stroke-width="0.45"/>
<circle cx="108.9" cy="135.4" r="2.3" fill="#2adcaa" stroke="#1e9e7a" stroke-width="0.45"/>
<circle cx="114.4" cy="135.8" r="2.3" fill="#2adcaa" stroke="#1e9e7a" stroke-width="0.45"/>
<circle cx="119.8" cy="137.6" r="2.3" fill="#2adcaa" stroke="#1e9e7a" stroke-width="0.45"/>
<circle cx="101.6" cy="139.5" r="2.3" fill="#2a8ee8" stroke="#1e66a7" stroke-width="0.45"/>
<circle cx="105.3" cy="139.0" r="2.3" fill="#2ccce0" stroke="#1f92a1" stroke-width="0.45"/>
<circle cx="110.7" cy="139.5" r="2.3" fill="#2ccce0" stroke="#1f92a1" stroke-width="0.45"/>
<circle cx="102.5" cy="143.1" r="2.3" fill="#2a8ee8" stroke="#1e66a7" stroke-width="0.45"/>
<circle cx="106.2" cy="143.1" r="2.3" fill="#2ccce0" stroke="#1f92a1" stroke-width="0.45"/>
<circle cx="109.8" cy="144.0" r="2.3" fill="#2adcaa" stroke="#1e9e7a" stroke-width="0.45"/>
<circle cx="93.9" cy="144.9" r="2.3" fill="#2ccce0" stroke="#1f92a1" stroke-width="0.45"/>
<circle cx="106.2" cy="147.6" r="2.3" fill="#22da4c" stroke="#189c36" stroke-width="0.45"/>
<circle cx="110.7" cy="147.6" r="2.3" fill="#2ccce0" stroke="#1f92a1" stroke-width="0.45"/>
<circle cx="97.5" cy="149.5" r="2.3" fill="#22da4c" stroke="#189c36" stroke-width="0.45"/>
<circle cx="104.4" cy="150.4" r="2.3" fill="#2ccce0" stroke="#1f92a1" stroke-width="0.45"/>
<circle cx="108.9" cy="152.2" r="2.3" fill="#2ccce0" stroke="#1f92a1" stroke-width="0.45"/>
<circle cx="113.5" cy="152.2" r="2.3" fill="#22da4c" stroke="#189c36" stroke-width="0.45"/>
<circle cx="120.3" cy="150.8" r="2.3" fill="#22da4c" stroke="#189c36" stroke-width="0.45"/>
<circle cx="95.7" cy="154.0" r="2.3" fill="#2adcaa" stroke="#1e9e7a" stroke-width="0.45"/>
<circle cx="106.2" cy="154.9" r="2.3" fill="#2ccce0" stroke="#1f92a1" stroke-width="0.45"/>
<circle cx="115.3" cy="154.9" r="2.3" fill="#22da4c" stroke="#189c36" stroke-width="0.45"/>
<circle cx="120.7" cy="154.0" r="2.3" fill="#22da4c" stroke="#189c36" stroke-width="0.45"/>
<circle cx="109.8" cy="157.6" r="2.3" fill="#2ccce0" stroke="#1f92a1" stroke-width="0.45"/>
<circle cx="104.4" cy="158.5" r="2.3" fill="#22da4c" stroke="#189c36" stroke-width="0.45"/>
<circle cx="98.0" cy="158.5" r="2.3" fill="#2ccce0" stroke="#1f92a1" stroke-width="0.45"/>
<circle cx="125.7" cy="157.2" r="2.3" fill="#22da4c" stroke="#189c36" stroke-width="0.45"/>
<circle cx="98.0" cy="161.3" r="2.3" fill="#2ccce0" stroke="#1f92a1" stroke-width="0.45"/>
<circle cx="113.5" cy="160.4" r="2.3" fill="#22da4c" stroke="#189c36" stroke-width="0.45"/>
<circle cx="117.1" cy="160.4" r="2.3" fill="#22da4c" stroke="#189c36" stroke-width="0.45"/>
<circle cx="121.6" cy="161.3" r="2.3" fill="#22da4c" stroke="#189c36" stroke-width="0.45"/>
<circle cx="105.3" cy="164.0" r="2.3" fill="#a8e828" stroke="#78a71c" stroke-width="0.45"/>
<circle cx="110.7" cy="163.1" r="2.3" fill="#22da4c" stroke="#189c36" stroke-width="0.45"/>
<circle cx="115.3" cy="164.0" r="2.3" fill="#22da4c" stroke="#189c36" stroke-width="0.45"/>
<circle cx="93.5" cy="167.2" r="2.3" fill="#2a8ee8" stroke="#1e66a7" stroke-width="0.45"/>
<circle cx="98.0" cy="165.8" r="2.3" fill="#22da4c" stroke="#189c36" stroke-width="0.45"/>
<circle cx="121.6" cy="164.9" r="2.3" fill="#22da4c" stroke="#189c36" stroke-width="0.45"/>
<circle cx="110.7" cy="168.5" r="2.3" fill="#22da4c" stroke="#189c36" stroke-width="0.45"/>
<circle cx="116.2" cy="165.8" r="2.3" fill="#a8e828" stroke="#78a71c" stroke-width="0.45"/>
<circle cx="127.1" cy="168.5" r="2.3" fill="#22da4c" stroke="#189c36" stroke-width="0.45"/>
<circle cx="130.7" cy="166.7" r="2.3" fill="#22da4c" stroke="#189c36" stroke-width="0.45"/>
<circle cx="98.9" cy="170.4" r="2.3" fill="#2ccce0" stroke="#1f92a1" stroke-width="0.45"/>
<circle cx="104.4" cy="169.5" r="2.3" fill="#2adcaa" stroke="#1e9e7a" stroke-width="0.45"/>
<circle cx="108.9" cy="172.2" r="2.3" fill="#22da4c" stroke="#189c36" stroke-width="0.45"/>
<circle cx="119.8" cy="172.2" r="2.3" fill="#22da4c" stroke="#189c36" stroke-width="0.45"/>
<circle cx="102.5" cy="173.1" r="2.3" fill="#2adcaa" stroke="#1e9e7a" stroke-width="0.45"/>
<circle cx="98.0" cy="170.9" r="2.3" fill="#22da4c" stroke="#189c36" stroke-width="0.45"/>
<circle cx="102.5" cy="171.8" r="2.3" fill="#2ccce0" stroke="#1f92a1" stroke-width="0.45"/>
<circle cx="108.9" cy="170.9" r="2.3" fill="#22da4c" stroke="#189c36" stroke-width="0.45"/>
<circle cx="112.5" cy="173.6" r="2.3" fill="#2adcaa" stroke="#1e9e7a" stroke-width="0.45"/>
<circle cx="120.3" cy="172.7" r="2.3" fill="#22da4c" stroke="#189c36" stroke-width="0.45"/>
<circle cx="98.0" cy="174.5" r="2.3" fill="#2ccce0" stroke="#1f92a1" stroke-width="0.45"/>
<circle cx="101.6" cy="176.4" r="2.3" fill="#2ccce0" stroke="#1f92a1" stroke-width="0.45"/>
<circle cx="106.2" cy="175.5" r="2.3" fill="#2adcaa" stroke="#1e9e7a" stroke-width="0.45"/>
<circle cx="109.8" cy="178.2" r="2.3" fill="#22da4c" stroke="#189c36" stroke-width="0.45"/>
<circle cx="104.4" cy="179.1" r="2.3" fill="#2adcaa" stroke="#1e9e7a" stroke-width="0.45"/>
<circle cx="117.1" cy="179.5" r="2.3" fill="#2adcaa" stroke="#1e9e7a" stroke-width="0.45"/>
<circle cx="121.6" cy="179.5" r="2.3" fill="#2adcaa" stroke="#1e9e7a" stroke-width="0.45"/>
<circle cx="95.3" cy="182.7" r="2.3" fill="#2a8ee8" stroke="#1e66a7" stroke-width="0.45"/>
<circle cx="99.8" cy="183.2" r="2.3" fill="#2a8ee8" stroke="#1e66a7" stroke-width="0.45"/>
<circle cx="105.3" cy="184.5" r="2.3" fill="#2ccce0" stroke="#1f92a1" stroke-width="0.45"/>
<circle cx="108.9" cy="185.5" r="2.3" fill="#22da4c" stroke="#189c36" stroke-width="0.45"/>
<circle cx="113.5" cy="185.5" r="2.3" fill="#22da4c" stroke="#189c36" stroke-width="0.45"/>
<circle cx="118.9" cy="183.6" r="2.3" fill="#22da4c" stroke="#189c36" stroke-width="0.45"/>
<circle cx="94.8" cy="189.1" r="2.3" fill="#2ccce0" stroke="#1f92a1" stroke-width="0.45"/>
<circle cx="98.9" cy="187.7" r="2.3" fill="#2adcaa" stroke="#1e9e7a" stroke-width="0.45"/>
<circle cx="108.9" cy="189.1" r="2.3" fill="#22da4c" stroke="#189c36" stroke-width="0.45"/>
<circle cx="114.4" cy="188.2" r="2.3" fill="#22da4c" stroke="#189c36" stroke-width="0.45"/>
<circle cx="106.2" cy="192.3" r="2.3" fill="#22da4c" stroke="#189c36" stroke-width="0.45"/>
<circle cx="111.6" cy="191.8" r="2.3" fill="#2ccce0" stroke="#1f92a1" stroke-width="0.45"/>
<circle cx="116.2" cy="190.9" r="2.3" fill="#22da4c" stroke="#189c36" stroke-width="0.45"/>
<circle cx="124.4" cy="190.9" r="2.3" fill="#22da4c" stroke="#189c36" stroke-width="0.45"/>
<circle cx="127.1" cy="193.6" r="2.3" fill="#2adcaa" stroke="#1e9e7a" stroke-width="0.45"/>
<circle cx="134.4" cy="186.8" r="2.3" fill="#22da4c" stroke="#189c36" stroke-width="0.45"/>
<circle cx="98.0" cy="196.4" r="2.3" fill="#2adcaa" stroke="#1e9e7a" stroke-width="0.45"/>
<circle cx="105.3" cy="197.3" r="2.3" fill="#2ccce0" stroke="#1f92a1" stroke-width="0.45"/>
<circle cx="110.7" cy="196.4" r="2.3" fill="#22da4c" stroke="#189c36" stroke-width="0.45"/>
<circle cx="115.3" cy="195.5" r="2.3" fill="#22da4c" stroke="#189c36" stroke-width="0.45"/>
<circle cx="120.7" cy="196.4" r="2.3" fill="#22da4c" stroke="#189c36" stroke-width="0.45"/>
<circle cx="125.3" cy="197.3" r="2.3" fill="#2adcaa" stroke="#1e9e7a" stroke-width="0.45"/>
<circle cx="93.5" cy="202.3" r="2.3" fill="#2ccce0" stroke="#1f92a1" stroke-width="0.45"/>
<circle cx="101.6" cy="200.9" r="2.3" fill="#2adcaa" stroke="#1e9e7a" stroke-width="0.45"/>
<circle cx="107.1" cy="200.9" r="2.3" fill="#2ccce0" stroke="#1f92a1" stroke-width="0.45"/>
<circle cx="111.6" cy="200.9" r="2.3" fill="#2adcaa" stroke="#1e9e7a" stroke-width="0.45"/>
<circle cx="115.3" cy="199.1" r="2.3" fill="#22da4c" stroke="#189c36" stroke-width="0.45"/>
<circle cx="119.8" cy="200.0" r="2.3" fill="#2adcaa" stroke="#1e9e7a" stroke-width="0.45"/>
<circle cx="118.9" cy="205.9" r="2.3" fill="#22da4c" stroke="#189c36" stroke-width="0.45"/>
<circle cx="105.3" cy="207.3" r="2.3" fill="#22da4c" stroke="#189c36" stroke-width="0.45"/>
<circle cx="95.7" cy="204.1" r="2.3" fill="#2ccce0" stroke="#1f92a1" stroke-width="0.45"/>
<circle cx="105.3" cy="207.8" r="2.3" fill="#2adcaa" stroke="#1e9e7a" stroke-width="0.45"/>
<circle cx="119.4" cy="206.9" r="2.3" fill="#22da4c" stroke="#189c36" stroke-width="0.45"/>
<circle cx="98.0" cy="216.5" r="2.3" fill="#22da4c" stroke="#189c36" stroke-width="0.45"/>
<circle cx="102.5" cy="215.5" r="2.3" fill="#22da4c" stroke="#189c36" stroke-width="0.45"/>
<circle cx="107.1" cy="214.2" r="2.3" fill="#22da4c" stroke="#189c36" stroke-width="0.45"/>
<circle cx="109.8" cy="212.4" r="2.3" fill="#22da4c" stroke="#189c36" stroke-width="0.45"/>
<circle cx="113.5" cy="211.9" r="2.3" fill="#22da4c" stroke="#189c36" stroke-width="0.45"/>
<circle cx="105.3" cy="218.7" r="2.3" fill="#22da4c" stroke="#189c36" stroke-width="0.45"/>
<circle cx="108.9" cy="217.8" r="2.3" fill="#22da4c" stroke="#189c36" stroke-width="0.45"/>
<circle cx="111.6" cy="219.6" r="2.3" fill="#22da4c" stroke="#189c36" stroke-width="0.45"/>
<circle cx="118.5" cy="214.6" r="2.3" fill="#22da4c" stroke="#189c36" stroke-width="0.45"/>
<circle cx="106.2" cy="221.5" r="2.3" fill="#22da4c" stroke="#189c36" stroke-width="0.45"/>
<circle cx="112.5" cy="224.2" r="2.3" fill="#22da4c" stroke="#189c36" stroke-width="0.45"/>
<circle cx="117.1" cy="223.3" r="2.3" fill="#22da4c" stroke="#189c36" stroke-width="0.45"/>
<circle cx="124.4" cy="222.8" r="2.3" fill="#2adcaa" stroke="#1e9e7a" stroke-width="0.45"/>
<circle cx="102.5" cy="225.1" r="2.3" fill="#22da4c" stroke="#189c36" stroke-width="0.45"/>
<circle cx="99.4" cy="227.8" r="2.3" fill="#22da4c" stroke="#189c36" stroke-width="0.45"/>
<circle cx="101.6" cy="232.4" r="2.3" fill="#22da4c" stroke="#189c36" stroke-width="0.45"/>
<circle cx="105.7" cy="231.5" r="2.3" fill="#22da4c" stroke="#189c36" stroke-width="0.45"/>
<circle cx="118.5" cy="230.1" r="2.3" fill="#22da4c" stroke="#189c36" stroke-width="0.45"/>
<circle cx="111.2" cy="233.7" r="2.3" fill="#22da4c" stroke="#189c36" stroke-width="0.45"/>
<circle cx="108.9" cy="236.9" r="2.3" fill="#22da4c" stroke="#189c36" stroke-width="0.45"/>
<circle cx="127.1" cy="236.0" r="2.3" fill="#22da4c" stroke="#189c36" stroke-width="0.45"/>
<circle cx="102.5" cy="237.8" r="2.3" fill="#a8e828" stroke="#78a71c" stroke-width="0.45"/>
<circle cx="119.8" cy="239.2" r="2.3" fill="#22da4c" stroke="#189c36" stroke-width="0.45"/>
<circle cx="112.5" cy="239.6" r="2.3" fill="#22da4c" stroke="#189c36" stroke-width="0.45"/>
<circle cx="93.5" cy="244.2" r="2.3" fill="#ece020" stroke="#a9a117" stroke-width="0.45"/>
<circle cx="100.7" cy="243.3" r="2.3" fill="#22da4c" stroke="#189c36" stroke-width="0.45"/>
<circle cx="106.2" cy="242.4" r="2.3" fill="#22da4c" stroke="#189c36" stroke-width="0.45"/>
<circle cx="114.4" cy="241.9" r="2.3" fill="#22da4c" stroke="#189c36" stroke-width="0.45"/>
<circle cx="109.8" cy="245.1" r="2.3" fill="#22da4c" stroke="#189c36" stroke-width="0.45"/>
<circle cx="93.0" cy="244.7" r="2.3" fill="#ece020" stroke="#a9a117" stroke-width="0.45"/>
<circle cx="96.2" cy="249.3" r="2.3" fill="#ece020" stroke="#a9a117" stroke-width="0.45"/>
<circle cx="98.0" cy="247.5" r="2.3" fill="#a8e828" stroke="#78a71c" stroke-width="0.45"/>
<circle cx="99.8" cy="244.7" r="2.3" fill="#22da4c" stroke="#189c36" stroke-width="0.45"/>
<circle cx="104.4" cy="243.8" r="2.3" fill="#22da4c" stroke="#189c36" stroke-width="0.45"/>
<circle cx="109.8" cy="243.8" r="2.3" fill="#22da4c" stroke="#189c36" stroke-width="0.45"/>
<circle cx="113.9" cy="242.9" r="2.3" fill="#22da4c" stroke="#189c36" stroke-width="0.45"/>
<circle cx="101.6" cy="248.4" r="2.3" fill="#22da4c" stroke="#189c36" stroke-width="0.45"/>
<circle cx="103.5" cy="251.1" r="2.3" fill="#22da4c" stroke="#189c36" stroke-width="0.45"/>
<circle cx="100.7" cy="254.7" r="2.3" fill="#a8e828" stroke="#78a71c" stroke-width="0.45"/>
<circle cx="105.7" cy="253.8" r="2.3" fill="#2ccce0" stroke="#1f92a1" stroke-width="0.45"/>
<circle cx="113.5" cy="253.4" r="2.3" fill="#a8e828" stroke="#78a71c" stroke-width="0.45"/>
<circle cx="117.1" cy="255.6" r="2.3" fill="#22da4c" stroke="#189c36" stroke-width="0.45"/>
<circle cx="121.6" cy="249.3" r="2.3" fill="#22da4c" stroke="#189c36" stroke-width="0.45"/>
<circle cx="107.1" cy="258.4" r="2.3" fill="#2ccce0" stroke="#1f92a1" stroke-width="0.45"/>
<circle cx="102.5" cy="259.3" r="2.3" fill="#2ccce0" stroke="#1f92a1" stroke-width="0.45"/>
<circle cx="112.5" cy="257.5" r="2.3" fill="#2adcaa" stroke="#1e9e7a" stroke-width="0.45"/>
<circle cx="118.9" cy="259.7" r="2.3" fill="#2ccce0" stroke="#1f92a1" stroke-width="0.45"/>
<circle cx="98.0" cy="261.5" r="2.3" fill="#22da4c" stroke="#189c36" stroke-width="0.45"/>
<circle cx="101.6" cy="262.9" r="2.3" fill="#22da4c" stroke="#189c36" stroke-width="0.45"/>
<circle cx="107.1" cy="262.9" r="2.3" fill="#22da4c" stroke="#189c36" stroke-width="0.45"/>
<circle cx="111.6" cy="262.0" r="2.3" fill="#22da4c" stroke="#189c36" stroke-width="0.45"/>
<circle cx="118.9" cy="266.5" r="2.3" fill="#22da4c" stroke="#189c36" stroke-width="0.45"/>
<circle cx="102.5" cy="268.4" r="2.3" fill="#22da4c" stroke="#189c36" stroke-width="0.45"/>
<circle cx="108.9" cy="269.3" r="2.3" fill="#22da4c" stroke="#189c36" stroke-width="0.45"/>
<circle cx="112.5" cy="271.1" r="2.3" fill="#22da4c" stroke="#189c36" stroke-width="0.45"/>
<circle cx="103.5" cy="272.9" r="2.3" fill="#22da4c" stroke="#189c36" stroke-width="0.45"/>
<circle cx="108.0" cy="273.8" r="2.3" fill="#22da4c" stroke="#189c36" stroke-width="0.45"/>
<circle cx="114.4" cy="273.4" r="2.3" fill="#22da4c" stroke="#189c36" stroke-width="0.45"/>
<circle cx="94.8" cy="277.0" r="2.3" fill="#2a8ee8" stroke="#1e66a7" stroke-width="0.45"/>
<circle cx="102.5" cy="277.0" r="2.3" fill="#22da4c" stroke="#189c36" stroke-width="0.45"/>
<circle cx="101.6" cy="281.1" r="2.3" fill="#2ccce0" stroke="#1f92a1" stroke-width="0.45"/>
<circle cx="102.5" cy="280.7" r="2.3" fill="#2ccce0" stroke="#1f92a1" stroke-width="0.45"/>
<circle cx="91.2" cy="293.5" r="2.3" fill="#1434dc" stroke="#0e259e" stroke-width="0.45"/>
<circle cx="94.4" cy="292.1" r="2.3" fill="#2ccce0" stroke="#1f92a1" stroke-width="0.45"/>
<circle cx="98.9" cy="289.4" r="2.3" fill="#22da4c" stroke="#189c36" stroke-width="0.45"/>
<circle cx="103.0" cy="290.7" r="2.3" fill="#22da4c" stroke="#189c36" stroke-width="0.45"/>
<circle cx="98.0" cy="293.9" r="2.3" fill="#22da4c" stroke="#189c36" stroke-width="0.45"/>
<circle cx="95.3" cy="295.3" r="2.3" fill="#ece020" stroke="#a9a117" stroke-width="0.45"/>
<circle cx="101.6" cy="295.3" r="2.3" fill="#22da4c" stroke="#189c36" stroke-width="0.45"/>
<circle cx="105.7" cy="294.4" r="2.3" fill="#22da4c" stroke="#189c36" stroke-width="0.45"/>
<circle cx="110.3" cy="296.2" r="2.3" fill="#22da4c" stroke="#189c36" stroke-width="0.45"/>
<circle cx="92.1" cy="299.8" r="2.3" fill="#ff2010" stroke="#b7170b" stroke-width="0.45"/>
<circle cx="95.3" cy="298.0" r="2.3" fill="#ece020" stroke="#a9a117" stroke-width="0.45"/>
<circle cx="98.0" cy="299.8" r="2.3" fill="#a8e828" stroke="#78a71c" stroke-width="0.45"/>
<circle cx="101.6" cy="298.9" r="2.3" fill="#22da4c" stroke="#189c36" stroke-width="0.45"/>
<circle cx="93.5" cy="303.5" r="2.3" fill="#ff9a10" stroke="#b76e0b" stroke-width="0.45"/>
<circle cx="97.1" cy="302.5" r="2.3" fill="#ff9a10" stroke="#b76e0b" stroke-width="0.45"/>
<circle cx="100.7" cy="302.5" r="2.3" fill="#22da4c" stroke="#189c36" stroke-width="0.45"/>
<circle cx="104.8" cy="302.5" r="2.3" fill="#a8e828" stroke="#78a71c" stroke-width="0.45"/>
<circle cx="93.5" cy="306.2" r="2.3" fill="#ff9a10" stroke="#b76e0b" stroke-width="0.45"/>
<circle cx="98.0" cy="307.1" r="2.3" fill="#22da4c" stroke="#189c36" stroke-width="0.45"/>
<circle cx="102.5" cy="305.3" r="2.3" fill="#22da4c" stroke="#189c36" stroke-width="0.45"/>
<circle cx="106.2" cy="307.1" r="2.3" fill="#22da4c" stroke="#189c36" stroke-width="0.45"/>
<circle cx="99.8" cy="308.9" r="2.3" fill="#22da4c" stroke="#189c36" stroke-width="0.45"/>
<circle cx="102.5" cy="310.7" r="2.3" fill="#2ccce0" stroke="#1f92a1" stroke-width="0.45"/>
<circle cx="112.1" cy="310.3" r="2.3" fill="#2ccce0" stroke="#1f92a1" stroke-width="0.45"/>
<circle cx="118.0" cy="309.4" r="2.3" fill="#22da4c" stroke="#189c36" stroke-width="0.45"/>
<circle cx="98.0" cy="317.1" r="2.3" fill="#22da4c" stroke="#189c36" stroke-width="0.45"/>
<circle cx="102.5" cy="317.1" r="2.3" fill="#a8e828" stroke="#78a71c" stroke-width="0.45"/>
<circle cx="118.0" cy="317.1" r="2.3" fill="#22da4c" stroke="#189c36" stroke-width="0.45"/>
<circle cx="98.0" cy="317.6" r="2.3" fill="#22da4c" stroke="#189c36" stroke-width="0.45"/>
<circle cx="101.2" cy="318.5" r="2.3" fill="#a8e828" stroke="#78a71c" stroke-width="0.45"/>
<circle cx="99.8" cy="321.3" r="2.3" fill="#ff9a10" stroke="#b76e0b" stroke-width="0.45"/>
<circle cx="104.4" cy="319.5" r="2.3" fill="#22da4c" stroke="#189c36" stroke-width="0.45"/>
<circle cx="106.2" cy="321.7" r="2.3" fill="#a8e828" stroke="#78a71c" stroke-width="0.45"/>
<circle cx="102.5" cy="324.0" r="2.3" fill="#22da4c" stroke="#189c36" stroke-width="0.45"/>
<circle cx="97.5" cy="327.2" r="2.3" fill="#ece020" stroke="#a9a117" stroke-width="0.45"/>
<circle cx="101.2" cy="325.8" r="2.3" fill="#22da4c" stroke="#189c36" stroke-width="0.45"/>
<circle cx="108.5" cy="328.1" r="2.3" fill="#22da4c" stroke="#189c36" stroke-width="0.45"/>
<circle cx="114.4" cy="319.5" r="2.3" fill="#2ccce0" stroke="#1f92a1" stroke-width="0.45"/>
<circle cx="113.0" cy="322.2" r="2.3" fill="#2ccce0" stroke="#1f92a1" stroke-width="0.45"/>
<circle cx="118.5" cy="318.1" r="2.3" fill="#22da4c" stroke="#189c36" stroke-width="0.45"/>
<circle cx="118.9" cy="324.9" r="2.3" fill="#22da4c" stroke="#189c36" stroke-width="0.45"/>
<circle cx="101.6" cy="333.5" r="2.3" fill="#a8e828" stroke="#78a71c" stroke-width="0.45"/>
<circle cx="104.4" cy="335.8" r="2.3" fill="#22da4c" stroke="#189c36" stroke-width="0.45"/>
<circle cx="101.6" cy="337.6" r="2.3" fill="#22da4c" stroke="#189c36" stroke-width="0.45"/>
<circle cx="115.3" cy="332.2" r="2.3" fill="#a8e828" stroke="#78a71c" stroke-width="0.45"/>
<circle cx="118.0" cy="331.7" r="2.3" fill="#a8e828" stroke="#78a71c" stroke-width="0.45"/>
<circle cx="103.5" cy="341.3" r="2.3" fill="#22da4c" stroke="#189c36" stroke-width="0.45"/>
<circle cx="106.2" cy="344.9" r="2.3" fill="#2ccce0" stroke="#1f92a1" stroke-width="0.45"/>
<circle cx="109.8" cy="342.2" r="2.3" fill="#2ccce0" stroke="#1f92a1" stroke-width="0.45"/>
<circle cx="103.5" cy="343.1" r="2.3" fill="#a8e828" stroke="#78a71c" stroke-width="0.45"/>
<circle cx="120.7" cy="339.9" r="2.3" fill="#22da4c" stroke="#189c36" stroke-width="0.45"/>
<circle cx="119.4" cy="342.2" r="2.3" fill="#22da4c" stroke="#189c36" stroke-width="0.45"/>
<circle cx="124.8" cy="345.8" r="2.3" fill="#a8e828" stroke="#78a71c" stroke-width="0.45"/>
<circle cx="115.3" cy="349.0" r="2.3" fill="#22da4c" stroke="#189c36" stroke-width="0.45"/>
<circle cx="99.8" cy="351.3" r="2.3" fill="#22da4c" stroke="#189c36" stroke-width="0.45"/>
<circle cx="106.2" cy="353.1" r="2.3" fill="#22da4c" stroke="#189c36" stroke-width="0.45"/>
<circle cx="109.8" cy="353.1" r="2.3" fill="#22da4c" stroke="#189c36" stroke-width="0.45"/>
<circle cx="99.8" cy="351.8" r="2.3" fill="#22da4c" stroke="#189c36" stroke-width="0.45"/>
<circle cx="99.8" cy="355.5" r="2.3" fill="#2ccce0" stroke="#1f92a1" stroke-width="0.45"/>
<circle cx="105.3" cy="354.5" r="2.3" fill="#22da4c" stroke="#189c36" stroke-width="0.45"/>
<circle cx="109.8" cy="353.6" r="2.3" fill="#a8e828" stroke="#78a71c" stroke-width="0.45"/>
<circle cx="115.3" cy="350.5" r="2.3" fill="#22da4c" stroke="#189c36" stroke-width="0.45"/>
<circle cx="104.4" cy="358.2" r="2.3" fill="#a8e828" stroke="#78a71c" stroke-width="0.45"/>
<circle cx="98.9" cy="360.0" r="2.3" fill="#22da4c" stroke="#189c36" stroke-width="0.45"/>
<circle cx="103.5" cy="361.8" r="2.3" fill="#22da4c" stroke="#189c36" stroke-width="0.45"/>
<circle cx="108.0" cy="360.0" r="2.3" fill="#22da4c" stroke="#189c36" stroke-width="0.45"/>
<circle cx="113.5" cy="360.0" r="2.3" fill="#22da4c" stroke="#189c36" stroke-width="0.45"/>
<circle cx="117.1" cy="361.8" r="2.3" fill="#22da4c" stroke="#189c36" stroke-width="0.45"/>
<circle cx="100.7" cy="365.5" r="2.3" fill="#22da4c" stroke="#189c36" stroke-width="0.45"/>
<circle cx="106.2" cy="364.5" r="2.3" fill="#2ccce0" stroke="#1f92a1" stroke-width="0.45"/>
<circle cx="109.8" cy="365.5" r="2.3" fill="#22da4c" stroke="#189c36" stroke-width="0.45"/>
<circle cx="97.5" cy="367.7" r="2.3" fill="#ece020" stroke="#a9a117" stroke-width="0.45"/>
<circle cx="102.5" cy="368.2" r="2.3" fill="#22da4c" stroke="#189c36" stroke-width="0.45"/>
<circle cx="107.1" cy="369.1" r="2.3" fill="#22da4c" stroke="#189c36" stroke-width="0.45"/>
<circle cx="114.4" cy="368.2" r="2.3" fill="#22da4c" stroke="#189c36" stroke-width="0.45"/>
<circle cx="118.0" cy="369.1" r="2.3" fill="#22da4c" stroke="#189c36" stroke-width="0.45"/>
<circle cx="122.5" cy="370.0" r="2.3" fill="#22da4c" stroke="#189c36" stroke-width="0.45"/>
<circle cx="96.2" cy="373.6" r="2.3" fill="#a8e828" stroke="#78a71c" stroke-width="0.45"/>
<circle cx="99.8" cy="372.7" r="2.3" fill="#2ccce0" stroke="#1f92a1" stroke-width="0.45"/>
<circle cx="105.3" cy="371.8" r="2.3" fill="#22da4c" stroke="#189c36" stroke-width="0.45"/>
<circle cx="109.8" cy="374.5" r="2.3" fill="#22da4c" stroke="#189c36" stroke-width="0.45"/>
<circle cx="120.7" cy="373.6" r="2.3" fill="#2ccce0" stroke="#1f92a1" stroke-width="0.45"/>
<circle cx="101.6" cy="377.3" r="2.3" fill="#a8e828" stroke="#78a71c" stroke-width="0.45"/>
<circle cx="103.5" cy="380.9" r="2.3" fill="#22da4c" stroke="#189c36" stroke-width="0.45"/>
<circle cx="113.5" cy="379.1" r="2.3" fill="#22da4c" stroke="#189c36" stroke-width="0.45"/>
<circle cx="99.8" cy="382.7" r="2.3" fill="#a8e828" stroke="#78a71c" stroke-width="0.45"/>
<circle cx="107.1" cy="384.5" r="2.3" fill="#22da4c" stroke="#189c36" stroke-width="0.45"/>
<circle cx="110.7" cy="382.7" r="2.3" fill="#2ccce0" stroke="#1f92a1" stroke-width="0.45"/>
<circle cx="96.2" cy="388.2" r="2.3" fill="#22da4c" stroke="#189c36" stroke-width="0.45"/>
<circle cx="100.7" cy="389.1" r="2.3" fill="#ece020" stroke="#a9a117" stroke-width="0.45"/>
<circle cx="106.2" cy="388.2" r="2.3" fill="#22da4c" stroke="#189c36" stroke-width="0.45"/>
<circle cx="112.5" cy="387.7" r="2.3" fill="#22da4c" stroke="#189c36" stroke-width="0.45"/>
<circle cx="116.2" cy="387.3" r="2.3" fill="#22da4c" stroke="#189c36" stroke-width="0.45"/>
<circle cx="96.2" cy="388.7" r="2.3" fill="#22da4c" stroke="#189c36" stroke-width="0.45"/>
<circle cx="99.8" cy="390.1" r="2.3" fill="#ece020" stroke="#a9a117" stroke-width="0.45"/>
<circle cx="102.5" cy="387.8" r="2.3" fill="#22da4c" stroke="#189c36" stroke-width="0.45"/>
<circle cx="108.9" cy="387.8" r="2.3" fill="#22da4c" stroke="#189c36" stroke-width="0.45"/>
<circle cx="114.4" cy="389.6" r="2.3" fill="#22da4c" stroke="#189c36" stroke-width="0.45"/>
<circle cx="117.1" cy="388.3" r="2.3" fill="#22da4c" stroke="#189c36" stroke-width="0.45"/>
<circle cx="103.9" cy="393.3" r="2.3" fill="#22da4c" stroke="#189c36" stroke-width="0.45"/>
<circle cx="108.9" cy="392.4" r="2.3" fill="#2ccce0" stroke="#1f92a1" stroke-width="0.45"/>
<circle cx="112.5" cy="391.5" r="2.3" fill="#22da4c" stroke="#189c36" stroke-width="0.45"/>
<circle cx="98.0" cy="396.5" r="2.3" fill="#22da4c" stroke="#189c36" stroke-width="0.45"/>
<circle cx="105.3" cy="396.9" r="2.3" fill="#22da4c" stroke="#189c36" stroke-width="0.45"/>
<circle cx="109.8" cy="397.8" r="2.3" fill="#22da4c" stroke="#189c36" stroke-width="0.45"/>
<circle cx="114.4" cy="397.8" r="2.3" fill="#2adcaa" stroke="#1e9e7a" stroke-width="0.45"/>
<circle cx="118.0" cy="400.5" r="2.3" fill="#2adcaa" stroke="#1e9e7a" stroke-width="0.45"/>
<circle cx="104.4" cy="401.5" r="2.3" fill="#22da4c" stroke="#189c36" stroke-width="0.45"/>
<circle cx="109.8" cy="402.4" r="2.3" fill="#2ccce0" stroke="#1f92a1" stroke-width="0.45"/>
<circle cx="115.3" cy="403.3" r="2.3" fill="#22da4c" stroke="#189c36" stroke-width="0.45"/>
<circle cx="118.9" cy="403.3" r="2.3" fill="#22da4c" stroke="#189c36" stroke-width="0.45"/>
<circle cx="101.6" cy="405.5" r="2.3" fill="#a8e828" stroke="#78a71c" stroke-width="0.45"/>
<circle cx="107.1" cy="405.5" r="2.3" fill="#22da4c" stroke="#189c36" stroke-width="0.45"/>
<circle cx="113.5" cy="406.9" r="2.3" fill="#22da4c" stroke="#189c36" stroke-width="0.45"/>
<circle cx="116.2" cy="407.8" r="2.3" fill="#22da4c" stroke="#189c36" stroke-width="0.45"/>
<circle cx="106.2" cy="409.6" r="2.3" fill="#22da4c" stroke="#189c36" stroke-width="0.45"/>
<circle cx="110.7" cy="408.7" r="2.3" fill="#22da4c" stroke="#189c36" stroke-width="0.45"/>
<circle cx="110.7" cy="412.4" r="2.3" fill="#a8e828" stroke="#78a71c" stroke-width="0.45"/>
<circle cx="107.1" cy="415.1" r="2.3" fill="#2ccce0" stroke="#1f92a1" stroke-width="0.45"/>
<circle cx="97.1" cy="413.3" r="2.3" fill="#22da4c" stroke="#189c36" stroke-width="0.45"/>
<circle cx="100.7" cy="415.1" r="2.3" fill="#22da4c" stroke="#189c36" stroke-width="0.45"/>
<circle cx="96.2" cy="416.5" r="2.3" fill="#22da4c" stroke="#189c36" stroke-width="0.45"/>
<circle cx="104.4" cy="417.8" r="2.3" fill="#22da4c" stroke="#189c36" stroke-width="0.45"/>
<circle cx="108.0" cy="419.6" r="2.3" fill="#22da4c" stroke="#189c36" stroke-width="0.45"/>
<circle cx="112.5" cy="418.3" r="2.3" fill="#22da4c" stroke="#189c36" stroke-width="0.45"/>
<circle cx="118.9" cy="416.9" r="2.3" fill="#22da4c" stroke="#189c36" stroke-width="0.45"/>
<circle cx="115.3" cy="420.5" r="2.3" fill="#22da4c" stroke="#189c36" stroke-width="0.45"/>
<circle cx="118.0" cy="423.3" r="2.3" fill="#22da4c" stroke="#189c36" stroke-width="0.45"/>
<circle cx="99.8" cy="423.7" r="2.3" fill="#2ccce0" stroke="#1f92a1" stroke-width="0.45"/>
<circle cx="104.4" cy="423.3" r="2.3" fill="#22da4c" stroke="#189c36" stroke-width="0.45"/>
<circle cx="109.8" cy="424.2" r="2.3" fill="#22da4c" stroke="#189c36" stroke-width="0.45"/>
<circle cx="99.8" cy="424.7" r="2.3" fill="#2ccce0" stroke="#1f92a1" stroke-width="0.45"/>
<circle cx="103.5" cy="423.8" r="2.3" fill="#22da4c" stroke="#189c36" stroke-width="0.45"/>
<circle cx="107.1" cy="425.6" r="2.3" fill="#22da4c" stroke="#189c36" stroke-width="0.45"/>
<circle cx="110.7" cy="424.7" r="2.3" fill="#22da4c" stroke="#189c36" stroke-width="0.45"/>
<circle cx="114.4" cy="423.8" r="2.3" fill="#22da4c" stroke="#189c36" stroke-width="0.45"/>
<circle cx="104.4" cy="429.3" r="2.3" fill="#22da4c" stroke="#189c36" stroke-width="0.45"/>
<circle cx="108.9" cy="430.2" r="2.3" fill="#22da4c" stroke="#189c36" stroke-width="0.45"/>
<circle cx="113.5" cy="429.3" r="2.3" fill="#22da4c" stroke="#189c36" stroke-width="0.45"/>
<circle cx="104.4" cy="431.1" r="2.3" fill="#22da4c" stroke="#189c36" stroke-width="0.45"/>
<circle cx="112.5" cy="433.8" r="2.3" fill="#22da4c" stroke="#189c36" stroke-width="0.45"/>
<circle cx="96.2" cy="433.4" r="2.3" fill="#2ccce0" stroke="#1f92a1" stroke-width="0.45"/>
<circle cx="98.0" cy="434.7" r="2.3" fill="#2ccce0" stroke="#1f92a1" stroke-width="0.45"/>
<circle cx="98.0" cy="438.8" r="2.3" fill="#a8e828" stroke="#78a71c" stroke-width="0.45"/>
<circle cx="101.2" cy="442.5" r="2.3" fill="#2adcaa" stroke="#1e9e7a" stroke-width="0.45"/>
<circle cx="98.9" cy="447.0" r="2.3" fill="#2adcaa" stroke="#1e9e7a" stroke-width="0.45"/>
<circle cx="102.5" cy="449.3" r="2.3" fill="#22da4c" stroke="#189c36" stroke-width="0.45"/>
<circle cx="118.0" cy="447.9" r="2.3" fill="#22da4c" stroke="#189c36" stroke-width="0.45"/>
<circle cx="97.5" cy="461.5" r="2.3" fill="#2adcaa" stroke="#1e9e7a" stroke-width="0.45"/>
<circle cx="100.7" cy="463.8" r="2.3" fill="#2adcaa" stroke="#1e9e7a" stroke-width="0.45"/>
</g>
<clipPath id="cp2"><rect x="142.2" y="27.7" width="44.80000000000001" height="436"/></clipPath><g clip-path="url(#cp2)">
<circle cx="143.3" cy="28.7" r="2.2" fill="#1434dc" stroke="#0e259e" stroke-width="0.45"/>
<circle cx="143.1" cy="91.5" r="2.2" fill="#1434dc" stroke="#0e259e" stroke-width="0.45"/>
<circle cx="143.1" cy="92.7" r="2.2" fill="#1434dc" stroke="#0e259e" stroke-width="0.45"/>
<circle cx="143.1" cy="94.7" r="2.2" fill="#1434dc" stroke="#0e259e" stroke-width="0.45"/>
<circle cx="144.7" cy="118.7" r="2.2" fill="#2a8ee8" stroke="#1e66a7" stroke-width="0.45"/>
<circle cx="143.1" cy="136.1" r="2.2" fill="#1434dc" stroke="#0e259e" stroke-width="0.45"/>
<circle cx="144.0" cy="148.8" r="2.2" fill="#2a8ee8" stroke="#1e66a7" stroke-width="0.45"/>
<circle cx="142.7" cy="150.8" r="2.2" fill="#1434dc" stroke="#0e259e" stroke-width="0.45"/>
<circle cx="148.0" cy="155.2" r="2.2" fill="#2ccce0" stroke="#1f92a1" stroke-width="0.45"/>
<circle cx="143.1" cy="158.2" r="2.2" fill="#1434dc" stroke="#0e259e" stroke-width="0.45"/>
<circle cx="148.0" cy="155.7" r="2.2" fill="#2ccce0" stroke="#1f92a1" stroke-width="0.45"/>
<circle cx="143.1" cy="159.0" r="2.2" fill="#1434dc" stroke="#0e259e" stroke-width="0.45"/>
<circle cx="143.3" cy="165.7" r="2.2" fill="#1434dc" stroke="#0e259e" stroke-width="0.45"/>
<circle cx="144.7" cy="169.0" r="2.2" fill="#2a8ee8" stroke="#1e66a7" stroke-width="0.45"/>
<circle cx="147.4" cy="169.0" r="2.2" fill="#2a8ee8" stroke="#1e66a7" stroke-width="0.45"/>
<circle cx="143.1" cy="175.7" r="2.2" fill="#1434dc" stroke="#0e259e" stroke-width="0.45"/>
<circle cx="156.7" cy="175.7" r="2.2" fill="#2ccce0" stroke="#1f92a1" stroke-width="0.45"/>
<circle cx="165.4" cy="167.0" r="2.2" fill="#22da4c" stroke="#189c36" stroke-width="0.45"/>
<circle cx="176.1" cy="174.8" r="2.2" fill="#ece020" stroke="#a9a117" stroke-width="0.45"/>
<circle cx="143.1" cy="185.7" r="2.2" fill="#1434dc" stroke="#0e259e" stroke-width="0.45"/>
<circle cx="143.3" cy="189.8" r="2.2" fill="#1434dc" stroke="#0e259e" stroke-width="0.45"/>
<circle cx="155.4" cy="189.5" r="2.2" fill="#2ccce0" stroke="#1f92a1" stroke-width="0.45"/>
<circle cx="167.4" cy="188.4" r="2.2" fill="#22da4c" stroke="#189c36" stroke-width="0.45"/>
<circle cx="149.4" cy="195.1" r="2.2" fill="#2a8ee8" stroke="#1e66a7" stroke-width="0.45"/>
<circle cx="143.3" cy="201.8" r="2.2" fill="#1434dc" stroke="#0e259e" stroke-width="0.45"/>
<circle cx="145.4" cy="205.8" r="2.2" fill="#2a8ee8" stroke="#1e66a7" stroke-width="0.45"/>
<circle cx="155.4" cy="201.8" r="2.2" fill="#2ccce0" stroke="#1f92a1" stroke-width="0.45"/>
<circle cx="144.0" cy="215.2" r="2.2" fill="#2a8ee8" stroke="#1e66a7" stroke-width="0.45"/>
<circle cx="150.7" cy="215.4" r="2.2" fill="#2ccce0" stroke="#1f92a1" stroke-width="0.45"/>
<circle cx="143.1" cy="220.5" r="2.2" fill="#1434dc" stroke="#0e259e" stroke-width="0.45"/>
<circle cx="147.4" cy="224.5" r="2.2" fill="#2ccce0" stroke="#1f92a1" stroke-width="0.45"/>
<circle cx="150.7" cy="223.9" r="2.2" fill="#2ccce0" stroke="#1f92a1" stroke-width="0.45"/>
<circle cx="158.1" cy="224.5" r="2.2" fill="#2adcaa" stroke="#1e9e7a" stroke-width="0.45"/>
<circle cx="143.1" cy="220.7" r="2.2" fill="#1434dc" stroke="#0e259e" stroke-width="0.45"/>
<circle cx="146.7" cy="225.3" r="2.2" fill="#2a8ee8" stroke="#1e66a7" stroke-width="0.45"/>
<circle cx="150.7" cy="224.0" r="2.2" fill="#2ccce0" stroke="#1f92a1" stroke-width="0.45"/>
<circle cx="154.7" cy="226.0" r="2.2" fill="#2ccce0" stroke="#1f92a1" stroke-width="0.45"/>
<circle cx="160.1" cy="226.0" r="2.2" fill="#2adcaa" stroke="#1e9e7a" stroke-width="0.45"/>
<circle cx="144.0" cy="230.0" r="2.2" fill="#1434dc" stroke="#0e259e" stroke-width="0.45"/>
<circle cx="146.7" cy="233.4" r="2.2" fill="#2a8ee8" stroke="#1e66a7" stroke-width="0.45"/>
<circle cx="151.4" cy="230.0" r="2.2" fill="#2ccce0" stroke="#1f92a1" stroke-width="0.45"/>
<circle cx="159.4" cy="235.4" r="2.2" fill="#2adcaa" stroke="#1e9e7a" stroke-width="0.45"/>
<circle cx="176.8" cy="234.7" r="2.2" fill="#ece020" stroke="#a9a117" stroke-width="0.45"/>
<circle cx="143.1" cy="238.7" r="2.2" fill="#1434dc" stroke="#0e259e" stroke-width="0.45"/>
<circle cx="148.0" cy="241.4" r="2.2" fill="#2a8ee8" stroke="#1e66a7" stroke-width="0.45"/>
<circle cx="143.1" cy="245.4" r="2.2" fill="#1434dc" stroke="#0e259e" stroke-width="0.45"/>
<circle cx="147.4" cy="251.4" r="2.2" fill="#2a8ee8" stroke="#1e66a7" stroke-width="0.45"/>
<circle cx="146.0" cy="254.8" r="2.2" fill="#2a8ee8" stroke="#1e66a7" stroke-width="0.45"/>
<circle cx="143.1" cy="258.8" r="2.2" fill="#1434dc" stroke="#0e259e" stroke-width="0.45"/>
<circle cx="149.4" cy="258.1" r="2.2" fill="#2a8ee8" stroke="#1e66a7" stroke-width="0.45"/>
<circle cx="148.7" cy="262.8" r="2.2" fill="#2a8ee8" stroke="#1e66a7" stroke-width="0.45"/>
<circle cx="144.7" cy="264.8" r="2.2" fill="#2a8ee8" stroke="#1e66a7" stroke-width="0.45"/>
<circle cx="143.1" cy="270.8" r="2.2" fill="#1434dc" stroke="#0e259e" stroke-width="0.45"/>
<circle cx="151.4" cy="270.1" r="2.2" fill="#2ccce0" stroke="#1f92a1" stroke-width="0.45"/>
<circle cx="154.0" cy="270.8" r="2.2" fill="#2ccce0" stroke="#1f92a1" stroke-width="0.45"/>
<circle cx="158.1" cy="270.8" r="2.2" fill="#2adcaa" stroke="#1e9e7a" stroke-width="0.45"/>
<circle cx="163.4" cy="266.8" r="2.2" fill="#22da4c" stroke="#189c36" stroke-width="0.45"/>
<circle cx="176.1" cy="267.5" r="2.2" fill="#ece020" stroke="#a9a117" stroke-width="0.45"/>
<circle cx="176.1" cy="272.8" r="2.2" fill="#ece020" stroke="#a9a117" stroke-width="0.45"/>
<circle cx="185.5" cy="255.4" r="2.2" fill="#ff2010" stroke="#b7170b" stroke-width="0.45"/>
<circle cx="143.1" cy="278.8" r="2.2" fill="#1434dc" stroke="#0e259e" stroke-width="0.45"/>
<circle cx="148.7" cy="278.8" r="2.2" fill="#2ccce0" stroke="#1f92a1" stroke-width="0.45"/>
<circle cx="143.1" cy="288.9" r="2.2" fill="#1434dc" stroke="#0e259e" stroke-width="0.45"/>
<circle cx="144.0" cy="290.3" r="2.2" fill="#1434dc" stroke="#0e259e" stroke-width="0.45"/>
<circle cx="146.0" cy="303.7" r="2.2" fill="#2a8ee8" stroke="#1e66a7" stroke-width="0.45"/>
<circle cx="150.0" cy="320.8" r="2.2" fill="#2ccce0" stroke="#1f92a1" stroke-width="0.45"/>
<circle cx="143.6" cy="324.4" r="2.2" fill="#1434dc" stroke="#0e259e" stroke-width="0.45"/>
<circle cx="145.0" cy="328.4" r="2.2" fill="#2a8ee8" stroke="#1e66a7" stroke-width="0.45"/>
<circle cx="148.0" cy="334.7" r="2.2" fill="#2a8ee8" stroke="#1e66a7" stroke-width="0.45"/>
<circle cx="145.4" cy="345.4" r="2.2" fill="#2a8ee8" stroke="#1e66a7" stroke-width="0.45"/>
<circle cx="147.4" cy="381.4" r="2.2" fill="#2a8ee8" stroke="#1e66a7" stroke-width="0.45"/>
<circle cx="148.7" cy="380.1" r="2.2" fill="#2a8ee8" stroke="#1e66a7" stroke-width="0.45"/>
<circle cx="156.7" cy="385.0" r="2.2" fill="#2adcaa" stroke="#1e9e7a" stroke-width="0.45"/>
<circle cx="144.0" cy="386.4" r="2.2" fill="#1434dc" stroke="#0e259e" stroke-width="0.45"/>
<circle cx="146.0" cy="394.8" r="2.2" fill="#2a8ee8" stroke="#1e66a7" stroke-width="0.45"/>
<circle cx="144.4" cy="400.1" r="2.2" fill="#1434dc" stroke="#0e259e" stroke-width="0.45"/>
<circle cx="144.7" cy="407.5" r="2.2" fill="#2a8ee8" stroke="#1e66a7" stroke-width="0.45"/>
<circle cx="144.0" cy="410.8" r="2.2" fill="#1434dc" stroke="#0e259e" stroke-width="0.45"/>
<circle cx="148.7" cy="410.2" r="2.2" fill="#2a8ee8" stroke="#1e66a7" stroke-width="0.45"/>
<circle cx="152.7" cy="411.8" r="2.2" fill="#2ccce0" stroke="#1f92a1" stroke-width="0.45"/>
<circle cx="150.0" cy="414.2" r="2.2" fill="#2a8ee8" stroke="#1e66a7" stroke-width="0.45"/>
<circle cx="162.7" cy="407.2" r="2.2" fill="#22da4c" stroke="#189c36" stroke-width="0.45"/>
<circle cx="147.4" cy="412.8" r="2.2" fill="#2a8ee8" stroke="#1e66a7" stroke-width="0.45"/>
<circle cx="148.2" cy="415.0" r="2.2" fill="#2ccce0" stroke="#1f92a1" stroke-width="0.45"/>
</g>
<clipPath id="cp3"><rect x="192.6" y="27.7" width="44.30000000000001" height="436"/></clipPath><g clip-path="url(#cp3)">
<circle cx="223.5" cy="435.4" r="1.9" fill="#1a9aa8" stroke="#126e78" stroke-width="0.45"/>
<circle cx="230.7" cy="434.3" r="1.9" fill="#1a9aa8" stroke="#126e78" stroke-width="0.45"/>
<circle cx="193.0" cy="446.6" r="1.9" fill="#1a9aa8" stroke="#126e78" stroke-width="0.45"/>
<circle cx="212.3" cy="460.8" r="1.9" fill="#1a9aa8" stroke="#126e78" stroke-width="0.45"/>
<circle cx="214.4" cy="462.9" r="1.9" fill="#1a9aa8" stroke="#126e78" stroke-width="0.45"/>
</g>
<clipPath id="cp4"><rect x="243.7" y="27.7" width="44.5" height="436"/></clipPath><g clip-path="url(#cp4)">
<circle cx="253.4" cy="32.1" r="2.0" fill="#12881e" stroke="#0c6115" stroke-width="0.45"/>
<circle cx="266.4" cy="32.1" r="2.0" fill="#12881e" stroke="#0c6115" stroke-width="0.45"/>
<circle cx="249.2" cy="45.7" r="2.0" fill="#12881e" stroke="#0c6115" stroke-width="0.45"/>
<circle cx="253.0" cy="44.5" r="2.0" fill="#12881e" stroke="#0c6115" stroke-width="0.45"/>
<circle cx="248.0" cy="55.6" r="2.0" fill="#12881e" stroke="#0c6115" stroke-width="0.45"/>
<circle cx="249.6" cy="56.6" r="2.0" fill="#12881e" stroke="#0c6115" stroke-width="0.45"/>
<circle cx="251.1" cy="58.5" r="2.0" fill="#12881e" stroke="#0c6115" stroke-width="0.45"/>
<circle cx="252.4" cy="60.0" r="2.0" fill="#12881e" stroke="#0c6115" stroke-width="0.45"/>
<circle cx="253.8" cy="61.4" r="2.0" fill="#12881e" stroke="#0c6115" stroke-width="0.45"/>
<circle cx="255.3" cy="63.3" r="2.0" fill="#12881e" stroke="#0c6115" stroke-width="0.45"/>
<circle cx="257.6" cy="65.7" r="2.0" fill="#12881e" stroke="#0c6115" stroke-width="0.45"/>
<circle cx="251.8" cy="67.7" r="2.0" fill="#12881e" stroke="#0c6115" stroke-width="0.45"/>
<circle cx="287.4" cy="66.1" r="2.0" fill="#12881e" stroke="#0c6115" stroke-width="0.45"/>
<circle cx="251.8" cy="84.3" r="2.0" fill="#12881e" stroke="#0c6115" stroke-width="0.45"/>
<circle cx="244.2" cy="111.0" r="2.0" fill="#12881e" stroke="#0c6115" stroke-width="0.45"/>
<circle cx="261.4" cy="115.4" r="2.0" fill="#12881e" stroke="#0c6115" stroke-width="0.45"/>
<circle cx="250.5" cy="122.5" r="2.0" fill="#12881e" stroke="#0c6115" stroke-width="0.45"/>
<circle cx="250.5" cy="122.3" r="2.0" fill="#12881e" stroke="#0c6115" stroke-width="0.45"/>
<circle cx="261.4" cy="129.2" r="2.0" fill="#12881e" stroke="#0c6115" stroke-width="0.45"/>
<circle cx="254.9" cy="147.1" r="2.0" fill="#12881e" stroke="#0c6115" stroke-width="0.45"/>
<circle cx="249.6" cy="155.9" r="2.0" fill="#12881e" stroke="#0c6115" stroke-width="0.45"/>
<circle cx="259.5" cy="165.3" r="2.0" fill="#12881e" stroke="#0c6115" stroke-width="0.45"/>
<circle cx="258.7" cy="180.8" r="2.0" fill="#12881e" stroke="#0c6115" stroke-width="0.45"/>
<circle cx="248.6" cy="214.0" r="2.0" fill="#12881e" stroke="#0c6115" stroke-width="0.45"/>
<circle cx="269.0" cy="215.9" r="2.0" fill="#12881e" stroke="#0c6115" stroke-width="0.45"/>
<circle cx="251.8" cy="222.6" r="2.0" fill="#12881e" stroke="#0c6115" stroke-width="0.45"/>
<circle cx="248.6" cy="229.3" r="2.0" fill="#12881e" stroke="#0c6115" stroke-width="0.45"/>
<circle cx="248.6" cy="234.5" r="2.0" fill="#12881e" stroke="#0c6115" stroke-width="0.45"/>
<circle cx="246.1" cy="241.8" r="2.0" fill="#12881e" stroke="#0c6115" stroke-width="0.45"/>
<circle cx="249.9" cy="260.3" r="2.0" fill="#12881e" stroke="#0c6115" stroke-width="0.45"/>
<circle cx="253.0" cy="258.6" r="2.0" fill="#12881e" stroke="#0c6115" stroke-width="0.45"/>
<circle cx="255.7" cy="260.9" r="2.0" fill="#12881e" stroke="#0c6115" stroke-width="0.45"/>
<circle cx="258.2" cy="262.4" r="2.0" fill="#12881e" stroke="#0c6115" stroke-width="0.45"/>
<circle cx="261.0" cy="262.8" r="2.0" fill="#12881e" stroke="#0c6115" stroke-width="0.45"/>
<circle cx="248.6" cy="280.9" r="2.0" fill="#12881e" stroke="#0c6115" stroke-width="0.45"/>
<circle cx="250.5" cy="280.0" r="2.0" fill="#12881e" stroke="#0c6115" stroke-width="0.45"/>
<circle cx="253.0" cy="294.3" r="2.0" fill="#12881e" stroke="#0c6115" stroke-width="0.45"/>
<circle cx="259.5" cy="292.4" r="2.0" fill="#12881e" stroke="#0c6115" stroke-width="0.45"/>
<circle cx="266.4" cy="307.7" r="2.0" fill="#12881e" stroke="#0c6115" stroke-width="0.45"/>
<circle cx="247.6" cy="321.5" r="2.0" fill="#12881e" stroke="#0c6115" stroke-width="0.45"/>
<circle cx="255.7" cy="319.9" r="2.0" fill="#12881e" stroke="#0c6115" stroke-width="0.45"/>
<circle cx="265.2" cy="321.1" r="2.0" fill="#12881e" stroke="#0c6115" stroke-width="0.45"/>
<circle cx="252.4" cy="353.0" r="2.0" fill="#12881e" stroke="#0c6115" stroke-width="0.45"/>
<circle cx="257.6" cy="365.4" r="2.0" fill="#12881e" stroke="#0c6115" stroke-width="0.45"/>
<circle cx="257.2" cy="381.7" r="2.0" fill="#12881e" stroke="#0c6115" stroke-width="0.45"/>
<circle cx="260.6" cy="380.7" r="2.0" fill="#12881e" stroke="#0c6115" stroke-width="0.45"/>
<circle cx="252.8" cy="413.1" r="2.0" fill="#12881e" stroke="#0c6115" stroke-width="0.45"/>
<circle cx="260.5" cy="412.8" r="2.0" fill="#12881e" stroke="#0c6115" stroke-width="0.45"/>
<circle cx="250.2" cy="426.7" r="2.0" fill="#12881e" stroke="#0c6115" stroke-width="0.45"/>
<circle cx="287.2" cy="428.4" r="2.0" fill="#12881e" stroke="#0c6115" stroke-width="0.45"/>
<circle cx="249.0" cy="447.5" r="2.0" fill="#12881e" stroke="#0c6115" stroke-width="0.45"/>
<circle cx="260.5" cy="449.7" r="2.0" fill="#12881e" stroke="#0c6115" stroke-width="0.45"/>
<circle cx="248.5" cy="55.0" r="2.0" fill="#12881e" stroke="#0c6115" stroke-width="0.45"/>
<circle cx="250.0" cy="57.5" r="2.0" fill="#12881e" stroke="#0c6115" stroke-width="0.45"/>
<circle cx="251.5" cy="55.5" r="2.0" fill="#12881e" stroke="#0c6115" stroke-width="0.45"/>
<circle cx="249.0" cy="58.5" r="2.0" fill="#12881e" stroke="#0c6115" stroke-width="0.45"/>
<circle cx="252.5" cy="60.0" r="2.0" fill="#12881e" stroke="#0c6115" stroke-width="0.45"/>
</g>
<clipPath id="cp5"><rect x="294.7" y="27.7" width="44.60000000000002" height="436"/></clipPath><g clip-path="url(#cp5)">
<circle cx="312.5" cy="40.9" r="2.1" fill="#b8c01a" stroke="#848a12" stroke-width="0.45"/>
<circle cx="310.1" cy="62.3" r="2.1" fill="#b8c01a" stroke="#848a12" stroke-width="0.45"/>
<circle cx="301.5" cy="73.8" r="2.1" fill="#b8c01a" stroke="#848a12" stroke-width="0.45"/>
<circle cx="312.9" cy="78.0" r="2.1" fill="#b8c01a" stroke="#848a12" stroke-width="0.45"/>
<circle cx="296.7" cy="80.5" r="2.1" fill="#b8c01a" stroke="#848a12" stroke-width="0.45"/>
<circle cx="299.6" cy="81.4" r="2.1" fill="#b8c01a" stroke="#848a12" stroke-width="0.45"/>
<circle cx="302.4" cy="82.9" r="2.1" fill="#b8c01a" stroke="#848a12" stroke-width="0.45"/>
<circle cx="312.9" cy="84.9" r="2.1" fill="#b8c01a" stroke="#848a12" stroke-width="0.45"/>
<circle cx="307.2" cy="86.8" r="2.1" fill="#b8c01a" stroke="#848a12" stroke-width="0.45"/>
<circle cx="298.0" cy="89.1" r="2.1" fill="#b8c01a" stroke="#848a12" stroke-width="0.45"/>
<circle cx="302.4" cy="89.1" r="2.1" fill="#b8c01a" stroke="#848a12" stroke-width="0.45"/>
<circle cx="300.5" cy="91.9" r="2.1" fill="#b8c01a" stroke="#848a12" stroke-width="0.45"/>
<circle cx="303.0" cy="95.7" r="2.1" fill="#b8c01a" stroke="#848a12" stroke-width="0.45"/>
<circle cx="301.1" cy="99.6" r="2.1" fill="#b8c01a" stroke="#848a12" stroke-width="0.45"/>
<circle cx="299.2" cy="104.3" r="2.1" fill="#b8c01a" stroke="#848a12" stroke-width="0.45"/>
<circle cx="300.5" cy="106.3" r="2.1" fill="#b8c01a" stroke="#848a12" stroke-width="0.45"/>
<circle cx="303.4" cy="108.2" r="2.1" fill="#b8c01a" stroke="#848a12" stroke-width="0.45"/>
<circle cx="307.2" cy="110.5" r="2.1" fill="#b8c01a" stroke="#848a12" stroke-width="0.45"/>
<circle cx="301.8" cy="112.9" r="2.1" fill="#b8c01a" stroke="#848a12" stroke-width="0.45"/>
<circle cx="299.2" cy="109.1" r="2.1" fill="#b8c01a" stroke="#848a12" stroke-width="0.45"/>
<circle cx="312.9" cy="129.6" r="2.1" fill="#b8c01a" stroke="#848a12" stroke-width="0.45"/>
<circle cx="304.9" cy="133.4" r="2.1" fill="#b8c01a" stroke="#848a12" stroke-width="0.45"/>
<circle cx="303.8" cy="153.4" r="2.1" fill="#b8c01a" stroke="#848a12" stroke-width="0.45"/>
<circle cx="298.6" cy="167.4" r="2.1" fill="#b8c01a" stroke="#848a12" stroke-width="0.45"/>
<circle cx="301.1" cy="173.9" r="2.1" fill="#b8c01a" stroke="#848a12" stroke-width="0.45"/>
<circle cx="298.6" cy="185.0" r="2.1" fill="#b8c01a" stroke="#848a12" stroke-width="0.45"/>
<circle cx="302.4" cy="197.4" r="2.1" fill="#b8c01a" stroke="#848a12" stroke-width="0.45"/>
<circle cx="296.1" cy="200.6" r="2.1" fill="#b8c01a" stroke="#848a12" stroke-width="0.45"/>
<circle cx="304.9" cy="206.9" r="2.1" fill="#b8c01a" stroke="#848a12" stroke-width="0.45"/>
<circle cx="306.2" cy="216.5" r="2.1" fill="#b8c01a" stroke="#848a12" stroke-width="0.45"/>
<circle cx="295.7" cy="254.2" r="2.1" fill="#b8c01a" stroke="#848a12" stroke-width="0.45"/>
<circle cx="337.8" cy="259.3" r="2.1" fill="#b8c01a" stroke="#848a12" stroke-width="0.45"/>
<circle cx="306.8" cy="271.4" r="2.1" fill="#b8c01a" stroke="#848a12" stroke-width="0.45"/>
<circle cx="311.0" cy="270.8" r="2.1" fill="#b8c01a" stroke="#848a12" stroke-width="0.45"/>
<circle cx="308.2" cy="308.3" r="2.1" fill="#b8c01a" stroke="#848a12" stroke-width="0.45"/>
<circle cx="307.6" cy="310.0" r="2.1" fill="#b8c01a" stroke="#848a12" stroke-width="0.45"/>
<circle cx="296.1" cy="318.0" r="2.1" fill="#b8c01a" stroke="#848a12" stroke-width="0.45"/>
<circle cx="297.6" cy="326.8" r="2.1" fill="#b8c01a" stroke="#848a12" stroke-width="0.45"/>
<circle cx="296.7" cy="336.4" r="2.1" fill="#b8c01a" stroke="#848a12" stroke-width="0.45"/>
<circle cx="298.0" cy="339.0" r="2.1" fill="#b8c01a" stroke="#848a12" stroke-width="0.45"/>
<circle cx="295.7" cy="342.9" r="2.1" fill="#b8c01a" stroke="#848a12" stroke-width="0.45"/>
<circle cx="301.1" cy="345.4" r="2.1" fill="#b8c01a" stroke="#848a12" stroke-width="0.45"/>
<circle cx="305.7" cy="361.2" r="2.1" fill="#b8c01a" stroke="#848a12" stroke-width="0.45"/>
<circle cx="296.7" cy="366.4" r="2.1" fill="#b8c01a" stroke="#848a12" stroke-width="0.45"/>
<circle cx="303.8" cy="367.7" r="2.1" fill="#b8c01a" stroke="#848a12" stroke-width="0.45"/>
<circle cx="299.2" cy="389.9" r="2.1" fill="#b8c01a" stroke="#848a12" stroke-width="0.45"/>
<circle cx="302.4" cy="398.9" r="2.1" fill="#b8c01a" stroke="#848a12" stroke-width="0.45"/>
<circle cx="296.7" cy="408.4" r="2.1" fill="#b8c01a" stroke="#848a12" stroke-width="0.45"/>
<circle cx="302.4" cy="407.1" r="2.1" fill="#b8c01a" stroke="#848a12" stroke-width="0.45"/>
<circle cx="307.6" cy="409.0" r="2.1" fill="#b8c01a" stroke="#848a12" stroke-width="0.45"/>
<circle cx="299.5" cy="390.2" r="2.1" fill="#b8c01a" stroke="#848a12" stroke-width="0.45"/>
<circle cx="302.8" cy="399.3" r="2.1" fill="#b8c01a" stroke="#848a12" stroke-width="0.45"/>
<circle cx="296.2" cy="409.8" r="2.1" fill="#b8c01a" stroke="#848a12" stroke-width="0.45"/>
<circle cx="302.3" cy="407.5" r="2.1" fill="#b8c01a" stroke="#848a12" stroke-width="0.45"/>
<circle cx="307.7" cy="409.8" r="2.1" fill="#b8c01a" stroke="#848a12" stroke-width="0.45"/>
<circle cx="302.8" cy="416.9" r="2.1" fill="#b8c01a" stroke="#848a12" stroke-width="0.45"/>
<circle cx="301.8" cy="425.1" r="2.1" fill="#b8c01a" stroke="#848a12" stroke-width="0.45"/>
<circle cx="298.0" cy="80.0" r="2.1" fill="#b8c01a" stroke="#848a12" stroke-width="0.45"/>
<circle cx="300.5" cy="83.0" r="2.1" fill="#b8c01a" stroke="#848a12" stroke-width="0.45"/>
<circle cx="302.0" cy="86.5" r="2.1" fill="#b8c01a" stroke="#848a12" stroke-width="0.45"/>
<circle cx="300.0" cy="90.0" r="2.1" fill="#b8c01a" stroke="#848a12" stroke-width="0.45"/>
<circle cx="303.0" cy="92.0" r="2.1" fill="#b8c01a" stroke="#848a12" stroke-width="0.45"/>
<circle cx="304.0" cy="95.0" r="2.1" fill="#b8c01a" stroke="#848a12" stroke-width="0.45"/>
<circle cx="301.0" cy="98.0" r="2.1" fill="#b8c01a" stroke="#848a12" stroke-width="0.45"/>
<circle cx="300.0" cy="104.0" r="2.1" fill="#b8c01a" stroke="#848a12" stroke-width="0.45"/>
<circle cx="302.0" cy="106.0" r="2.1" fill="#b8c01a" stroke="#848a12" stroke-width="0.45"/>
<circle cx="304.5" cy="108.0" r="2.1" fill="#b8c01a" stroke="#848a12" stroke-width="0.45"/>
<circle cx="299.0" cy="107.0" r="2.1" fill="#b8c01a" stroke="#848a12" stroke-width="0.45"/>
</g>
<circle cx="347.6" cy="289.1" r="2.0" fill="#f01010" stroke="#ac0b0b" stroke-width="0.45"/>
<circle cx="348.4" cy="294.4" r="2.0" fill="#f01010" stroke="#ac0b0b" stroke-width="0.45"/>
<circle cx="350.7" cy="297.5" r="2.0" fill="#f01010" stroke="#ac0b0b" stroke-width="0.45"/>
<circle cx="353.0" cy="298.2" r="2.0" fill="#f01010" stroke="#ac0b0b" stroke-width="0.45"/>
<circle cx="349.2" cy="300.5" r="2.0" fill="#f01010" stroke="#ac0b0b" stroke-width="0.45"/>
<circle cx="351.5" cy="302.1" r="2.0" fill="#f01010" stroke="#ac0b0b" stroke-width="0.45"/>
<circle cx="348.4" cy="304.4" r="2.0" fill="#f01010" stroke="#ac0b0b" stroke-width="0.45"/>
<circle cx="352.2" cy="305.9" r="2.0" fill="#f01010" stroke="#ac0b0b" stroke-width="0.45"/>
<circle cx="349.2" cy="308.2" r="2.0" fill="#f01010" stroke="#ac0b0b" stroke-width="0.45"/>
<circle cx="353.0" cy="310.5" r="2.0" fill="#f01010" stroke="#ac0b0b" stroke-width="0.45"/>
<circle cx="349.9" cy="309.7" r="2.0" fill="#f01010" stroke="#ac0b0b" stroke-width="0.45"/>
<circle cx="361.1" cy="308.2" r="2.0" fill="#f01010" stroke="#ac0b0b" stroke-width="0.45"/>
<circle cx="371.3" cy="307.4" r="2.0" fill="#f01010" stroke="#ac0b0b" stroke-width="0.45"/>
<circle cx="348.4" cy="339.5" r="2.0" fill="#f01010" stroke="#ac0b0b" stroke-width="0.45"/>
<circle cx="349.2" cy="341.8" r="2.0" fill="#f01010" stroke="#ac0b0b" stroke-width="0.45"/>
<circle cx="348.4" cy="343.1" r="2.0" fill="#f01010" stroke="#ac0b0b" stroke-width="0.45"/>
<circle cx="348.9" cy="347.6" r="2.0" fill="#f01010" stroke="#ac0b0b" stroke-width="0.45"/>
<circle cx="349.2" cy="351.5" r="2.0" fill="#f01010" stroke="#ac0b0b" stroke-width="0.45"/>
<circle cx="348.4" cy="356.8" r="2.0" fill="#f01010" stroke="#ac0b0b" stroke-width="0.45"/>
<circle cx="387.6" cy="361.4" r="2.0" fill="#f01010" stroke="#ac0b0b" stroke-width="0.45"/>
<circle cx="352.5" cy="376.3" r="2.0" fill="#f01010" stroke="#ac0b0b" stroke-width="0.45"/>
<circle cx="385.8" cy="376.9" r="2.0" fill="#f01010" stroke="#ac0b0b" stroke-width="0.45"/>
<circle cx="350.7" cy="385.0" r="2.0" fill="#f01010" stroke="#ac0b0b" stroke-width="0.45"/>
<circle cx="349.5" cy="387.3" r="2.0" fill="#f01010" stroke="#ac0b0b" stroke-width="0.45"/>
<circle cx="353.4" cy="396.8" r="2.0" fill="#f01010" stroke="#ac0b0b" stroke-width="0.45"/>
<circle cx="347.8" cy="288.0" r="1.6" fill="#e81010" stroke="#a70b0b" stroke-width="0.45"/>
<circle cx="347.8" cy="292.0" r="1.6" fill="#e81010" stroke="#a70b0b" stroke-width="0.45"/>
<circle cx="347.8" cy="296.0" r="1.6" fill="#e81010" stroke="#a70b0b" stroke-width="0.45"/>
<circle cx="347.8" cy="300.0" r="1.6" fill="#e81010" stroke="#a70b0b" stroke-width="0.45"/>
<circle cx="347.8" cy="304.0" r="1.6" fill="#e81010" stroke="#a70b0b" stroke-width="0.45"/>
<circle cx="347.8" cy="308.0" r="1.6" fill="#e81010" stroke="#a70b0b" stroke-width="0.45"/>
<circle cx="347.8" cy="338.0" r="1.6" fill="#e81010" stroke="#a70b0b" stroke-width="0.45"/>
<circle cx="347.8" cy="341.0" r="1.6" fill="#e81010" stroke="#a70b0b" stroke-width="0.45"/>
<circle cx="347.8" cy="344.0" r="1.6" fill="#e81010" stroke="#a70b0b" stroke-width="0.45"/>
<circle cx="347.8" cy="350.0" r="1.6" fill="#e81010" stroke="#a70b0b" stroke-width="0.45"/>
<circle cx="347.8" cy="354.0" r="1.6" fill="#e81010" stroke="#a70b0b" stroke-width="0.45"/>
<circle cx="347.8" cy="360.0" r="1.6" fill="#e81010" stroke="#a70b0b" stroke-width="0.45"/>
<circle cx="347.8" cy="366.0" r="1.6" fill="#e81010" stroke="#a70b0b" stroke-width="0.45"/>
<circle cx="347.8" cy="372.0" r="1.6" fill="#e81010" stroke="#a70b0b" stroke-width="0.45"/>
<circle cx="347.8" cy="378.0" r="1.6" fill="#e81010" stroke="#a70b0b" stroke-width="0.45"/>
<circle cx="347.8" cy="384.0" r="1.6" fill="#e81010" stroke="#a70b0b" stroke-width="0.45"/>
<circle cx="347.8" cy="392.0" r="1.6" fill="#e81010" stroke="#a70b0b" stroke-width="0.45"/>
<circle cx="347.8" cy="398.0" r="1.6" fill="#e81010" stroke="#a70b0b" stroke-width="0.45"/>
<line x1="91" y1="128.8" x2="482.5" y2="128.8" stroke="#111" stroke-width="1.5" stroke-dasharray="4.2 2.8"/>
<line x1="91" y1="278.8" x2="482.5" y2="278.8" stroke="#111" stroke-width="1.5" stroke-dasharray="4.2 2.8"/>
<line x1="91" y1="387.5" x2="482.5" y2="387.5" stroke="#111" stroke-width="1.5" stroke-dasharray="4.2 2.8"/>
<line x1="91" y1="434" x2="482.5" y2="434" stroke="#111" stroke-width="1.5" stroke-dasharray="4.2 2.8"/>
<text x="384.5" y="85.4" font-size="17" fill="#111" text-anchor="middle" font-family="Liberation Sans">V</text>
<text x="376.8" y="209.6" font-size="18" fill="#111" font-family="Liberation Serif" textLength="15.3" lengthAdjust="spacingAndGlyphs">IV</text>
<path d="M377.1,328.15 Q377.90000000000003,326.9 378.70000000000005,326.9 L389.29999999999995,326.9 Q390.09999999999997,326.9 390.9,328.15 Z" fill="#111"/>
<path d="M377.1,337.55 Q377.90000000000003,338.8 378.70000000000005,338.8 L389.29999999999995,338.8 Q390.09999999999997,338.8 390.9,337.55 Z" fill="#111"/>
<rect x="378.85" y="326.9" width="1.5" height="11.900000000000034" fill="#111"/>
<rect x="383.25" y="326.9" width="1.5" height="11.900000000000034" fill="#111"/>
<rect x="387.75" y="326.9" width="1.5" height="11.900000000000034" fill="#111"/>
<path d="M375.6,406.05 Q376.40000000000003,404.8 377.20000000000005,404.8 L385.79999999999995,404.8 Q386.59999999999997,404.8 387.4,406.05 Z" fill="#111"/>
<path d="M375.6,415.55 Q376.40000000000003,416.8 377.20000000000005,416.8 L385.79999999999995,416.8 Q386.59999999999997,416.8 387.4,415.55 Z" fill="#111"/>
<rect x="377.45" y="404.8" width="1.5" height="12.0" fill="#111"/>
<rect x="384.05" y="404.8" width="1.5" height="12.0" fill="#111"/>
<path d="M378.1,452.05 Q378.90000000000003,450.8 379.70000000000005,450.8 L383.0,450.8 Q383.8,450.8 384.6,452.05 Z" fill="#111"/>
<path d="M378.1,462.05 Q378.90000000000003,463.3 379.70000000000005,463.3 L383.0,463.3 Q383.8,463.3 384.6,462.05 Z" fill="#111"/>
<rect x="380.65" y="450.8" width="1.5" height="12.5" fill="#111"/>
<rect x="126.3" y="429.20" width="9.6" height="3.16" fill="#ff0000"/>
<rect x="126.3" y="432.06" width="9.6" height="3.16" fill="#ff9900"/>
<rect x="126.3" y="434.92" width="9.6" height="3.16" fill="#ffdd00"/>
<rect x="126.3" y="437.78" width="9.6" height="3.16" fill="#bbff00"/>
<rect x="126.3" y="440.64" width="9.6" height="3.16" fill="#00ff00"/>
<rect x="126.3" y="443.50" width="9.6" height="3.16" fill="#00ee44"/>
<rect x="126.3" y="446.36" width="9.6" height="3.16" fill="#00eebb"/>
<rect x="126.3" y="449.22" width="9.6" height="3.16" fill="#00ccff"/>
<rect x="126.3" y="452.08" width="9.6" height="3.16" fill="#0088ff"/>
<rect x="126.3" y="454.94" width="9.6" height="3.16" fill="#0000ff"/>
<rect x="171.8" y="428.70" width="9.2" height="3.13" fill="#ff0000"/>
<rect x="171.8" y="431.53" width="9.2" height="3.13" fill="#ff9900"/>
<rect x="171.8" y="434.36" width="9.2" height="3.13" fill="#ffdd00"/>
<rect x="171.8" y="437.19" width="9.2" height="3.13" fill="#bbff00"/>
<rect x="171.8" y="440.02" width="9.2" height="3.13" fill="#00ff00"/>
<rect x="171.8" y="442.85" width="9.2" height="3.13" fill="#00ee44"/>
<rect x="171.8" y="445.68" width="9.2" height="3.13" fill="#00eebb"/>
<rect x="171.8" y="448.51" width="9.2" height="3.13" fill="#00ccff"/>
<rect x="171.8" y="451.34" width="9.2" height="3.13" fill="#0088ff"/>
<rect x="171.8" y="454.17" width="9.2" height="3.13" fill="#0000ff"/>
<text x="109.5" y="427.9" font-size="8.5" fill="#333" stroke="#333" stroke-width="0.10" text-anchor="start" font-family="Liberation Serif" textLength="30.2" lengthAdjust="spacingAndGlyphs" >Al-poor</text>
<text x="111" y="464.3" font-size="8.5" fill="#333" stroke="#333" stroke-width="0.10" text-anchor="start" font-family="Liberation Serif" textLength="29" lengthAdjust="spacingAndGlyphs" >Al-rich</text>
<text x="156.8" y="428.9" font-size="8.5" fill="#333" stroke="#333" stroke-width="0.10" text-anchor="start" font-family="Liberation Serif" textLength="34.2" lengthAdjust="spacingAndGlyphs" >Kao-WX</text>
<text x="160" y="464.3" font-size="8.5" fill="#333" stroke="#333" stroke-width="0.10" text-anchor="start" font-family="Liberation Serif" textLength="30.4" lengthAdjust="spacingAndGlyphs" >Kao-PX</text>
<text x="495.1" y="143.3" font-size="14.5" fill="#1a1a1a" font-family="Liberation Serif" textLength="42.6" lengthAdjust="spacingAndGlyphs">Mineral</text>
<rect x="493.9" y="147.30" width="44.9" height="15.24" fill="#7a7af2"/>
<rect x="493.9" y="162.34" width="44.9" height="15.24" fill="#d8627a"/>
<rect x="493.9" y="177.38" width="44.9" height="15.24" fill="#1c1cee"/>
<rect x="493.9" y="192.42" width="44.9" height="15.24" fill="#7a5a16"/>
<rect x="493.9" y="207.46" width="44.9" height="15.24" fill="#00ff44"/>
<rect x="493.9" y="222.50" width="44.9" height="15.24" fill="#c88292"/>
<rect x="493.9" y="237.54" width="44.9" height="15.24" fill="#d8b2a2"/>
<rect x="493.9" y="252.58" width="44.9" height="15.24" fill="#22ff84"/>
<rect x="493.9" y="267.62" width="44.9" height="15.24" fill="#1a1ae0"/>
<rect x="493.9" y="282.66" width="44.9" height="15.24" fill="#4444f0"/>
<rect x="493.9" y="297.70" width="44.9" height="15.24" fill="#ff5454"/>
<rect x="493.9" y="312.74" width="44.9" height="15.24" fill="#ffff00"/>
<rect x="493.9" y="327.78" width="44.9" height="15.24" fill="#ffff00"/>
<rect x="493.9" y="342.82" width="44.9" height="15.24" fill="#4c52f0"/>
<rect x="493.9" y="357.86" width="44.9" height="15.24" fill="#ffff33"/>
<rect x="493.9" y="372.90" width="44.9" height="15.24" fill="#fff9e2"/>
<rect x="493.9" y="387.94" width="44.9" height="15.24" fill="#c2b2aa"/>
<rect x="493.9" y="402.98" width="44.9" height="15.24" fill="#ff2222"/>
<rect x="493.9" y="418.02" width="44.9" height="15.24" fill="#ffff00"/>
<rect x="493.9" y="433.06" width="44.9" height="15.24" fill="#ffff00"/>
<rect x="493.9" y="448.10" width="44.9" height="15.24" fill="#ffff84"/>
<text x="494.6" y="158.3" font-size="7.4" fill="#1e1e78" font-family="Liberation Serif" textLength="24.4" lengthAdjust="spacingAndGlyphs">Ankerite</text>
<text x="494.6" y="174.3" font-size="7.4" fill="#4a1020" font-family="Liberation Serif" textLength="26.4" lengthAdjust="spacingAndGlyphs">Rubellite</text>
<text x="494.6" y="190.3" font-size="7.4" fill="#ffffff" font-family="Liberation Serif" textLength="27.5" lengthAdjust="spacingAndGlyphs">Dolomite</text>
<text x="494.6" y="204.9" font-size="7.4" fill="#e8dcb8" font-family="Liberation Serif" textLength="22.3" lengthAdjust="spacingAndGlyphs">Jarosite</text>
<text x="494.6" y="219.5" font-size="7.4" fill="#003a10" font-family="Liberation Serif" textLength="43.4" lengthAdjust="spacingAndGlyphs">Chlorite-FeMg</text>
<text x="494.6" y="232.9" font-size="6.0" fill="#4a1a28" font-family="Liberation Serif" textLength="37" lengthAdjust="spacingAndGlyphs">Tourmaline-Fe</text>
<text x="494.6" y="248.2" font-size="7.4" fill="#3a2020" font-family="Liberation Serif" textLength="25.7" lengthAdjust="spacingAndGlyphs">Saponite</text>
<text x="494.6" y="264.2" font-size="7.4" fill="#0a3a1a" font-family="Liberation Serif" textLength="32.3" lengthAdjust="spacingAndGlyphs">Chlorite-Fe</text>
<text x="494.6" y="279.6" font-size="7.4" fill="#ffffff" font-family="Liberation Serif" textLength="31" lengthAdjust="spacingAndGlyphs">Magnesite</text>
<text x="494.6" y="294.7" font-size="7.4" fill="#ffffff" font-family="Liberation Serif" textLength="21" lengthAdjust="spacingAndGlyphs">Calcite</text>
<text x="494.6" y="308.4" font-size="7.4" fill="#ffe8e8" font-family="Liberation Serif" textLength="38.6" lengthAdjust="spacingAndGlyphs">Kaolinite-PX</text>
<text x="494.6" y="323.4" font-size="7.4" fill="#2a2a00" font-family="Liberation Serif" textLength="42" lengthAdjust="spacingAndGlyphs">PhengiticIllite</text>
<text x="494.6" y="338.0" font-size="7.2" fill="#2a2a00" font-family="Liberation Serif" textLength="43.5" lengthAdjust="spacingAndGlyphs">ParagoniticIllite</text>
<text x="494.6" y="354.6" font-size="7.4" fill="#10105a" font-family="Liberation Serif" textLength="22.3" lengthAdjust="spacingAndGlyphs">Siderite</text>
<text x="494.6" y="369.7" font-size="7.4" fill="#2a2a00" font-family="Liberation Serif" textLength="31.8" lengthAdjust="spacingAndGlyphs">Paragonite</text>
<text x="494.6" y="384.9" font-size="7.4" fill="#2a2a2a" font-family="Liberation Serif" textLength="26.6" lengthAdjust="spacingAndGlyphs">Diaspore</text>
<text x="494.6" y="398.6" font-size="6.0" fill="#1e1e1e" font-family="Liberation Serif" textLength="38.3" lengthAdjust="spacingAndGlyphs">Montmorillonite</text>
<text x="494.6" y="413.6" font-size="7.4" fill="#ffffff" font-family="Liberation Serif" textLength="41.7" lengthAdjust="spacingAndGlyphs">Kaolinite-WX</text>
<text x="494.6" y="429.1" font-size="7.4" fill="#2a2a00" font-family="Liberation Serif" textLength="25.7" lengthAdjust="spacingAndGlyphs">Phengite</text>
<text x="494.6" y="444.3" font-size="6.0" fill="#2a2a00" font-family="Liberation Serif" textLength="41.7" lengthAdjust="spacingAndGlyphs">MuscoviticIllite</text>
<text x="494.6" y="460.8" font-size="7.4" fill="#2a2a00" font-family="Liberation Serif" textLength="30.5" lengthAdjust="spacingAndGlyphs">Muscovite</text>
<rect x="50.4" y="475.4" width="22.4" height="17.0" fill="#f7892a" stroke="#5a5a5a" stroke-width="0.8"/>
<rect x="153.2" y="475.4" width="22.4" height="17.0" fill="#fbc45e" stroke="#5a5a5a" stroke-width="0.8"/>
<rect x="263.6" y="475.4" width="22.4" height="17.0" fill="#f8b8d4" stroke="#5a5a5a" stroke-width="0.8"/>
<rect x="406.6" y="475.4" width="22.4" height="17.0" fill="#f5a95f" stroke="#5a5a5a" stroke-width="0.8"/>
<rect x="50.4" y="501.7" width="22.4" height="16.5" fill="#ffffff" stroke="#5a5a5a" stroke-width="0.8"/>
<rect x="153.2" y="501.7" width="22.4" height="16.5" fill="#ffffff" stroke="#5a5a5a" stroke-width="0.8"/>
<rect x="264.2" y="501.7" width="22.4" height="16.5" fill="#ffffff" stroke="#5a5a5a" stroke-width="0.8"/>
<rect x="406.6" y="501.7" width="22.4" height="16.5" fill="#ffffff" stroke="#5a5a5a" stroke-width="0.8"/>
<text x="76.9" y="484.0" font-size="8.6" fill="#4a4a4a" font-family="Liberation Serif" textLength="73.1" lengthAdjust="spacingAndGlyphs">Pyrite-sericite-quartz</text>
<text x="76.9" y="491.7" font-size="8.6" fill="#4a4a4a" font-family="Liberation Serif" textLength="50.4" lengthAdjust="spacingAndGlyphs">alteration zone</text>
<text x="179.9" y="483.0" font-size="8.6" fill="#4a4a4a" font-family="Liberation Serif" textLength="59.8" lengthAdjust="spacingAndGlyphs">Pyrite-sericitized</text>
<text x="179.9" y="490.8" font-size="8.6" fill="#4a4a4a" font-family="Liberation Serif" textLength="79.4" lengthAdjust="spacingAndGlyphs">granitic alteration zone</text>
<text x="292.3" y="487.7" font-size="8.6" fill="#4a4a4a" font-family="Liberation Serif" textLength="106.3" lengthAdjust="spacingAndGlyphs">Medium-grained Monzogranite</text>
<text x="437.8" y="483.0" font-size="8.6" fill="#4a4a4a" font-family="Liberation Serif" textLength="51.5" lengthAdjust="spacingAndGlyphs">Sericite-quartz</text>
<text x="437.8" y="491.7" font-size="8.6" fill="#4a4a4a" font-family="Liberation Serif" textLength="50.1" lengthAdjust="spacingAndGlyphs">alteration zone</text>
<text x="76.9" y="514.3" font-size="8.6" fill="#4a4a4a" font-family="Liberation Serif" textLength="28.6" lengthAdjust="spacingAndGlyphs">Orebody</text>
<text x="183" y="513.7" font-size="8.6" fill="#4a4a4a" font-family="Liberation Serif" textLength="32.4" lengthAdjust="spacingAndGlyphs">Drill hole</text>
<text x="293.7" y="513.2" font-size="8.6" fill="#4a4a4a" font-family="Liberation Serif" textLength="93.8" lengthAdjust="spacingAndGlyphs">Diorite porphyrite specialty</text>
<text x="440.7" y="513.7" font-size="8.6" fill="#4a4a4a" font-family="Liberation Serif" textLength="17.2" lengthAdjust="spacingAndGlyphs">Fault</text>
<text x="52.2" y="514.2" font-size="6.5" fill="#999" font-family="Liberation Serif" textLength="7.6" lengthAdjust="spacingAndGlyphs">[-1]</text>
<path d="M59.9,517.8 Q62.5,511.5 68.9,509.2 Q64.5,512.5 60.6,517.9 Z" fill="#ee1a1a"/>
<path d="M164.3,515.3 L164.3,505.2 M161.2,510.6 L164.3,504.7 L167.5,510.6" fill="none" stroke="#111" stroke-width="1.2" stroke-linejoin="round"/>
<path d="M266.8,513.4 Q275,509.6 284.1,508.1 Q275,511.5 266.8,513.4 Z" fill="#12c07a" stroke="#12c07a" stroke-width="0.8"/>
<line x1="406.8" y1="518.0" x2="428.8" y2="501.9" stroke="#222" stroke-width="0.8"/>
</svg></body></html>
